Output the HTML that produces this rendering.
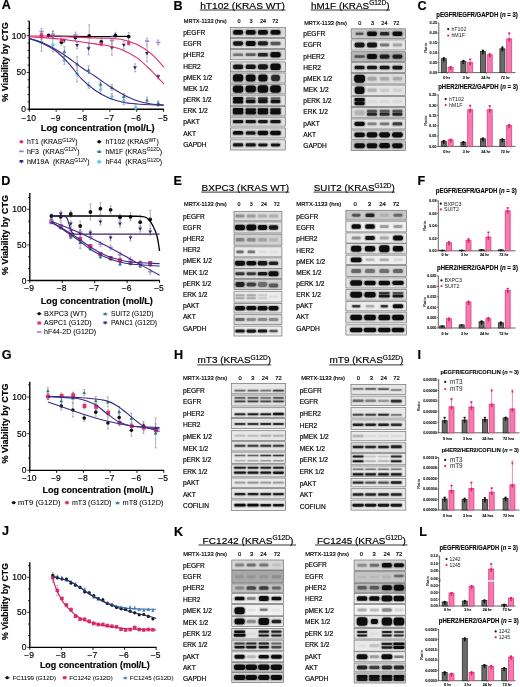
<!DOCTYPE html>
<html><head><meta charset="utf-8"><style>
html,body{margin:0;padding:0;background:#fff;overflow:hidden}
svg{display:block}
text{font-family:"Liberation Sans",Arial,sans-serif;stroke:#000;stroke-width:0.17px}
.ns text{stroke:none}
</style></head><body>
<svg width="520" height="687" viewBox="0 0 520 687">
<defs><filter id="bl" x="-5%" y="-5%" width="110%" height="110%"><feGaussianBlur stdDeviation="0.45"/></filter>
<filter id="bb" x="-20%" y="-50%" width="140%" height="200%"><feGaussianBlur stdDeviation="0.55"/></filter></defs>
<rect width="520" height="687" fill="#fff"/>
<text x="1.7" y="9.4" font-size="12.6" font-weight="bold">A</text>
<line x1="29.30" y1="21.00" x2="29.30" y2="109.80" stroke="#000" stroke-width="1.35"/>
<line x1="26.70" y1="109.20" x2="29.30" y2="109.20" stroke="#000" stroke-width="0.8"/>
<line x1="27.50" y1="101.85" x2="29.30" y2="101.85" stroke="#000" stroke-width="0.8"/>
<line x1="27.50" y1="94.50" x2="29.30" y2="94.50" stroke="#000" stroke-width="0.8"/>
<line x1="27.50" y1="87.15" x2="29.30" y2="87.15" stroke="#000" stroke-width="0.8"/>
<line x1="27.50" y1="79.80" x2="29.30" y2="79.80" stroke="#000" stroke-width="0.8"/>
<line x1="26.70" y1="72.45" x2="29.30" y2="72.45" stroke="#000" stroke-width="0.8"/>
<line x1="27.50" y1="65.10" x2="29.30" y2="65.10" stroke="#000" stroke-width="0.8"/>
<line x1="27.50" y1="57.75" x2="29.30" y2="57.75" stroke="#000" stroke-width="0.8"/>
<line x1="27.50" y1="50.40" x2="29.30" y2="50.40" stroke="#000" stroke-width="0.8"/>
<line x1="27.50" y1="43.05" x2="29.30" y2="43.05" stroke="#000" stroke-width="0.8"/>
<line x1="26.70" y1="35.70" x2="29.30" y2="35.70" stroke="#000" stroke-width="0.8"/>
<line x1="27.50" y1="28.35" x2="29.30" y2="28.35" stroke="#000" stroke-width="0.8"/>
<line x1="27.50" y1="21.00" x2="29.30" y2="21.00" stroke="#000" stroke-width="0.8"/>
<text x="26.0" y="112.2" font-size="8.5" text-anchor="end">0</text>
<text x="26.0" y="75.45" font-size="8.5" text-anchor="end">50</text>
<text x="26.0" y="38.7" font-size="8.5" text-anchor="end">100</text>
<line x1="28.80" y1="109.20" x2="163.85" y2="109.20" stroke="#000" stroke-width="1.35"/>
<line x1="29.30" y1="109.20" x2="29.30" y2="111.80" stroke="#000" stroke-width="0.9"/>
<text x="28.7" y="120.6" font-size="8.5" text-anchor="middle">−10</text>
<line x1="56.15" y1="109.20" x2="56.15" y2="111.80" stroke="#000" stroke-width="0.9"/>
<text x="55.550000000000004" y="120.6" font-size="8.5" text-anchor="middle">−9</text>
<line x1="83.00" y1="109.20" x2="83.00" y2="111.80" stroke="#000" stroke-width="0.9"/>
<text x="82.4" y="120.6" font-size="8.5" text-anchor="middle">−8</text>
<line x1="109.85" y1="109.20" x2="109.85" y2="111.80" stroke="#000" stroke-width="0.9"/>
<text x="109.25000000000001" y="120.6" font-size="8.5" text-anchor="middle">−7</text>
<line x1="136.70" y1="109.20" x2="136.70" y2="111.80" stroke="#000" stroke-width="0.9"/>
<text x="136.10000000000002" y="120.6" font-size="8.5" text-anchor="middle">−6</text>
<line x1="163.55" y1="109.20" x2="163.55" y2="111.80" stroke="#000" stroke-width="0.9"/>
<text x="162.95000000000002" y="120.6" font-size="8.5" text-anchor="middle">−5</text>
<text x="0" y="0" font-size="9.4" font-weight="bold" text-anchor="middle" textLength="79.5" lengthAdjust="spacingAndGlyphs" transform="translate(7.7,62.0) rotate(-90)">% Viability by CTG</text>
<text x="40.8" y="130.6" font-size="9.3" font-weight="bold" textLength="113.8" lengthAdjust="spacingAndGlyphs">Log concentration (mol/L)</text>
<path d="M48.50,36.20 C55.42,36.27 76.63,36.57 90.00,36.60 C103.37,36.63 122.25,36.43 128.70,36.40" stroke="#000" stroke-width="1.3" fill="none"/>
<line x1="61.40" y1="39.20" x2="61.40" y2="45.20" stroke="#8a8a96" stroke-width="0.65"/>
<line x1="60.30" y1="39.20" x2="62.50" y2="39.20" stroke="#8a8a96" stroke-width="0.65"/>
<line x1="60.30" y1="45.20" x2="62.50" y2="45.20" stroke="#8a8a96" stroke-width="0.65"/>
<line x1="75.40" y1="34.50" x2="75.40" y2="40.50" stroke="#8a8a96" stroke-width="0.65"/>
<line x1="74.30" y1="34.50" x2="76.50" y2="34.50" stroke="#8a8a96" stroke-width="0.65"/>
<line x1="74.30" y1="40.50" x2="76.50" y2="40.50" stroke="#8a8a96" stroke-width="0.65"/>
<line x1="89.20" y1="24.90" x2="89.20" y2="46.90" stroke="#8a8a96" stroke-width="0.65"/>
<line x1="88.10" y1="24.90" x2="90.30" y2="24.90" stroke="#8a8a96" stroke-width="0.65"/>
<line x1="88.10" y1="46.90" x2="90.30" y2="46.90" stroke="#8a8a96" stroke-width="0.65"/>
<line x1="101.30" y1="38.80" x2="101.30" y2="44.80" stroke="#8a8a96" stroke-width="0.65"/>
<line x1="100.20" y1="38.80" x2="102.40" y2="38.80" stroke="#8a8a96" stroke-width="0.65"/>
<line x1="100.20" y1="44.80" x2="102.40" y2="44.80" stroke="#8a8a96" stroke-width="0.65"/>
<line x1="115.40" y1="32.40" x2="115.40" y2="38.40" stroke="#8a8a96" stroke-width="0.65"/>
<line x1="114.30" y1="32.40" x2="116.50" y2="32.40" stroke="#8a8a96" stroke-width="0.65"/>
<line x1="114.30" y1="38.40" x2="116.50" y2="38.40" stroke="#8a8a96" stroke-width="0.65"/>
<line x1="128.70" y1="32.60" x2="128.70" y2="40.60" stroke="#8a8a96" stroke-width="0.65"/>
<line x1="127.60" y1="32.60" x2="129.80" y2="32.60" stroke="#8a8a96" stroke-width="0.65"/>
<line x1="127.60" y1="40.60" x2="129.80" y2="40.60" stroke="#8a8a96" stroke-width="0.65"/>
<line x1="41.50" y1="33.20" x2="41.50" y2="51.20" stroke="#8a8a96" stroke-width="0.65"/>
<line x1="40.40" y1="33.20" x2="42.60" y2="33.20" stroke="#8a8a96" stroke-width="0.65"/>
<line x1="40.40" y1="51.20" x2="42.60" y2="51.20" stroke="#8a8a96" stroke-width="0.65"/>
<line x1="52.90" y1="37.90" x2="52.90" y2="51.90" stroke="#8a8a96" stroke-width="0.65"/>
<line x1="51.80" y1="37.90" x2="54.00" y2="37.90" stroke="#8a8a96" stroke-width="0.65"/>
<line x1="51.80" y1="51.90" x2="54.00" y2="51.90" stroke="#8a8a96" stroke-width="0.65"/>
<line x1="64.30" y1="56.40" x2="64.30" y2="64.40" stroke="#8a8a96" stroke-width="0.65"/>
<line x1="63.20" y1="56.40" x2="65.40" y2="56.40" stroke="#8a8a96" stroke-width="0.65"/>
<line x1="63.20" y1="64.40" x2="65.40" y2="64.40" stroke="#8a8a96" stroke-width="0.65"/>
<line x1="77.10" y1="65.80" x2="77.10" y2="81.80" stroke="#8a8a96" stroke-width="0.65"/>
<line x1="76.00" y1="65.80" x2="78.20" y2="65.80" stroke="#8a8a96" stroke-width="0.65"/>
<line x1="76.00" y1="81.80" x2="78.20" y2="81.80" stroke="#8a8a96" stroke-width="0.65"/>
<line x1="88.60" y1="82.30" x2="88.60" y2="88.30" stroke="#8a8a96" stroke-width="0.65"/>
<line x1="87.50" y1="82.30" x2="89.70" y2="82.30" stroke="#8a8a96" stroke-width="0.65"/>
<line x1="87.50" y1="88.30" x2="89.70" y2="88.30" stroke="#8a8a96" stroke-width="0.65"/>
<line x1="100.60" y1="85.50" x2="100.60" y2="93.50" stroke="#8a8a96" stroke-width="0.65"/>
<line x1="99.50" y1="85.50" x2="101.70" y2="85.50" stroke="#8a8a96" stroke-width="0.65"/>
<line x1="99.50" y1="93.50" x2="101.70" y2="93.50" stroke="#8a8a96" stroke-width="0.65"/>
<line x1="111.90" y1="93.50" x2="111.90" y2="99.50" stroke="#8a8a96" stroke-width="0.65"/>
<line x1="110.80" y1="93.50" x2="113.00" y2="93.50" stroke="#8a8a96" stroke-width="0.65"/>
<line x1="110.80" y1="99.50" x2="113.00" y2="99.50" stroke="#8a8a96" stroke-width="0.65"/>
<line x1="123.80" y1="96.80" x2="123.80" y2="104.80" stroke="#8a8a96" stroke-width="0.65"/>
<line x1="122.70" y1="96.80" x2="124.90" y2="96.80" stroke="#8a8a96" stroke-width="0.65"/>
<line x1="122.70" y1="104.80" x2="124.90" y2="104.80" stroke="#8a8a96" stroke-width="0.65"/>
<line x1="135.70" y1="105.80" x2="135.70" y2="109.80" stroke="#8a8a96" stroke-width="0.65"/>
<line x1="134.60" y1="105.80" x2="136.80" y2="105.80" stroke="#8a8a96" stroke-width="0.65"/>
<line x1="134.60" y1="109.80" x2="136.80" y2="109.80" stroke="#8a8a96" stroke-width="0.65"/>
<line x1="158.20" y1="102.30" x2="158.20" y2="106.30" stroke="#8a8a96" stroke-width="0.65"/>
<line x1="157.10" y1="102.30" x2="159.30" y2="102.30" stroke="#8a8a96" stroke-width="0.65"/>
<line x1="157.10" y1="106.30" x2="159.30" y2="106.30" stroke="#8a8a96" stroke-width="0.65"/>
<line x1="41.50" y1="31.50" x2="41.50" y2="39.50" stroke="#8a8a96" stroke-width="0.65"/>
<line x1="40.40" y1="31.50" x2="42.60" y2="31.50" stroke="#8a8a96" stroke-width="0.65"/>
<line x1="40.40" y1="39.50" x2="42.60" y2="39.50" stroke="#8a8a96" stroke-width="0.65"/>
<line x1="52.90" y1="30.80" x2="52.90" y2="38.80" stroke="#8a8a96" stroke-width="0.65"/>
<line x1="51.80" y1="30.80" x2="54.00" y2="30.80" stroke="#8a8a96" stroke-width="0.65"/>
<line x1="51.80" y1="38.80" x2="54.00" y2="38.80" stroke="#8a8a96" stroke-width="0.65"/>
<line x1="64.30" y1="46.60" x2="64.30" y2="56.60" stroke="#8a8a96" stroke-width="0.65"/>
<line x1="63.20" y1="46.60" x2="65.40" y2="46.60" stroke="#8a8a96" stroke-width="0.65"/>
<line x1="63.20" y1="56.60" x2="65.40" y2="56.60" stroke="#8a8a96" stroke-width="0.65"/>
<line x1="77.10" y1="56.70" x2="77.10" y2="70.70" stroke="#8a8a96" stroke-width="0.65"/>
<line x1="76.00" y1="56.70" x2="78.20" y2="56.70" stroke="#8a8a96" stroke-width="0.65"/>
<line x1="76.00" y1="70.70" x2="78.20" y2="70.70" stroke="#8a8a96" stroke-width="0.65"/>
<line x1="88.60" y1="65.80" x2="88.60" y2="73.80" stroke="#8a8a96" stroke-width="0.65"/>
<line x1="87.50" y1="65.80" x2="89.70" y2="65.80" stroke="#8a8a96" stroke-width="0.65"/>
<line x1="87.50" y1="73.80" x2="89.70" y2="73.80" stroke="#8a8a96" stroke-width="0.65"/>
<line x1="100.60" y1="80.90" x2="100.60" y2="86.90" stroke="#8a8a96" stroke-width="0.65"/>
<line x1="99.50" y1="80.90" x2="101.70" y2="80.90" stroke="#8a8a96" stroke-width="0.65"/>
<line x1="99.50" y1="86.90" x2="101.70" y2="86.90" stroke="#8a8a96" stroke-width="0.65"/>
<line x1="111.90" y1="84.40" x2="111.90" y2="90.40" stroke="#8a8a96" stroke-width="0.65"/>
<line x1="110.80" y1="84.40" x2="113.00" y2="84.40" stroke="#8a8a96" stroke-width="0.65"/>
<line x1="110.80" y1="90.40" x2="113.00" y2="90.40" stroke="#8a8a96" stroke-width="0.65"/>
<line x1="123.80" y1="93.50" x2="123.80" y2="99.50" stroke="#8a8a96" stroke-width="0.65"/>
<line x1="122.70" y1="93.50" x2="124.90" y2="93.50" stroke="#8a8a96" stroke-width="0.65"/>
<line x1="122.70" y1="99.50" x2="124.90" y2="99.50" stroke="#8a8a96" stroke-width="0.65"/>
<line x1="147.00" y1="97.00" x2="147.00" y2="103.00" stroke="#8a8a96" stroke-width="0.65"/>
<line x1="145.90" y1="97.00" x2="148.10" y2="97.00" stroke="#8a8a96" stroke-width="0.65"/>
<line x1="145.90" y1="103.00" x2="148.10" y2="103.00" stroke="#8a8a96" stroke-width="0.65"/>
<line x1="158.20" y1="100.90" x2="158.20" y2="104.90" stroke="#8a8a96" stroke-width="0.65"/>
<line x1="157.10" y1="100.90" x2="159.30" y2="100.90" stroke="#8a8a96" stroke-width="0.65"/>
<line x1="157.10" y1="104.90" x2="159.30" y2="104.90" stroke="#8a8a96" stroke-width="0.65"/>
<line x1="41.50" y1="34.50" x2="41.50" y2="38.50" stroke="#8a8a96" stroke-width="0.65"/>
<line x1="40.40" y1="34.50" x2="42.60" y2="34.50" stroke="#8a8a96" stroke-width="0.65"/>
<line x1="40.40" y1="38.50" x2="42.60" y2="38.50" stroke="#8a8a96" stroke-width="0.65"/>
<line x1="64.30" y1="38.50" x2="64.30" y2="42.50" stroke="#8a8a96" stroke-width="0.65"/>
<line x1="63.20" y1="38.50" x2="65.40" y2="38.50" stroke="#8a8a96" stroke-width="0.65"/>
<line x1="63.20" y1="42.50" x2="65.40" y2="42.50" stroke="#8a8a96" stroke-width="0.65"/>
<line x1="77.10" y1="42.60" x2="77.10" y2="48.60" stroke="#8a8a96" stroke-width="0.65"/>
<line x1="76.00" y1="42.60" x2="78.20" y2="42.60" stroke="#8a8a96" stroke-width="0.65"/>
<line x1="76.00" y1="48.60" x2="78.20" y2="48.60" stroke="#8a8a96" stroke-width="0.65"/>
<line x1="88.60" y1="42.90" x2="88.60" y2="54.90" stroke="#8a8a96" stroke-width="0.65"/>
<line x1="87.50" y1="42.90" x2="89.70" y2="42.90" stroke="#8a8a96" stroke-width="0.65"/>
<line x1="87.50" y1="54.90" x2="89.70" y2="54.90" stroke="#8a8a96" stroke-width="0.65"/>
<line x1="111.90" y1="41.10" x2="111.90" y2="55.10" stroke="#8a8a96" stroke-width="0.65"/>
<line x1="110.80" y1="41.10" x2="113.00" y2="41.10" stroke="#8a8a96" stroke-width="0.65"/>
<line x1="110.80" y1="55.10" x2="113.00" y2="55.10" stroke="#8a8a96" stroke-width="0.65"/>
<line x1="123.80" y1="41.30" x2="123.80" y2="49.30" stroke="#8a8a96" stroke-width="0.65"/>
<line x1="122.70" y1="41.30" x2="124.90" y2="41.30" stroke="#8a8a96" stroke-width="0.65"/>
<line x1="122.70" y1="49.30" x2="124.90" y2="49.30" stroke="#8a8a96" stroke-width="0.65"/>
<line x1="135.00" y1="63.80" x2="135.00" y2="71.80" stroke="#8a8a96" stroke-width="0.65"/>
<line x1="133.90" y1="63.80" x2="136.10" y2="63.80" stroke="#8a8a96" stroke-width="0.65"/>
<line x1="133.90" y1="71.80" x2="136.10" y2="71.80" stroke="#8a8a96" stroke-width="0.65"/>
<line x1="147.00" y1="45.70" x2="147.00" y2="61.70" stroke="#8a8a96" stroke-width="0.65"/>
<line x1="145.90" y1="45.70" x2="148.10" y2="45.70" stroke="#8a8a96" stroke-width="0.65"/>
<line x1="145.90" y1="61.70" x2="148.10" y2="61.70" stroke="#8a8a96" stroke-width="0.65"/>
<line x1="158.20" y1="74.90" x2="158.20" y2="78.90" stroke="#8a8a96" stroke-width="0.65"/>
<line x1="157.10" y1="74.90" x2="159.30" y2="74.90" stroke="#8a8a96" stroke-width="0.65"/>
<line x1="157.10" y1="78.90" x2="159.30" y2="78.90" stroke="#8a8a96" stroke-width="0.65"/>
<line x1="41.50" y1="28.50" x2="41.50" y2="34.50" stroke="#8a8a96" stroke-width="0.65"/>
<line x1="40.40" y1="28.50" x2="42.60" y2="28.50" stroke="#8a8a96" stroke-width="0.65"/>
<line x1="40.40" y1="34.50" x2="42.60" y2="34.50" stroke="#8a8a96" stroke-width="0.65"/>
<line x1="52.90" y1="31.50" x2="52.90" y2="37.50" stroke="#8a8a96" stroke-width="0.65"/>
<line x1="51.80" y1="31.50" x2="54.00" y2="31.50" stroke="#8a8a96" stroke-width="0.65"/>
<line x1="51.80" y1="37.50" x2="54.00" y2="37.50" stroke="#8a8a96" stroke-width="0.65"/>
<line x1="75.50" y1="32.00" x2="75.50" y2="38.00" stroke="#8a8a96" stroke-width="0.65"/>
<line x1="74.40" y1="32.00" x2="76.60" y2="32.00" stroke="#8a8a96" stroke-width="0.65"/>
<line x1="74.40" y1="38.00" x2="76.60" y2="38.00" stroke="#8a8a96" stroke-width="0.65"/>
<line x1="111.90" y1="36.40" x2="111.90" y2="44.40" stroke="#8a8a96" stroke-width="0.65"/>
<line x1="110.80" y1="36.40" x2="113.00" y2="36.40" stroke="#8a8a96" stroke-width="0.65"/>
<line x1="110.80" y1="44.40" x2="113.00" y2="44.40" stroke="#8a8a96" stroke-width="0.65"/>
<line x1="147.00" y1="38.10" x2="147.00" y2="44.10" stroke="#8a8a96" stroke-width="0.65"/>
<line x1="145.90" y1="38.10" x2="148.10" y2="38.10" stroke="#8a8a96" stroke-width="0.65"/>
<line x1="145.90" y1="44.10" x2="148.10" y2="44.10" stroke="#8a8a96" stroke-width="0.65"/>
<line x1="158.20" y1="40.00" x2="158.20" y2="45.00" stroke="#8a8a96" stroke-width="0.65"/>
<line x1="157.10" y1="40.00" x2="159.30" y2="40.00" stroke="#8a8a96" stroke-width="0.65"/>
<line x1="157.10" y1="45.00" x2="159.30" y2="45.00" stroke="#8a8a96" stroke-width="0.65"/>
<line x1="41.50" y1="33.00" x2="41.50" y2="37.00" stroke="#8a8a96" stroke-width="0.65"/>
<line x1="40.40" y1="33.00" x2="42.60" y2="33.00" stroke="#8a8a96" stroke-width="0.65"/>
<line x1="40.40" y1="37.00" x2="42.60" y2="37.00" stroke="#8a8a96" stroke-width="0.65"/>
<line x1="61.60" y1="38.20" x2="61.60" y2="42.20" stroke="#8a8a96" stroke-width="0.65"/>
<line x1="60.50" y1="38.20" x2="62.70" y2="38.20" stroke="#8a8a96" stroke-width="0.65"/>
<line x1="60.50" y1="42.20" x2="62.70" y2="42.20" stroke="#8a8a96" stroke-width="0.65"/>
<line x1="101.30" y1="41.90" x2="101.30" y2="45.90" stroke="#8a8a96" stroke-width="0.65"/>
<line x1="100.20" y1="41.90" x2="102.40" y2="41.90" stroke="#8a8a96" stroke-width="0.65"/>
<line x1="100.20" y1="45.90" x2="102.40" y2="45.90" stroke="#8a8a96" stroke-width="0.65"/>
<line x1="128.70" y1="41.20" x2="128.70" y2="45.20" stroke="#8a8a96" stroke-width="0.65"/>
<line x1="127.60" y1="41.20" x2="129.80" y2="41.20" stroke="#8a8a96" stroke-width="0.65"/>
<line x1="127.60" y1="45.20" x2="129.80" y2="45.20" stroke="#8a8a96" stroke-width="0.65"/>
<circle cx="48.50" cy="35.50" r="1.9" fill="#111"/>
<circle cx="61.40" cy="42.20" r="1.9" fill="#111"/>
<circle cx="75.40" cy="37.50" r="1.9" fill="#111"/>
<circle cx="89.20" cy="35.90" r="1.9" fill="#111"/>
<circle cx="101.30" cy="41.80" r="1.9" fill="#111"/>
<circle cx="115.40" cy="35.40" r="1.9" fill="#111"/>
<circle cx="128.70" cy="36.60" r="1.9" fill="#111"/>
<path d="M39.42,42.20 L41.50,40.12 L43.58,42.20 L41.50,44.28Z" fill="#5cc8ea"/>
<path d="M50.82,44.90 L52.90,42.82 L54.98,44.90 L52.90,46.98Z" fill="#5cc8ea"/>
<path d="M62.22,60.40 L64.30,58.32 L66.38,60.40 L64.30,62.48Z" fill="#5cc8ea"/>
<path d="M75.02,73.80 L77.10,71.72 L79.18,73.80 L77.10,75.88Z" fill="#5cc8ea"/>
<path d="M86.52,85.30 L88.60,83.22 L90.68,85.30 L88.60,87.38Z" fill="#5cc8ea"/>
<path d="M98.52,89.50 L100.60,87.42 L102.68,89.50 L100.60,91.58Z" fill="#5cc8ea"/>
<path d="M109.82,96.50 L111.90,94.42 L113.98,96.50 L111.90,98.58Z" fill="#5cc8ea"/>
<path d="M121.72,100.80 L123.80,98.72 L125.88,100.80 L123.80,102.88Z" fill="#5cc8ea"/>
<path d="M133.62,107.80 L135.70,105.72 L137.78,107.80 L135.70,109.88Z" fill="#5cc8ea"/>
<path d="M156.12,104.30 L158.20,102.22 L160.28,104.30 L158.20,106.38Z" fill="#5cc8ea"/>
<path d="M39.58,37.10 L43.42,37.10 L41.50,33.74Z" fill="#2f7f8f"/>
<path d="M50.98,36.40 L54.82,36.40 L52.90,33.04Z" fill="#2f7f8f"/>
<path d="M62.38,53.20 L66.22,53.20 L64.30,49.84Z" fill="#2f7f8f"/>
<path d="M75.18,65.30 L79.02,65.30 L77.10,61.94Z" fill="#2f7f8f"/>
<path d="M86.68,71.40 L90.52,71.40 L88.60,68.04Z" fill="#2f7f8f"/>
<path d="M98.68,85.50 L102.52,85.50 L100.60,82.14Z" fill="#2f7f8f"/>
<path d="M109.98,89.00 L113.82,89.00 L111.90,85.64Z" fill="#2f7f8f"/>
<path d="M121.88,98.10 L125.72,98.10 L123.80,94.74Z" fill="#2f7f8f"/>
<path d="M145.08,101.60 L148.92,101.60 L147.00,98.24Z" fill="#2f7f8f"/>
<path d="M156.28,104.50 L160.12,104.50 L158.20,101.14Z" fill="#2f7f8f"/>
<path d="M39.58,34.90 L43.42,34.90 L41.50,38.26Z" fill="#3b1d6e"/>
<path d="M62.38,38.90 L66.22,38.90 L64.30,42.26Z" fill="#3b1d6e"/>
<path d="M75.18,44.00 L79.02,44.00 L77.10,47.36Z" fill="#3b1d6e"/>
<path d="M86.68,47.30 L90.52,47.30 L88.60,50.66Z" fill="#3b1d6e"/>
<path d="M109.98,46.50 L113.82,46.50 L111.90,49.86Z" fill="#3b1d6e"/>
<path d="M121.88,43.70 L125.72,43.70 L123.80,47.06Z" fill="#3b1d6e"/>
<path d="M133.08,66.20 L136.92,66.20 L135.00,69.56Z" fill="#3b1d6e"/>
<path d="M145.08,52.10 L148.92,52.10 L147.00,55.46Z" fill="#3b1d6e"/>
<path d="M156.28,75.30 L160.12,75.30 L158.20,78.66Z" fill="#3b1d6e"/>
<rect x="39.42" y="30.70" width="4.16" height="1.60" fill="#a27be8"/>
<rect x="50.82" y="33.70" width="4.16" height="1.60" fill="#a27be8"/>
<rect x="73.42" y="34.20" width="4.16" height="1.60" fill="#a27be8"/>
<rect x="109.82" y="39.60" width="4.16" height="1.60" fill="#a27be8"/>
<rect x="144.92" y="40.30" width="4.16" height="1.60" fill="#a27be8"/>
<rect x="156.12" y="41.70" width="4.16" height="1.60" fill="#a27be8"/>
<circle cx="41.50" cy="35.00" r="1.9" fill="#e4306f"/>
<rect x="60.00" y="38.60" width="3.20" height="3.20" fill="#e4306f"/>
<rect x="99.70" y="42.30" width="3.20" height="3.20" fill="#e4306f"/>
<rect x="127.10" y="41.60" width="3.20" height="3.20" fill="#e4306f"/>
<path d="M29.50,36.00 C34.58,36.03 49.08,35.87 60.00,36.20 C70.92,36.53 86.83,37.65 95.00,38.00 C103.17,38.35 104.33,38.02 109.00,38.30 C113.67,38.58 118.32,38.65 123.00,39.70 C127.68,40.75 132.40,42.27 137.10,44.60 C141.80,46.93 146.75,49.97 151.20,53.70 C155.65,57.43 161.70,64.78 163.80,67.00" stroke="#dc2a6c" stroke-width="1.1" fill="none"/>
<path d="M29.50,36.80 C34.58,37.17 49.08,37.82 60.00,39.00 C70.92,40.18 86.83,42.73 95.00,43.90 C103.17,45.07 104.33,44.95 109.00,46.00 C113.67,47.05 118.32,48.22 123.00,50.20 C127.68,52.18 132.40,54.50 137.10,57.90 C141.80,61.30 146.75,66.27 151.20,70.60 C155.65,74.93 161.70,81.68 163.80,83.90" stroke="#dc2a6c" stroke-width="1.1" fill="none"/>
<path d="M29.50,38.60 C31.50,39.20 37.27,40.48 41.50,42.20 C45.73,43.92 50.42,46.32 54.90,48.90 C59.38,51.48 63.92,54.55 68.40,57.70 C72.88,60.85 77.37,64.72 81.80,67.80 C86.23,70.88 90.47,73.17 95.00,76.20 C99.53,79.23 104.33,82.97 109.00,86.00 C113.67,89.03 118.32,91.93 123.00,94.40 C127.68,96.87 132.40,99.20 137.10,100.80 C141.80,102.40 146.75,103.30 151.20,104.00 C155.65,104.70 161.70,104.83 163.80,105.00" stroke="#3a2a86" stroke-width="1.1" fill="none"/>
<path d="M29.50,38.60 C31.50,39.32 37.27,40.95 41.50,42.90 C45.73,44.85 50.42,46.93 54.90,50.30 C59.38,53.67 63.92,58.28 68.40,63.10 C72.88,67.92 77.37,74.68 81.80,79.20 C86.23,83.72 90.47,87.07 95.00,90.20 C99.53,93.33 104.33,96.00 109.00,98.00 C113.67,100.00 118.32,101.20 123.00,102.20 C127.68,103.20 132.40,103.57 137.10,104.00 C141.80,104.43 146.75,104.60 151.20,104.80 C155.65,105.00 161.70,105.13 163.80,105.20" stroke="#3a2a86" stroke-width="1.1" fill="none"/>
<circle cx="21.40" cy="141.80" r="1.7" fill="#e4306f"/>
<line x1="19.00" y1="141.80" x2="23.80" y2="141.80" stroke="#e4306f" stroke-width="0.7"/>
<text x="26.9" y="144.30" font-size="7" style="stroke-width:0.05px">hT1 (KRAS<tspan dy="-2.6" font-size="5.04">G12V</tspan><tspan dy="2.6">)</tspan></text>
<rect x="19.19" y="150.55" width="4.42" height="1.70" fill="#a27be8"/>
<line x1="19.00" y1="151.40" x2="23.80" y2="151.40" stroke="#a27be8" stroke-width="0.7"/>
<text x="26.9" y="153.90" font-size="7" style="stroke-width:0.05px">hF3&#160; (KRAS<tspan dy="-2.6" font-size="5.04">G12V</tspan><tspan dy="2.6">)</tspan></text>
<path d="M19.36,160.10 L23.44,160.10 L21.40,163.67Z" fill="#3b1d6e"/>
<line x1="19.00" y1="161.80" x2="23.80" y2="161.80" stroke="#3b1d6e" stroke-width="0.7"/>
<text x="26.9" y="164.30" font-size="7" style="stroke-width:0.05px">hM19A&#160; (KRAS<tspan dy="-2.6" font-size="5.04">G12V</tspan><tspan dy="2.6">)</tspan></text>
<circle cx="99.20" cy="141.80" r="1.7" fill="#111"/>
<line x1="96.80" y1="141.80" x2="101.60" y2="141.80" stroke="#111" stroke-width="0.7"/>
<text x="105.4" y="144.30" font-size="7" style="stroke-width:0.05px">hT102 (KRAS<tspan dy="-2.6" font-size="5.04">WT</tspan><tspan dy="2.6">)</tspan></text>
<path d="M97.16,153.10 L101.24,153.10 L99.20,149.53Z" fill="#2f7f8f"/>
<line x1="96.80" y1="151.40" x2="101.60" y2="151.40" stroke="#2f7f8f" stroke-width="0.7"/>
<text x="105.4" y="153.90" font-size="7" style="stroke-width:0.05px">hM1F (KRAS<tspan dy="-2.6" font-size="5.04">G12D</tspan><tspan dy="2.6">)</tspan></text>
<path d="M96.99,161.80 L99.20,159.59 L101.41,161.80 L99.20,164.01Z" fill="#5cc8ea"/>
<line x1="96.80" y1="161.80" x2="101.60" y2="161.80" stroke="#5cc8ea" stroke-width="0.7"/>
<text x="105.4" y="164.30" font-size="7" style="stroke-width:0.05px">hF44&#160; (KRAS<tspan dy="-2.6" font-size="5.04">G12D</tspan><tspan dy="2.6">)</tspan></text>
<text x="1.3" y="185.4" font-size="12.6" font-weight="bold">D</text>
<line x1="29.80" y1="193.00" x2="29.80" y2="281.10" stroke="#000" stroke-width="1.35"/>
<line x1="27.20" y1="280.50" x2="29.80" y2="280.50" stroke="#000" stroke-width="0.8"/>
<line x1="28.00" y1="268.63" x2="29.80" y2="268.63" stroke="#000" stroke-width="0.8"/>
<line x1="28.00" y1="256.77" x2="29.80" y2="256.77" stroke="#000" stroke-width="0.8"/>
<line x1="27.20" y1="244.90" x2="29.80" y2="244.90" stroke="#000" stroke-width="0.8"/>
<line x1="28.00" y1="233.03" x2="29.80" y2="233.03" stroke="#000" stroke-width="0.8"/>
<line x1="28.00" y1="221.17" x2="29.80" y2="221.17" stroke="#000" stroke-width="0.8"/>
<line x1="27.20" y1="209.30" x2="29.80" y2="209.30" stroke="#000" stroke-width="0.8"/>
<line x1="28.00" y1="197.43" x2="29.80" y2="197.43" stroke="#000" stroke-width="0.8"/>
<text x="26.5" y="283.5" font-size="8.5" text-anchor="end">0</text>
<text x="26.5" y="247.9" font-size="8.5" text-anchor="end">50</text>
<text x="26.5" y="212.3" font-size="8.5" text-anchor="end">100</text>
<line x1="29.30" y1="280.50" x2="159.90" y2="280.50" stroke="#000" stroke-width="1.35"/>
<line x1="29.80" y1="280.50" x2="29.80" y2="283.10" stroke="#000" stroke-width="0.9"/>
<text x="29.2" y="291.3" font-size="8.5" text-anchor="middle">−9</text>
<line x1="62.25" y1="280.50" x2="62.25" y2="283.10" stroke="#000" stroke-width="0.9"/>
<text x="61.65" y="291.3" font-size="8.5" text-anchor="middle">−8</text>
<line x1="94.70" y1="280.50" x2="94.70" y2="283.10" stroke="#000" stroke-width="0.9"/>
<text x="94.10000000000001" y="291.3" font-size="8.5" text-anchor="middle">−7</text>
<line x1="127.15" y1="280.50" x2="127.15" y2="283.10" stroke="#000" stroke-width="0.9"/>
<text x="126.55000000000001" y="291.3" font-size="8.5" text-anchor="middle">−6</text>
<line x1="159.60" y1="280.50" x2="159.60" y2="283.10" stroke="#000" stroke-width="0.9"/>
<text x="159.00000000000003" y="291.3" font-size="8.5" text-anchor="middle">−5</text>
<text x="0" y="0" font-size="9.4" font-weight="bold" text-anchor="middle" textLength="80" lengthAdjust="spacingAndGlyphs" transform="translate(7.7,235.0) rotate(-90)">% Viability by CTG</text>
<text x="40.8" y="303.6" font-size="9.3" font-weight="bold" textLength="112.1" lengthAdjust="spacingAndGlyphs">Log concentration (mol/L)</text>
<line x1="51.40" y1="214.00" x2="51.40" y2="218.00" stroke="#8a8a96" stroke-width="0.65"/>
<line x1="50.30" y1="214.00" x2="52.50" y2="214.00" stroke="#8a8a96" stroke-width="0.65"/>
<line x1="50.30" y1="218.00" x2="52.50" y2="218.00" stroke="#8a8a96" stroke-width="0.65"/>
<line x1="60.80" y1="212.80" x2="60.80" y2="220.80" stroke="#8a8a96" stroke-width="0.65"/>
<line x1="59.70" y1="212.80" x2="61.90" y2="212.80" stroke="#8a8a96" stroke-width="0.65"/>
<line x1="59.70" y1="220.80" x2="61.90" y2="220.80" stroke="#8a8a96" stroke-width="0.65"/>
<line x1="70.80" y1="211.00" x2="70.80" y2="217.00" stroke="#8a8a96" stroke-width="0.65"/>
<line x1="69.70" y1="211.00" x2="71.90" y2="211.00" stroke="#8a8a96" stroke-width="0.65"/>
<line x1="69.70" y1="217.00" x2="71.90" y2="217.00" stroke="#8a8a96" stroke-width="0.65"/>
<line x1="80.20" y1="221.00" x2="80.20" y2="231.00" stroke="#8a8a96" stroke-width="0.65"/>
<line x1="79.10" y1="221.00" x2="81.30" y2="221.00" stroke="#8a8a96" stroke-width="0.65"/>
<line x1="79.10" y1="231.00" x2="81.30" y2="231.00" stroke="#8a8a96" stroke-width="0.65"/>
<line x1="90.40" y1="204.00" x2="90.40" y2="220.00" stroke="#8a8a96" stroke-width="0.65"/>
<line x1="89.30" y1="204.00" x2="91.50" y2="204.00" stroke="#8a8a96" stroke-width="0.65"/>
<line x1="89.30" y1="220.00" x2="91.50" y2="220.00" stroke="#8a8a96" stroke-width="0.65"/>
<line x1="100.40" y1="202.70" x2="100.40" y2="214.70" stroke="#8a8a96" stroke-width="0.65"/>
<line x1="99.30" y1="202.70" x2="101.50" y2="202.70" stroke="#8a8a96" stroke-width="0.65"/>
<line x1="99.30" y1="214.70" x2="101.50" y2="214.70" stroke="#8a8a96" stroke-width="0.65"/>
<line x1="110.60" y1="205.80" x2="110.60" y2="213.80" stroke="#8a8a96" stroke-width="0.65"/>
<line x1="109.50" y1="205.80" x2="111.70" y2="205.80" stroke="#8a8a96" stroke-width="0.65"/>
<line x1="109.50" y1="213.80" x2="111.70" y2="213.80" stroke="#8a8a96" stroke-width="0.65"/>
<line x1="120.00" y1="214.30" x2="120.00" y2="220.30" stroke="#8a8a96" stroke-width="0.65"/>
<line x1="118.90" y1="214.30" x2="121.10" y2="214.30" stroke="#8a8a96" stroke-width="0.65"/>
<line x1="118.90" y1="220.30" x2="121.10" y2="220.30" stroke="#8a8a96" stroke-width="0.65"/>
<line x1="130.50" y1="212.80" x2="130.50" y2="220.80" stroke="#8a8a96" stroke-width="0.65"/>
<line x1="129.40" y1="212.80" x2="131.60" y2="212.80" stroke="#8a8a96" stroke-width="0.65"/>
<line x1="129.40" y1="220.80" x2="131.60" y2="220.80" stroke="#8a8a96" stroke-width="0.65"/>
<line x1="140.20" y1="215.20" x2="140.20" y2="229.20" stroke="#8a8a96" stroke-width="0.65"/>
<line x1="139.10" y1="215.20" x2="141.30" y2="215.20" stroke="#8a8a96" stroke-width="0.65"/>
<line x1="139.10" y1="229.20" x2="141.30" y2="229.20" stroke="#8a8a96" stroke-width="0.65"/>
<line x1="150.20" y1="210.50" x2="150.20" y2="228.50" stroke="#8a8a96" stroke-width="0.65"/>
<line x1="149.10" y1="210.50" x2="151.30" y2="210.50" stroke="#8a8a96" stroke-width="0.65"/>
<line x1="149.10" y1="228.50" x2="151.30" y2="228.50" stroke="#8a8a96" stroke-width="0.65"/>
<line x1="51.40" y1="218.00" x2="51.40" y2="224.00" stroke="#8a8a96" stroke-width="0.65"/>
<line x1="50.30" y1="218.00" x2="52.50" y2="218.00" stroke="#8a8a96" stroke-width="0.65"/>
<line x1="50.30" y1="224.00" x2="52.50" y2="224.00" stroke="#8a8a96" stroke-width="0.65"/>
<line x1="60.80" y1="211.00" x2="60.80" y2="217.00" stroke="#8a8a96" stroke-width="0.65"/>
<line x1="59.70" y1="211.00" x2="61.90" y2="211.00" stroke="#8a8a96" stroke-width="0.65"/>
<line x1="59.70" y1="217.00" x2="61.90" y2="217.00" stroke="#8a8a96" stroke-width="0.65"/>
<line x1="70.80" y1="221.00" x2="70.80" y2="227.00" stroke="#8a8a96" stroke-width="0.65"/>
<line x1="69.70" y1="221.00" x2="71.90" y2="221.00" stroke="#8a8a96" stroke-width="0.65"/>
<line x1="69.70" y1="227.00" x2="71.90" y2="227.00" stroke="#8a8a96" stroke-width="0.65"/>
<line x1="80.20" y1="231.00" x2="80.20" y2="237.00" stroke="#8a8a96" stroke-width="0.65"/>
<line x1="79.10" y1="231.00" x2="81.30" y2="231.00" stroke="#8a8a96" stroke-width="0.65"/>
<line x1="79.10" y1="237.00" x2="81.30" y2="237.00" stroke="#8a8a96" stroke-width="0.65"/>
<line x1="90.40" y1="230.00" x2="90.40" y2="236.00" stroke="#8a8a96" stroke-width="0.65"/>
<line x1="89.30" y1="230.00" x2="91.50" y2="230.00" stroke="#8a8a96" stroke-width="0.65"/>
<line x1="89.30" y1="236.00" x2="91.50" y2="236.00" stroke="#8a8a96" stroke-width="0.65"/>
<line x1="100.40" y1="219.00" x2="100.40" y2="225.00" stroke="#8a8a96" stroke-width="0.65"/>
<line x1="99.30" y1="219.00" x2="101.50" y2="219.00" stroke="#8a8a96" stroke-width="0.65"/>
<line x1="99.30" y1="225.00" x2="101.50" y2="225.00" stroke="#8a8a96" stroke-width="0.65"/>
<line x1="110.60" y1="235.00" x2="110.60" y2="241.00" stroke="#8a8a96" stroke-width="0.65"/>
<line x1="109.50" y1="235.00" x2="111.70" y2="235.00" stroke="#8a8a96" stroke-width="0.65"/>
<line x1="109.50" y1="241.00" x2="111.70" y2="241.00" stroke="#8a8a96" stroke-width="0.65"/>
<line x1="120.00" y1="221.00" x2="120.00" y2="227.00" stroke="#8a8a96" stroke-width="0.65"/>
<line x1="118.90" y1="221.00" x2="121.10" y2="221.00" stroke="#8a8a96" stroke-width="0.65"/>
<line x1="118.90" y1="227.00" x2="121.10" y2="227.00" stroke="#8a8a96" stroke-width="0.65"/>
<line x1="130.50" y1="235.00" x2="130.50" y2="241.00" stroke="#8a8a96" stroke-width="0.65"/>
<line x1="129.40" y1="235.00" x2="131.60" y2="235.00" stroke="#8a8a96" stroke-width="0.65"/>
<line x1="129.40" y1="241.00" x2="131.60" y2="241.00" stroke="#8a8a96" stroke-width="0.65"/>
<line x1="140.20" y1="226.00" x2="140.20" y2="232.00" stroke="#8a8a96" stroke-width="0.65"/>
<line x1="139.10" y1="226.00" x2="141.30" y2="226.00" stroke="#8a8a96" stroke-width="0.65"/>
<line x1="139.10" y1="232.00" x2="141.30" y2="232.00" stroke="#8a8a96" stroke-width="0.65"/>
<line x1="150.20" y1="229.00" x2="150.20" y2="235.00" stroke="#8a8a96" stroke-width="0.65"/>
<line x1="149.10" y1="229.00" x2="151.30" y2="229.00" stroke="#8a8a96" stroke-width="0.65"/>
<line x1="149.10" y1="235.00" x2="151.30" y2="235.00" stroke="#8a8a96" stroke-width="0.65"/>
<line x1="51.40" y1="220.41" x2="51.40" y2="223.41" stroke="#8a8a96" stroke-width="0.65"/>
<line x1="50.30" y1="220.41" x2="52.50" y2="220.41" stroke="#8a8a96" stroke-width="0.65"/>
<line x1="50.30" y1="223.41" x2="52.50" y2="223.41" stroke="#8a8a96" stroke-width="0.65"/>
<line x1="51.40" y1="219.36" x2="51.40" y2="223.36" stroke="#8a8a96" stroke-width="0.65"/>
<line x1="50.30" y1="219.36" x2="52.50" y2="219.36" stroke="#8a8a96" stroke-width="0.65"/>
<line x1="50.30" y1="223.36" x2="52.50" y2="223.36" stroke="#8a8a96" stroke-width="0.65"/>
<line x1="51.40" y1="218.38" x2="51.40" y2="223.38" stroke="#8a8a96" stroke-width="0.65"/>
<line x1="50.30" y1="218.38" x2="52.50" y2="218.38" stroke="#8a8a96" stroke-width="0.65"/>
<line x1="50.30" y1="223.38" x2="52.50" y2="223.38" stroke="#8a8a96" stroke-width="0.65"/>
<line x1="60.80" y1="225.21" x2="60.80" y2="228.21" stroke="#8a8a96" stroke-width="0.65"/>
<line x1="59.70" y1="225.21" x2="61.90" y2="225.21" stroke="#8a8a96" stroke-width="0.65"/>
<line x1="59.70" y1="228.21" x2="61.90" y2="228.21" stroke="#8a8a96" stroke-width="0.65"/>
<line x1="60.80" y1="225.45" x2="60.80" y2="229.45" stroke="#8a8a96" stroke-width="0.65"/>
<line x1="59.70" y1="225.45" x2="61.90" y2="225.45" stroke="#8a8a96" stroke-width="0.65"/>
<line x1="59.70" y1="229.45" x2="61.90" y2="229.45" stroke="#8a8a96" stroke-width="0.65"/>
<line x1="60.80" y1="222.25" x2="60.80" y2="227.25" stroke="#8a8a96" stroke-width="0.65"/>
<line x1="59.70" y1="222.25" x2="61.90" y2="222.25" stroke="#8a8a96" stroke-width="0.65"/>
<line x1="59.70" y1="227.25" x2="61.90" y2="227.25" stroke="#8a8a96" stroke-width="0.65"/>
<line x1="70.80" y1="233.45" x2="70.80" y2="236.45" stroke="#8a8a96" stroke-width="0.65"/>
<line x1="69.70" y1="233.45" x2="71.90" y2="233.45" stroke="#8a8a96" stroke-width="0.65"/>
<line x1="69.70" y1="236.45" x2="71.90" y2="236.45" stroke="#8a8a96" stroke-width="0.65"/>
<line x1="70.80" y1="234.79" x2="70.80" y2="238.79" stroke="#8a8a96" stroke-width="0.65"/>
<line x1="69.70" y1="234.79" x2="71.90" y2="234.79" stroke="#8a8a96" stroke-width="0.65"/>
<line x1="69.70" y1="238.79" x2="71.90" y2="238.79" stroke="#8a8a96" stroke-width="0.65"/>
<line x1="70.80" y1="227.80" x2="70.80" y2="232.80" stroke="#8a8a96" stroke-width="0.65"/>
<line x1="69.70" y1="227.80" x2="71.90" y2="227.80" stroke="#8a8a96" stroke-width="0.65"/>
<line x1="69.70" y1="232.80" x2="71.90" y2="232.80" stroke="#8a8a96" stroke-width="0.65"/>
<line x1="80.20" y1="237.45" x2="80.20" y2="240.45" stroke="#8a8a96" stroke-width="0.65"/>
<line x1="79.10" y1="237.45" x2="81.30" y2="237.45" stroke="#8a8a96" stroke-width="0.65"/>
<line x1="79.10" y1="240.45" x2="81.30" y2="240.45" stroke="#8a8a96" stroke-width="0.65"/>
<line x1="80.20" y1="236.42" x2="80.20" y2="248.42" stroke="#8a8a96" stroke-width="0.65"/>
<line x1="79.10" y1="236.42" x2="81.30" y2="236.42" stroke="#8a8a96" stroke-width="0.65"/>
<line x1="79.10" y1="248.42" x2="81.30" y2="248.42" stroke="#8a8a96" stroke-width="0.65"/>
<line x1="80.20" y1="229.70" x2="80.20" y2="234.70" stroke="#8a8a96" stroke-width="0.65"/>
<line x1="79.10" y1="229.70" x2="81.30" y2="229.70" stroke="#8a8a96" stroke-width="0.65"/>
<line x1="79.10" y1="234.70" x2="81.30" y2="234.70" stroke="#8a8a96" stroke-width="0.65"/>
<line x1="90.40" y1="244.48" x2="90.40" y2="247.48" stroke="#8a8a96" stroke-width="0.65"/>
<line x1="89.30" y1="244.48" x2="91.50" y2="244.48" stroke="#8a8a96" stroke-width="0.65"/>
<line x1="89.30" y1="247.48" x2="91.50" y2="247.48" stroke="#8a8a96" stroke-width="0.65"/>
<line x1="90.40" y1="246.46" x2="90.40" y2="250.46" stroke="#8a8a96" stroke-width="0.65"/>
<line x1="89.30" y1="246.46" x2="91.50" y2="246.46" stroke="#8a8a96" stroke-width="0.65"/>
<line x1="89.30" y1="250.46" x2="91.50" y2="250.46" stroke="#8a8a96" stroke-width="0.65"/>
<line x1="90.40" y1="234.44" x2="90.40" y2="239.44" stroke="#8a8a96" stroke-width="0.65"/>
<line x1="89.30" y1="234.44" x2="91.50" y2="234.44" stroke="#8a8a96" stroke-width="0.65"/>
<line x1="89.30" y1="239.44" x2="91.50" y2="239.44" stroke="#8a8a96" stroke-width="0.65"/>
<line x1="100.40" y1="252.40" x2="100.40" y2="255.40" stroke="#8a8a96" stroke-width="0.65"/>
<line x1="99.30" y1="252.40" x2="101.50" y2="252.40" stroke="#8a8a96" stroke-width="0.65"/>
<line x1="99.30" y1="255.40" x2="101.50" y2="255.40" stroke="#8a8a96" stroke-width="0.65"/>
<line x1="100.40" y1="254.48" x2="100.40" y2="258.48" stroke="#8a8a96" stroke-width="0.65"/>
<line x1="99.30" y1="254.48" x2="101.50" y2="254.48" stroke="#8a8a96" stroke-width="0.65"/>
<line x1="99.30" y1="258.48" x2="101.50" y2="258.48" stroke="#8a8a96" stroke-width="0.65"/>
<line x1="100.40" y1="241.69" x2="100.40" y2="246.69" stroke="#8a8a96" stroke-width="0.65"/>
<line x1="99.30" y1="241.69" x2="101.50" y2="241.69" stroke="#8a8a96" stroke-width="0.65"/>
<line x1="99.30" y1="246.69" x2="101.50" y2="246.69" stroke="#8a8a96" stroke-width="0.65"/>
<line x1="110.60" y1="256.44" x2="110.60" y2="259.44" stroke="#8a8a96" stroke-width="0.65"/>
<line x1="109.50" y1="256.44" x2="111.70" y2="256.44" stroke="#8a8a96" stroke-width="0.65"/>
<line x1="109.50" y1="259.44" x2="111.70" y2="259.44" stroke="#8a8a96" stroke-width="0.65"/>
<line x1="110.60" y1="256.66" x2="110.60" y2="260.66" stroke="#8a8a96" stroke-width="0.65"/>
<line x1="109.50" y1="256.66" x2="111.70" y2="256.66" stroke="#8a8a96" stroke-width="0.65"/>
<line x1="109.50" y1="260.66" x2="111.70" y2="260.66" stroke="#8a8a96" stroke-width="0.65"/>
<line x1="110.60" y1="244.98" x2="110.60" y2="249.98" stroke="#8a8a96" stroke-width="0.65"/>
<line x1="109.50" y1="244.98" x2="111.70" y2="244.98" stroke="#8a8a96" stroke-width="0.65"/>
<line x1="109.50" y1="249.98" x2="111.70" y2="249.98" stroke="#8a8a96" stroke-width="0.65"/>
<line x1="120.00" y1="258.83" x2="120.00" y2="261.83" stroke="#8a8a96" stroke-width="0.65"/>
<line x1="118.90" y1="258.83" x2="121.10" y2="258.83" stroke="#8a8a96" stroke-width="0.65"/>
<line x1="118.90" y1="261.83" x2="121.10" y2="261.83" stroke="#8a8a96" stroke-width="0.65"/>
<line x1="120.00" y1="261.70" x2="120.00" y2="265.70" stroke="#8a8a96" stroke-width="0.65"/>
<line x1="118.90" y1="261.70" x2="121.10" y2="261.70" stroke="#8a8a96" stroke-width="0.65"/>
<line x1="118.90" y1="265.70" x2="121.10" y2="265.70" stroke="#8a8a96" stroke-width="0.65"/>
<line x1="120.00" y1="252.33" x2="120.00" y2="257.33" stroke="#8a8a96" stroke-width="0.65"/>
<line x1="118.90" y1="252.33" x2="121.10" y2="252.33" stroke="#8a8a96" stroke-width="0.65"/>
<line x1="118.90" y1="257.33" x2="121.10" y2="257.33" stroke="#8a8a96" stroke-width="0.65"/>
<line x1="130.50" y1="261.53" x2="130.50" y2="264.53" stroke="#8a8a96" stroke-width="0.65"/>
<line x1="129.40" y1="261.53" x2="131.60" y2="261.53" stroke="#8a8a96" stroke-width="0.65"/>
<line x1="129.40" y1="264.53" x2="131.60" y2="264.53" stroke="#8a8a96" stroke-width="0.65"/>
<line x1="130.50" y1="261.23" x2="130.50" y2="265.23" stroke="#8a8a96" stroke-width="0.65"/>
<line x1="129.40" y1="261.23" x2="131.60" y2="261.23" stroke="#8a8a96" stroke-width="0.65"/>
<line x1="129.40" y1="265.23" x2="131.60" y2="265.23" stroke="#8a8a96" stroke-width="0.65"/>
<line x1="130.50" y1="257.11" x2="130.50" y2="262.11" stroke="#8a8a96" stroke-width="0.65"/>
<line x1="129.40" y1="257.11" x2="131.60" y2="257.11" stroke="#8a8a96" stroke-width="0.65"/>
<line x1="129.40" y1="262.11" x2="131.60" y2="262.11" stroke="#8a8a96" stroke-width="0.65"/>
<line x1="140.20" y1="261.68" x2="140.20" y2="264.68" stroke="#8a8a96" stroke-width="0.65"/>
<line x1="139.10" y1="261.68" x2="141.30" y2="261.68" stroke="#8a8a96" stroke-width="0.65"/>
<line x1="139.10" y1="264.68" x2="141.30" y2="264.68" stroke="#8a8a96" stroke-width="0.65"/>
<line x1="140.20" y1="263.54" x2="140.20" y2="267.54" stroke="#8a8a96" stroke-width="0.65"/>
<line x1="139.10" y1="263.54" x2="141.30" y2="263.54" stroke="#8a8a96" stroke-width="0.65"/>
<line x1="139.10" y1="267.54" x2="141.30" y2="267.54" stroke="#8a8a96" stroke-width="0.65"/>
<line x1="140.20" y1="260.74" x2="140.20" y2="265.74" stroke="#8a8a96" stroke-width="0.65"/>
<line x1="139.10" y1="260.74" x2="141.30" y2="260.74" stroke="#8a8a96" stroke-width="0.65"/>
<line x1="139.10" y1="265.74" x2="141.30" y2="265.74" stroke="#8a8a96" stroke-width="0.65"/>
<line x1="150.20" y1="261.57" x2="150.20" y2="264.57" stroke="#8a8a96" stroke-width="0.65"/>
<line x1="149.10" y1="261.57" x2="151.30" y2="261.57" stroke="#8a8a96" stroke-width="0.65"/>
<line x1="149.10" y1="264.57" x2="151.30" y2="264.57" stroke="#8a8a96" stroke-width="0.65"/>
<line x1="150.20" y1="262.72" x2="150.20" y2="266.72" stroke="#8a8a96" stroke-width="0.65"/>
<line x1="149.10" y1="262.72" x2="151.30" y2="262.72" stroke="#8a8a96" stroke-width="0.65"/>
<line x1="149.10" y1="266.72" x2="151.30" y2="266.72" stroke="#8a8a96" stroke-width="0.65"/>
<line x1="150.20" y1="269.27" x2="150.20" y2="274.27" stroke="#8a8a96" stroke-width="0.65"/>
<line x1="149.10" y1="269.27" x2="151.30" y2="269.27" stroke="#8a8a96" stroke-width="0.65"/>
<line x1="149.10" y1="274.27" x2="151.30" y2="274.27" stroke="#8a8a96" stroke-width="0.65"/>
<circle cx="51.40" cy="216.00" r="1.9" fill="#111"/>
<circle cx="60.80" cy="216.80" r="1.9" fill="#111"/>
<circle cx="70.80" cy="214.00" r="1.9" fill="#111"/>
<circle cx="80.20" cy="226.00" r="1.9" fill="#111"/>
<circle cx="90.40" cy="212.00" r="1.9" fill="#111"/>
<circle cx="100.40" cy="208.70" r="1.9" fill="#111"/>
<circle cx="110.60" cy="209.80" r="1.9" fill="#111"/>
<circle cx="120.00" cy="217.30" r="1.9" fill="#111"/>
<circle cx="130.50" cy="216.80" r="1.9" fill="#111"/>
<circle cx="140.20" cy="222.20" r="1.9" fill="#111"/>
<circle cx="150.20" cy="219.50" r="1.9" fill="#111"/>
<path d="M49.48,219.40 L53.32,219.40 L51.40,222.76Z" fill="#3b1d6e"/>
<path d="M58.88,212.40 L62.72,212.40 L60.80,215.76Z" fill="#3b1d6e"/>
<path d="M68.88,222.40 L72.72,222.40 L70.80,225.76Z" fill="#3b1d6e"/>
<path d="M78.28,232.40 L82.12,232.40 L80.20,235.76Z" fill="#3b1d6e"/>
<path d="M88.48,231.40 L92.32,231.40 L90.40,234.76Z" fill="#3b1d6e"/>
<path d="M98.48,220.40 L102.32,220.40 L100.40,223.76Z" fill="#3b1d6e"/>
<path d="M108.68,236.40 L112.52,236.40 L110.60,239.76Z" fill="#3b1d6e"/>
<path d="M118.08,222.40 L121.92,222.40 L120.00,225.76Z" fill="#3b1d6e"/>
<path d="M128.58,236.40 L132.42,236.40 L130.50,239.76Z" fill="#3b1d6e"/>
<path d="M138.28,227.40 L142.12,227.40 L140.20,230.76Z" fill="#3b1d6e"/>
<path d="M148.28,230.40 L152.12,230.40 L150.20,233.76Z" fill="#3b1d6e"/>
<rect x="49.40" y="219.91" width="4.00" height="4.00" rx="0.5" fill="#e4306f"/>
<path d="M49.48,222.96 L53.32,222.96 L51.40,219.60Z" fill="#2f7f8f"/>
<rect x="49.32" y="220.08" width="4.16" height="1.60" fill="#b17de8"/>
<rect x="58.80" y="224.71" width="4.00" height="4.00" rx="0.5" fill="#e4306f"/>
<path d="M58.88,229.05 L62.72,229.05 L60.80,225.69Z" fill="#2f7f8f"/>
<rect x="58.72" y="223.95" width="4.16" height="1.60" fill="#b17de8"/>
<rect x="68.80" y="232.95" width="4.00" height="4.00" rx="0.5" fill="#e4306f"/>
<path d="M68.88,238.39 L72.72,238.39 L70.80,235.03Z" fill="#2f7f8f"/>
<rect x="68.72" y="229.50" width="4.16" height="1.60" fill="#b17de8"/>
<rect x="78.20" y="236.95" width="4.00" height="4.00" rx="0.5" fill="#e4306f"/>
<path d="M78.28,244.02 L82.12,244.02 L80.20,240.66Z" fill="#2f7f8f"/>
<rect x="78.12" y="231.40" width="4.16" height="1.60" fill="#b17de8"/>
<rect x="88.40" y="243.98" width="4.00" height="4.00" rx="0.5" fill="#e4306f"/>
<path d="M88.48,250.06 L92.32,250.06 L90.40,246.70Z" fill="#2f7f8f"/>
<rect x="88.32" y="236.14" width="4.16" height="1.60" fill="#b17de8"/>
<rect x="98.40" y="251.90" width="4.00" height="4.00" rx="0.5" fill="#e4306f"/>
<path d="M98.48,258.08 L102.32,258.08 L100.40,254.72Z" fill="#2f7f8f"/>
<rect x="98.32" y="243.39" width="4.16" height="1.60" fill="#b17de8"/>
<rect x="108.60" y="255.94" width="4.00" height="4.00" rx="0.5" fill="#e4306f"/>
<path d="M108.68,260.26 L112.52,260.26 L110.60,256.90Z" fill="#2f7f8f"/>
<rect x="108.52" y="246.68" width="4.16" height="1.60" fill="#b17de8"/>
<rect x="118.00" y="258.33" width="4.00" height="4.00" rx="0.5" fill="#e4306f"/>
<path d="M118.08,265.30 L121.92,265.30 L120.00,261.94Z" fill="#2f7f8f"/>
<rect x="117.92" y="254.03" width="4.16" height="1.60" fill="#b17de8"/>
<rect x="128.50" y="261.03" width="4.00" height="4.00" rx="0.5" fill="#e4306f"/>
<path d="M128.58,264.83 L132.42,264.83 L130.50,261.47Z" fill="#2f7f8f"/>
<rect x="128.42" y="258.81" width="4.16" height="1.60" fill="#b17de8"/>
<rect x="138.20" y="261.18" width="4.00" height="4.00" rx="0.5" fill="#e4306f"/>
<path d="M138.28,267.14 L142.12,267.14 L140.20,263.78Z" fill="#2f7f8f"/>
<rect x="138.12" y="262.44" width="4.16" height="1.60" fill="#b17de8"/>
<rect x="148.20" y="261.07" width="4.00" height="4.00" rx="0.5" fill="#e4306f"/>
<path d="M148.28,266.32 L152.12,266.32 L150.20,262.96Z" fill="#2f7f8f"/>
<rect x="148.12" y="270.97" width="4.16" height="1.60" fill="#b17de8"/>
<path d="M51.40,216.00 C59.50,216.00 85.23,215.95 100.00,216.00 C114.77,216.05 132.00,215.80 140.00,216.30 C148.00,216.80 145.83,217.38 148.00,219.00 C150.17,220.62 151.50,223.17 153.00,226.00 C154.50,228.83 155.90,231.83 157.00,236.00 C158.10,240.17 159.17,248.50 159.60,251.00" stroke="#000" stroke-width="1.3" fill="none"/>
<path d="M51.40,216.20 C53.50,216.23 61.40,216.07 64.00,216.40 C66.60,216.73 66.17,216.93 67.00,218.20 C67.83,219.47 68.33,221.95 69.00,224.00 C69.67,226.05 70.25,228.90 71.00,230.50 C71.75,232.10 72.00,233.00 73.50,233.60 C75.00,234.20 65.65,234.00 80.00,234.10 C94.35,234.20 146.33,234.18 159.60,234.20" stroke="#3c2275" stroke-width="1.2" fill="none"/>
<path d="M51.40,221.30 C56.17,223.25 70.93,228.95 80.00,233.00 C89.07,237.05 97.02,241.03 105.80,245.60 C114.58,250.17 123.73,255.47 132.70,260.40 C141.67,265.33 155.12,272.73 159.60,275.20" stroke="#3d2a84" stroke-width="1.1" fill="none"/>
<path d="M51.40,222.70 C53.67,223.92 60.43,227.32 65.00,230.00 C69.57,232.68 74.25,235.75 78.80,238.80 C83.35,241.85 87.80,245.52 92.30,248.30 C96.80,251.08 101.32,253.58 105.80,255.50 C110.28,257.42 114.72,258.67 119.20,259.80 C123.68,260.93 125.97,261.67 132.70,262.30 C139.43,262.93 155.12,263.38 159.60,263.60" stroke="#3d2a84" stroke-width="1.1" fill="none"/>
<path d="M51.40,222.00 C53.67,223.50 60.43,227.92 65.00,231.00 C69.57,234.08 74.25,237.25 78.80,240.50 C83.35,243.75 87.80,247.70 92.30,250.50 C96.80,253.30 101.32,255.38 105.80,257.30 C110.28,259.22 114.72,260.83 119.20,262.00 C123.68,263.17 125.97,263.63 132.70,264.30 C139.43,264.97 155.12,265.72 159.60,266.00" stroke="#3d2a84" stroke-width="1.1" fill="none"/>
<circle cx="39.20" cy="313.70" r="1.6" fill="#111"/>
<line x1="36.90" y1="313.70" x2="41.50" y2="313.70" stroke="#111" stroke-width="0.8"/>
<text x="44.1" y="316.0" font-size="6.6" textLength="42.5" lengthAdjust="spacingAndGlyphs" style="stroke-width:0.05px">BXPC3 (WT)</text>
<rect x="37.60" y="321.40" width="3.20" height="3.20" fill="#e4306f"/>
<line x1="36.90" y1="323.00" x2="41.50" y2="323.00" stroke="#e4306f" stroke-width="0.8"/>
<text x="44.1" y="325.3" font-size="6.6" textLength="47.5" lengthAdjust="spacingAndGlyphs" style="stroke-width:0.05px">ASPC1 (G12D)</text>
<rect x="37.12" y="331.20" width="4.16" height="1.60" fill="#b17de8"/>
<line x1="36.90" y1="332.00" x2="41.50" y2="332.00" stroke="#b17de8" stroke-width="0.8"/>
<text x="44.1" y="334.3" font-size="6.6" textLength="52" lengthAdjust="spacingAndGlyphs" style="stroke-width:0.05px">hF44-2D (G12D)</text>
<path d="M103.28,315.30 L107.12,315.30 L105.20,311.94Z" fill="#2f7f8f"/>
<line x1="102.90" y1="313.70" x2="107.50" y2="313.70" stroke="#2f7f8f" stroke-width="0.8"/>
<text x="111.1" y="316.0" font-size="6.6" textLength="42.5" lengthAdjust="spacingAndGlyphs" style="stroke-width:0.05px">SUIT2 (G12D)</text>
<path d="M103.28,321.40 L107.12,321.40 L105.20,324.76Z" fill="#3b1d6e"/>
<line x1="102.90" y1="323.00" x2="107.50" y2="323.00" stroke="#3b1d6e" stroke-width="0.8"/>
<text x="111.1" y="325.3" font-size="6.6" textLength="46" lengthAdjust="spacingAndGlyphs" style="stroke-width:0.05px">PANC1 (G12D)</text>
<text x="1.7" y="359.3" font-size="12.6" font-weight="bold">G</text>
<line x1="29.80" y1="381.80" x2="29.80" y2="470.90" stroke="#000" stroke-width="1.35"/>
<line x1="27.20" y1="470.30" x2="29.80" y2="470.30" stroke="#000" stroke-width="0.8"/>
<line x1="28.00" y1="458.10" x2="29.80" y2="458.10" stroke="#000" stroke-width="0.8"/>
<line x1="28.00" y1="445.90" x2="29.80" y2="445.90" stroke="#000" stroke-width="0.8"/>
<line x1="27.20" y1="433.70" x2="29.80" y2="433.70" stroke="#000" stroke-width="0.8"/>
<line x1="28.00" y1="421.50" x2="29.80" y2="421.50" stroke="#000" stroke-width="0.8"/>
<line x1="28.00" y1="409.30" x2="29.80" y2="409.30" stroke="#000" stroke-width="0.8"/>
<line x1="27.20" y1="397.10" x2="29.80" y2="397.10" stroke="#000" stroke-width="0.8"/>
<line x1="28.00" y1="384.90" x2="29.80" y2="384.90" stroke="#000" stroke-width="0.8"/>
<text x="26.5" y="473.3" font-size="8.5" text-anchor="end">0</text>
<text x="26.5" y="436.7" font-size="8.5" text-anchor="end">50</text>
<text x="26.5" y="400.1" font-size="8.5" text-anchor="end">100</text>
<line x1="29.30" y1="470.30" x2="164.10" y2="470.30" stroke="#000" stroke-width="1.35"/>
<line x1="29.80" y1="470.30" x2="29.80" y2="472.90" stroke="#000" stroke-width="0.9"/>
<text x="29.2" y="481.2" font-size="8.5" text-anchor="middle">−10</text>
<line x1="56.60" y1="470.30" x2="56.60" y2="472.90" stroke="#000" stroke-width="0.9"/>
<text x="56.0" y="481.2" font-size="8.5" text-anchor="middle">−9</text>
<line x1="83.40" y1="470.30" x2="83.40" y2="472.90" stroke="#000" stroke-width="0.9"/>
<text x="82.80000000000001" y="481.2" font-size="8.5" text-anchor="middle">−8</text>
<line x1="110.20" y1="470.30" x2="110.20" y2="472.90" stroke="#000" stroke-width="0.9"/>
<text x="109.60000000000001" y="481.2" font-size="8.5" text-anchor="middle">−7</text>
<line x1="137.00" y1="470.30" x2="137.00" y2="472.90" stroke="#000" stroke-width="0.9"/>
<text x="136.4" y="481.2" font-size="8.5" text-anchor="middle">−6</text>
<line x1="163.80" y1="470.30" x2="163.80" y2="472.90" stroke="#000" stroke-width="0.9"/>
<text x="163.20000000000002" y="481.2" font-size="8.5" text-anchor="middle">−5</text>
<text x="0" y="0" font-size="9.4" font-weight="bold" text-anchor="middle" textLength="80" lengthAdjust="spacingAndGlyphs" transform="translate(7.7,423.5) rotate(-90)">% Viability by CTG</text>
<text x="42.5" y="493.0" font-size="9.3" font-weight="bold" textLength="111.1" lengthAdjust="spacingAndGlyphs">Log concentration (mol/L)</text>
<line x1="47.90" y1="387.62" x2="47.90" y2="393.62" stroke="#8a8a96" stroke-width="0.65"/>
<line x1="46.80" y1="387.62" x2="49.00" y2="387.62" stroke="#8a8a96" stroke-width="0.65"/>
<line x1="46.80" y1="393.62" x2="49.00" y2="393.62" stroke="#8a8a96" stroke-width="0.65"/>
<line x1="47.90" y1="393.54" x2="47.90" y2="399.54" stroke="#8a8a96" stroke-width="0.65"/>
<line x1="46.80" y1="393.54" x2="49.00" y2="393.54" stroke="#8a8a96" stroke-width="0.65"/>
<line x1="46.80" y1="399.54" x2="49.00" y2="399.54" stroke="#8a8a96" stroke-width="0.65"/>
<line x1="48.20" y1="393.54" x2="48.20" y2="399.54" stroke="#8a8a96" stroke-width="0.65"/>
<line x1="47.10" y1="393.54" x2="49.30" y2="393.54" stroke="#8a8a96" stroke-width="0.65"/>
<line x1="47.10" y1="399.54" x2="49.30" y2="399.54" stroke="#8a8a96" stroke-width="0.65"/>
<line x1="61.30" y1="396.58" x2="61.30" y2="404.58" stroke="#8a8a96" stroke-width="0.65"/>
<line x1="60.20" y1="396.58" x2="62.40" y2="396.58" stroke="#8a8a96" stroke-width="0.65"/>
<line x1="60.20" y1="404.58" x2="62.40" y2="404.58" stroke="#8a8a96" stroke-width="0.65"/>
<line x1="61.30" y1="401.96" x2="61.30" y2="409.96" stroke="#8a8a96" stroke-width="0.65"/>
<line x1="60.20" y1="401.96" x2="62.40" y2="401.96" stroke="#8a8a96" stroke-width="0.65"/>
<line x1="60.20" y1="409.96" x2="62.40" y2="409.96" stroke="#8a8a96" stroke-width="0.65"/>
<line x1="61.60" y1="393.00" x2="61.60" y2="399.00" stroke="#8a8a96" stroke-width="0.65"/>
<line x1="60.50" y1="393.00" x2="62.70" y2="393.00" stroke="#8a8a96" stroke-width="0.65"/>
<line x1="60.50" y1="399.00" x2="62.70" y2="399.00" stroke="#8a8a96" stroke-width="0.65"/>
<line x1="72.90" y1="392.89" x2="72.90" y2="402.89" stroke="#8a8a96" stroke-width="0.65"/>
<line x1="71.80" y1="392.89" x2="74.00" y2="392.89" stroke="#8a8a96" stroke-width="0.65"/>
<line x1="71.80" y1="402.89" x2="74.00" y2="402.89" stroke="#8a8a96" stroke-width="0.65"/>
<line x1="72.90" y1="403.00" x2="72.90" y2="417.00" stroke="#8a8a96" stroke-width="0.65"/>
<line x1="71.80" y1="403.00" x2="74.00" y2="403.00" stroke="#8a8a96" stroke-width="0.65"/>
<line x1="71.80" y1="417.00" x2="74.00" y2="417.00" stroke="#8a8a96" stroke-width="0.65"/>
<line x1="73.20" y1="392.19" x2="73.20" y2="398.19" stroke="#8a8a96" stroke-width="0.65"/>
<line x1="72.10" y1="392.19" x2="74.30" y2="392.19" stroke="#8a8a96" stroke-width="0.65"/>
<line x1="72.10" y1="398.19" x2="74.30" y2="398.19" stroke="#8a8a96" stroke-width="0.65"/>
<line x1="84.20" y1="389.50" x2="84.20" y2="395.50" stroke="#8a8a96" stroke-width="0.65"/>
<line x1="83.10" y1="389.50" x2="85.30" y2="389.50" stroke="#8a8a96" stroke-width="0.65"/>
<line x1="83.10" y1="395.50" x2="85.30" y2="395.50" stroke="#8a8a96" stroke-width="0.65"/>
<line x1="84.20" y1="415.08" x2="84.20" y2="421.08" stroke="#8a8a96" stroke-width="0.65"/>
<line x1="83.10" y1="415.08" x2="85.30" y2="415.08" stroke="#8a8a96" stroke-width="0.65"/>
<line x1="83.10" y1="421.08" x2="85.30" y2="421.08" stroke="#8a8a96" stroke-width="0.65"/>
<line x1="84.50" y1="402.96" x2="84.50" y2="408.96" stroke="#8a8a96" stroke-width="0.65"/>
<line x1="83.40" y1="402.96" x2="85.60" y2="402.96" stroke="#8a8a96" stroke-width="0.65"/>
<line x1="83.40" y1="408.96" x2="85.60" y2="408.96" stroke="#8a8a96" stroke-width="0.65"/>
<line x1="95.80" y1="396.58" x2="95.80" y2="404.58" stroke="#8a8a96" stroke-width="0.65"/>
<line x1="94.70" y1="396.58" x2="96.90" y2="396.58" stroke="#8a8a96" stroke-width="0.65"/>
<line x1="94.70" y1="404.58" x2="96.90" y2="404.58" stroke="#8a8a96" stroke-width="0.65"/>
<line x1="95.80" y1="408.16" x2="95.80" y2="416.16" stroke="#8a8a96" stroke-width="0.65"/>
<line x1="94.70" y1="408.16" x2="96.90" y2="408.16" stroke="#8a8a96" stroke-width="0.65"/>
<line x1="94.70" y1="416.16" x2="96.90" y2="416.16" stroke="#8a8a96" stroke-width="0.65"/>
<line x1="96.10" y1="403.77" x2="96.10" y2="409.77" stroke="#8a8a96" stroke-width="0.65"/>
<line x1="95.00" y1="403.77" x2="97.20" y2="403.77" stroke="#8a8a96" stroke-width="0.65"/>
<line x1="95.00" y1="409.77" x2="97.20" y2="409.77" stroke="#8a8a96" stroke-width="0.65"/>
<line x1="107.90" y1="396.93" x2="107.90" y2="406.93" stroke="#8a8a96" stroke-width="0.65"/>
<line x1="106.80" y1="396.93" x2="109.00" y2="396.93" stroke="#8a8a96" stroke-width="0.65"/>
<line x1="106.80" y1="406.93" x2="109.00" y2="406.93" stroke="#8a8a96" stroke-width="0.65"/>
<line x1="107.90" y1="416.93" x2="107.90" y2="428.93" stroke="#8a8a96" stroke-width="0.65"/>
<line x1="106.80" y1="416.93" x2="109.00" y2="416.93" stroke="#8a8a96" stroke-width="0.65"/>
<line x1="106.80" y1="428.93" x2="109.00" y2="428.93" stroke="#8a8a96" stroke-width="0.65"/>
<line x1="108.20" y1="409.70" x2="108.20" y2="415.70" stroke="#8a8a96" stroke-width="0.65"/>
<line x1="107.10" y1="409.70" x2="109.30" y2="409.70" stroke="#8a8a96" stroke-width="0.65"/>
<line x1="107.10" y1="415.70" x2="109.30" y2="415.70" stroke="#8a8a96" stroke-width="0.65"/>
<line x1="119.20" y1="406.35" x2="119.20" y2="416.35" stroke="#8a8a96" stroke-width="0.65"/>
<line x1="118.10" y1="406.35" x2="120.30" y2="406.35" stroke="#8a8a96" stroke-width="0.65"/>
<line x1="118.10" y1="416.35" x2="120.30" y2="416.35" stroke="#8a8a96" stroke-width="0.65"/>
<line x1="119.20" y1="413.54" x2="119.20" y2="421.54" stroke="#8a8a96" stroke-width="0.65"/>
<line x1="118.10" y1="413.54" x2="120.30" y2="413.54" stroke="#8a8a96" stroke-width="0.65"/>
<line x1="118.10" y1="421.54" x2="120.30" y2="421.54" stroke="#8a8a96" stroke-width="0.65"/>
<line x1="119.50" y1="419.93" x2="119.50" y2="425.93" stroke="#8a8a96" stroke-width="0.65"/>
<line x1="118.40" y1="419.93" x2="120.60" y2="419.93" stroke="#8a8a96" stroke-width="0.65"/>
<line x1="118.40" y1="425.93" x2="120.60" y2="425.93" stroke="#8a8a96" stroke-width="0.65"/>
<line x1="131.40" y1="413.08" x2="131.40" y2="423.08" stroke="#8a8a96" stroke-width="0.65"/>
<line x1="130.30" y1="413.08" x2="132.50" y2="413.08" stroke="#8a8a96" stroke-width="0.65"/>
<line x1="130.30" y1="423.08" x2="132.50" y2="423.08" stroke="#8a8a96" stroke-width="0.65"/>
<line x1="131.40" y1="424.20" x2="131.40" y2="436.20" stroke="#8a8a96" stroke-width="0.65"/>
<line x1="130.30" y1="424.20" x2="132.50" y2="424.20" stroke="#8a8a96" stroke-width="0.65"/>
<line x1="130.30" y1="436.20" x2="132.50" y2="436.20" stroke="#8a8a96" stroke-width="0.65"/>
<line x1="131.70" y1="423.16" x2="131.70" y2="429.16" stroke="#8a8a96" stroke-width="0.65"/>
<line x1="130.60" y1="423.16" x2="132.80" y2="423.16" stroke="#8a8a96" stroke-width="0.65"/>
<line x1="130.60" y1="429.16" x2="132.80" y2="429.16" stroke="#8a8a96" stroke-width="0.65"/>
<line x1="143.50" y1="421.50" x2="143.50" y2="433.50" stroke="#8a8a96" stroke-width="0.65"/>
<line x1="142.40" y1="421.50" x2="144.60" y2="421.50" stroke="#8a8a96" stroke-width="0.65"/>
<line x1="142.40" y1="433.50" x2="144.60" y2="433.50" stroke="#8a8a96" stroke-width="0.65"/>
<line x1="143.50" y1="423.16" x2="143.50" y2="429.16" stroke="#8a8a96" stroke-width="0.65"/>
<line x1="142.40" y1="423.16" x2="144.60" y2="423.16" stroke="#8a8a96" stroke-width="0.65"/>
<line x1="142.40" y1="429.16" x2="144.60" y2="429.16" stroke="#8a8a96" stroke-width="0.65"/>
<line x1="143.80" y1="424.50" x2="143.80" y2="430.50" stroke="#8a8a96" stroke-width="0.65"/>
<line x1="142.70" y1="424.50" x2="144.90" y2="424.50" stroke="#8a8a96" stroke-width="0.65"/>
<line x1="142.70" y1="430.50" x2="144.90" y2="430.50" stroke="#8a8a96" stroke-width="0.65"/>
<line x1="155.60" y1="417.89" x2="155.60" y2="447.89" stroke="#8a8a96" stroke-width="0.65"/>
<line x1="154.50" y1="417.89" x2="156.70" y2="417.89" stroke="#8a8a96" stroke-width="0.65"/>
<line x1="154.50" y1="447.89" x2="156.70" y2="447.89" stroke="#8a8a96" stroke-width="0.65"/>
<line x1="155.60" y1="423.85" x2="155.60" y2="433.85" stroke="#8a8a96" stroke-width="0.65"/>
<line x1="154.50" y1="423.85" x2="156.70" y2="423.85" stroke="#8a8a96" stroke-width="0.65"/>
<line x1="154.50" y1="433.85" x2="156.70" y2="433.85" stroke="#8a8a96" stroke-width="0.65"/>
<line x1="155.90" y1="427.20" x2="155.90" y2="433.20" stroke="#8a8a96" stroke-width="0.65"/>
<line x1="154.80" y1="427.20" x2="157.00" y2="427.20" stroke="#8a8a96" stroke-width="0.65"/>
<line x1="154.80" y1="433.20" x2="157.00" y2="433.20" stroke="#8a8a96" stroke-width="0.65"/>
<path d="M46.04,392.17 L49.76,392.17 L47.90,388.91Z" fill="#2f7f8f"/>
<circle cx="47.90" cy="396.54" r="1.8" fill="#111"/>
<rect x="46.26" y="394.60" width="3.88" height="3.88" rx="0.5" fill="#e4306f"/>
<path d="M59.44,402.13 L63.16,402.13 L61.30,398.87Z" fill="#2f7f8f"/>
<circle cx="61.30" cy="405.96" r="1.8" fill="#111"/>
<rect x="59.66" y="394.06" width="3.88" height="3.88" rx="0.5" fill="#e4306f"/>
<path d="M71.04,399.44 L74.76,399.44 L72.90,396.18Z" fill="#2f7f8f"/>
<circle cx="72.90" cy="410.00" r="1.8" fill="#111"/>
<rect x="71.26" y="393.26" width="3.88" height="3.88" rx="0.5" fill="#e4306f"/>
<path d="M82.34,394.05 L86.06,394.05 L84.20,390.80Z" fill="#2f7f8f"/>
<circle cx="84.20" cy="418.08" r="1.8" fill="#111"/>
<rect x="82.56" y="404.03" width="3.88" height="3.88" rx="0.5" fill="#e4306f"/>
<path d="M93.94,402.13 L97.66,402.13 L95.80,398.87Z" fill="#2f7f8f"/>
<circle cx="95.80" cy="412.16" r="1.8" fill="#111"/>
<rect x="94.16" y="404.83" width="3.88" height="3.88" rx="0.5" fill="#e4306f"/>
<path d="M106.04,403.48 L109.76,403.48 L107.90,400.22Z" fill="#2f7f8f"/>
<circle cx="107.90" cy="422.93" r="1.8" fill="#111"/>
<rect x="106.26" y="410.76" width="3.88" height="3.88" rx="0.5" fill="#e4306f"/>
<path d="M117.34,412.90 L121.06,412.90 L119.20,409.64Z" fill="#2f7f8f"/>
<circle cx="119.20" cy="417.54" r="1.8" fill="#111"/>
<rect x="117.56" y="420.99" width="3.88" height="3.88" rx="0.5" fill="#e4306f"/>
<path d="M129.54,419.63 L133.26,419.63 L131.40,416.38Z" fill="#2f7f8f"/>
<circle cx="131.40" cy="430.20" r="1.8" fill="#111"/>
<rect x="129.76" y="424.22" width="3.88" height="3.88" rx="0.5" fill="#e4306f"/>
<path d="M141.64,429.05 L145.36,429.05 L143.50,425.80Z" fill="#2f7f8f"/>
<circle cx="143.50" cy="426.16" r="1.8" fill="#111"/>
<rect x="141.86" y="425.57" width="3.88" height="3.88" rx="0.5" fill="#e4306f"/>
<path d="M153.74,434.44 L157.46,434.44 L155.60,431.18Z" fill="#2f7f8f"/>
<circle cx="155.60" cy="428.85" r="1.8" fill="#111"/>
<rect x="153.96" y="428.26" width="3.88" height="3.88" rx="0.5" fill="#e4306f"/>
<path d="M47.90,396.50 C53.05,396.67 69.15,396.82 78.80,397.50 C88.45,398.18 99.07,398.97 105.80,400.60 C112.53,402.23 114.72,404.38 119.20,407.30 C123.68,410.22 128.65,414.95 132.70,418.10 C136.75,421.25 139.02,423.97 143.50,426.20 C147.98,428.43 156.92,430.62 159.60,431.50" stroke="#3d2a84" stroke-width="1.1" fill="none"/>
<path d="M47.90,396.50 C53.05,396.87 70.95,397.35 78.80,398.70 C86.65,400.05 90.50,402.27 95.00,404.60 C99.50,406.93 101.77,409.78 105.80,412.70 C109.83,415.62 114.72,419.85 119.20,422.10 C123.68,424.35 125.97,425.30 132.70,426.20 C139.43,427.10 155.12,427.28 159.60,427.50" stroke="#3d2a84" stroke-width="1.1" fill="none"/>
<path d="M47.90,401.90 C53.05,403.70 69.15,409.55 78.80,412.70 C88.45,415.85 96.82,418.55 105.80,420.80 C114.78,423.05 123.73,424.85 132.70,426.20 C141.67,427.55 155.12,428.45 159.60,428.90" stroke="#3d2a84" stroke-width="1.1" fill="none"/>
<circle cx="13.70" cy="502.70" r="1.6" fill="#111"/>
<line x1="11.40" y1="502.70" x2="16.00" y2="502.70" stroke="#111" stroke-width="0.8"/>
<text x="18.0" y="505.0" font-size="6.6" textLength="42.5" lengthAdjust="spacingAndGlyphs" style="stroke-width:0.05px">mT9 (G12D)</text>
<rect x="65.40" y="501.10" width="3.20" height="3.20" fill="#e4306f"/>
<line x1="64.70" y1="502.70" x2="69.30" y2="502.70" stroke="#e4306f" stroke-width="0.8"/>
<text x="71.9" y="505.0" font-size="6.6" textLength="39.5" lengthAdjust="spacingAndGlyphs" style="stroke-width:0.05px">mT3 (G12D)</text>
<path d="M115.68,504.30 L119.52,504.30 L117.60,500.94Z" fill="#2f7f8f"/>
<line x1="115.30" y1="502.70" x2="119.90" y2="502.70" stroke="#2f7f8f" stroke-width="0.8"/>
<text x="122.5" y="505.0" font-size="6.6" textLength="41" lengthAdjust="spacingAndGlyphs" style="stroke-width:0.05px">mT8 (G12D)</text>
<text x="2.0" y="535.3" font-size="12.6" font-weight="bold">J</text>
<line x1="29.80" y1="562.30" x2="29.80" y2="647.90" stroke="#000" stroke-width="1.35"/>
<line x1="27.20" y1="647.30" x2="29.80" y2="647.30" stroke="#000" stroke-width="0.8"/>
<line x1="28.00" y1="635.63" x2="29.80" y2="635.63" stroke="#000" stroke-width="0.8"/>
<line x1="28.00" y1="623.97" x2="29.80" y2="623.97" stroke="#000" stroke-width="0.8"/>
<line x1="27.20" y1="612.30" x2="29.80" y2="612.30" stroke="#000" stroke-width="0.8"/>
<line x1="28.00" y1="600.63" x2="29.80" y2="600.63" stroke="#000" stroke-width="0.8"/>
<line x1="28.00" y1="588.97" x2="29.80" y2="588.97" stroke="#000" stroke-width="0.8"/>
<line x1="27.20" y1="577.30" x2="29.80" y2="577.30" stroke="#000" stroke-width="0.8"/>
<line x1="28.00" y1="565.63" x2="29.80" y2="565.63" stroke="#000" stroke-width="0.8"/>
<text x="26.5" y="650.3" font-size="8.5" text-anchor="end">0</text>
<text x="26.5" y="615.3" font-size="8.5" text-anchor="end">50</text>
<text x="26.5" y="580.3" font-size="8.5" text-anchor="end">100</text>
<line x1="29.30" y1="647.30" x2="156.50" y2="647.30" stroke="#000" stroke-width="1.35"/>
<line x1="29.80" y1="647.30" x2="29.80" y2="649.90" stroke="#000" stroke-width="0.9"/>
<text x="29.2" y="657.6" font-size="8.5" text-anchor="middle">−9</text>
<line x1="61.40" y1="647.30" x2="61.40" y2="649.90" stroke="#000" stroke-width="0.9"/>
<text x="60.800000000000004" y="657.6" font-size="8.5" text-anchor="middle">−8</text>
<line x1="93.00" y1="647.30" x2="93.00" y2="649.90" stroke="#000" stroke-width="0.9"/>
<text x="92.4" y="657.6" font-size="8.5" text-anchor="middle">−7</text>
<line x1="124.60" y1="647.30" x2="124.60" y2="649.90" stroke="#000" stroke-width="0.9"/>
<text x="124.00000000000001" y="657.6" font-size="8.5" text-anchor="middle">−6</text>
<line x1="156.20" y1="647.30" x2="156.20" y2="649.90" stroke="#000" stroke-width="0.9"/>
<text x="155.60000000000002" y="657.6" font-size="8.5" text-anchor="middle">−5</text>
<text x="0" y="0" font-size="9.4" font-weight="bold" text-anchor="middle" textLength="77" lengthAdjust="spacingAndGlyphs" transform="translate(8.1,601.5) rotate(-90)">% Viability by CTG</text>
<text x="39.9" y="668.0" font-size="9.3" font-weight="bold" textLength="109.8" lengthAdjust="spacingAndGlyphs">Log concentration (mol/L)</text>
<line x1="52.80" y1="574.67" x2="52.80" y2="577.07" stroke="#8a8a96" stroke-width="0.55"/>
<line x1="51.90" y1="574.67" x2="53.70" y2="574.67" stroke="#8a8a96" stroke-width="0.55"/>
<line x1="51.90" y1="577.07" x2="53.70" y2="577.07" stroke="#8a8a96" stroke-width="0.55"/>
<line x1="52.80" y1="574.15" x2="52.80" y2="576.55" stroke="#8a8a96" stroke-width="0.55"/>
<line x1="51.90" y1="574.15" x2="53.70" y2="574.15" stroke="#8a8a96" stroke-width="0.55"/>
<line x1="51.90" y1="576.55" x2="53.70" y2="576.55" stroke="#8a8a96" stroke-width="0.55"/>
<line x1="52.80" y1="572.55" x2="52.80" y2="582.55" stroke="#8a8a96" stroke-width="0.55"/>
<line x1="51.90" y1="572.55" x2="53.70" y2="572.55" stroke="#8a8a96" stroke-width="0.55"/>
<line x1="51.90" y1="582.55" x2="53.70" y2="582.55" stroke="#8a8a96" stroke-width="0.55"/>
<line x1="57.35" y1="575.21" x2="57.35" y2="577.61" stroke="#8a8a96" stroke-width="0.55"/>
<line x1="56.45" y1="575.21" x2="58.25" y2="575.21" stroke="#8a8a96" stroke-width="0.55"/>
<line x1="56.45" y1="577.61" x2="58.25" y2="577.61" stroke="#8a8a96" stroke-width="0.55"/>
<line x1="57.35" y1="576.60" x2="57.35" y2="579.00" stroke="#8a8a96" stroke-width="0.55"/>
<line x1="56.45" y1="576.60" x2="58.25" y2="576.60" stroke="#8a8a96" stroke-width="0.55"/>
<line x1="56.45" y1="579.00" x2="58.25" y2="579.00" stroke="#8a8a96" stroke-width="0.55"/>
<line x1="57.35" y1="585.51" x2="57.35" y2="595.51" stroke="#8a8a96" stroke-width="0.55"/>
<line x1="56.45" y1="585.51" x2="58.25" y2="585.51" stroke="#8a8a96" stroke-width="0.55"/>
<line x1="56.45" y1="595.51" x2="58.25" y2="595.51" stroke="#8a8a96" stroke-width="0.55"/>
<line x1="61.90" y1="576.46" x2="61.90" y2="578.86" stroke="#8a8a96" stroke-width="0.55"/>
<line x1="61.00" y1="576.46" x2="62.80" y2="576.46" stroke="#8a8a96" stroke-width="0.55"/>
<line x1="61.00" y1="578.86" x2="62.80" y2="578.86" stroke="#8a8a96" stroke-width="0.55"/>
<line x1="61.90" y1="577.81" x2="61.90" y2="580.21" stroke="#8a8a96" stroke-width="0.55"/>
<line x1="61.00" y1="577.81" x2="62.80" y2="577.81" stroke="#8a8a96" stroke-width="0.55"/>
<line x1="61.00" y1="580.21" x2="62.80" y2="580.21" stroke="#8a8a96" stroke-width="0.55"/>
<line x1="61.90" y1="596.96" x2="61.90" y2="599.96" stroke="#8a8a96" stroke-width="0.55"/>
<line x1="61.00" y1="596.96" x2="62.80" y2="596.96" stroke="#8a8a96" stroke-width="0.55"/>
<line x1="61.00" y1="599.96" x2="62.80" y2="599.96" stroke="#8a8a96" stroke-width="0.55"/>
<line x1="66.45" y1="578.90" x2="66.45" y2="581.30" stroke="#8a8a96" stroke-width="0.55"/>
<line x1="65.55" y1="578.90" x2="67.35" y2="578.90" stroke="#8a8a96" stroke-width="0.55"/>
<line x1="65.55" y1="581.30" x2="67.35" y2="581.30" stroke="#8a8a96" stroke-width="0.55"/>
<line x1="66.45" y1="577.80" x2="66.45" y2="580.20" stroke="#8a8a96" stroke-width="0.55"/>
<line x1="65.55" y1="577.80" x2="67.35" y2="577.80" stroke="#8a8a96" stroke-width="0.55"/>
<line x1="65.55" y1="580.20" x2="67.35" y2="580.20" stroke="#8a8a96" stroke-width="0.55"/>
<line x1="66.45" y1="603.52" x2="66.45" y2="606.52" stroke="#8a8a96" stroke-width="0.55"/>
<line x1="65.55" y1="603.52" x2="67.35" y2="603.52" stroke="#8a8a96" stroke-width="0.55"/>
<line x1="65.55" y1="606.52" x2="67.35" y2="606.52" stroke="#8a8a96" stroke-width="0.55"/>
<line x1="71.00" y1="580.60" x2="71.00" y2="583.00" stroke="#8a8a96" stroke-width="0.55"/>
<line x1="70.10" y1="580.60" x2="71.90" y2="580.60" stroke="#8a8a96" stroke-width="0.55"/>
<line x1="70.10" y1="583.00" x2="71.90" y2="583.00" stroke="#8a8a96" stroke-width="0.55"/>
<line x1="71.00" y1="581.85" x2="71.00" y2="584.25" stroke="#8a8a96" stroke-width="0.55"/>
<line x1="70.10" y1="581.85" x2="71.90" y2="581.85" stroke="#8a8a96" stroke-width="0.55"/>
<line x1="70.10" y1="584.25" x2="71.90" y2="584.25" stroke="#8a8a96" stroke-width="0.55"/>
<line x1="71.00" y1="608.17" x2="71.00" y2="611.17" stroke="#8a8a96" stroke-width="0.55"/>
<line x1="70.10" y1="608.17" x2="71.90" y2="608.17" stroke="#8a8a96" stroke-width="0.55"/>
<line x1="70.10" y1="611.17" x2="71.90" y2="611.17" stroke="#8a8a96" stroke-width="0.55"/>
<line x1="75.55" y1="582.70" x2="75.55" y2="585.10" stroke="#8a8a96" stroke-width="0.55"/>
<line x1="74.65" y1="582.70" x2="76.45" y2="582.70" stroke="#8a8a96" stroke-width="0.55"/>
<line x1="74.65" y1="585.10" x2="76.45" y2="585.10" stroke="#8a8a96" stroke-width="0.55"/>
<line x1="75.55" y1="584.07" x2="75.55" y2="586.47" stroke="#8a8a96" stroke-width="0.55"/>
<line x1="74.65" y1="584.07" x2="76.45" y2="584.07" stroke="#8a8a96" stroke-width="0.55"/>
<line x1="74.65" y1="586.47" x2="76.45" y2="586.47" stroke="#8a8a96" stroke-width="0.55"/>
<line x1="75.55" y1="614.68" x2="75.55" y2="617.68" stroke="#8a8a96" stroke-width="0.55"/>
<line x1="74.65" y1="614.68" x2="76.45" y2="614.68" stroke="#8a8a96" stroke-width="0.55"/>
<line x1="74.65" y1="617.68" x2="76.45" y2="617.68" stroke="#8a8a96" stroke-width="0.55"/>
<line x1="80.10" y1="586.45" x2="80.10" y2="588.85" stroke="#8a8a96" stroke-width="0.55"/>
<line x1="79.20" y1="586.45" x2="81.00" y2="586.45" stroke="#8a8a96" stroke-width="0.55"/>
<line x1="79.20" y1="588.85" x2="81.00" y2="588.85" stroke="#8a8a96" stroke-width="0.55"/>
<line x1="80.10" y1="586.20" x2="80.10" y2="588.60" stroke="#8a8a96" stroke-width="0.55"/>
<line x1="79.20" y1="586.20" x2="81.00" y2="586.20" stroke="#8a8a96" stroke-width="0.55"/>
<line x1="79.20" y1="588.60" x2="81.00" y2="588.60" stroke="#8a8a96" stroke-width="0.55"/>
<line x1="80.10" y1="617.75" x2="80.10" y2="620.75" stroke="#8a8a96" stroke-width="0.55"/>
<line x1="79.20" y1="617.75" x2="81.00" y2="617.75" stroke="#8a8a96" stroke-width="0.55"/>
<line x1="79.20" y1="620.75" x2="81.00" y2="620.75" stroke="#8a8a96" stroke-width="0.55"/>
<line x1="84.65" y1="587.90" x2="84.65" y2="590.30" stroke="#8a8a96" stroke-width="0.55"/>
<line x1="83.75" y1="587.90" x2="85.55" y2="587.90" stroke="#8a8a96" stroke-width="0.55"/>
<line x1="83.75" y1="590.30" x2="85.55" y2="590.30" stroke="#8a8a96" stroke-width="0.55"/>
<line x1="84.65" y1="590.67" x2="84.65" y2="593.07" stroke="#8a8a96" stroke-width="0.55"/>
<line x1="83.75" y1="590.67" x2="85.55" y2="590.67" stroke="#8a8a96" stroke-width="0.55"/>
<line x1="83.75" y1="593.07" x2="85.55" y2="593.07" stroke="#8a8a96" stroke-width="0.55"/>
<line x1="84.65" y1="617.91" x2="84.65" y2="620.91" stroke="#8a8a96" stroke-width="0.55"/>
<line x1="83.75" y1="617.91" x2="85.55" y2="617.91" stroke="#8a8a96" stroke-width="0.55"/>
<line x1="83.75" y1="620.91" x2="85.55" y2="620.91" stroke="#8a8a96" stroke-width="0.55"/>
<line x1="89.20" y1="591.25" x2="89.20" y2="593.65" stroke="#8a8a96" stroke-width="0.55"/>
<line x1="88.30" y1="591.25" x2="90.10" y2="591.25" stroke="#8a8a96" stroke-width="0.55"/>
<line x1="88.30" y1="593.65" x2="90.10" y2="593.65" stroke="#8a8a96" stroke-width="0.55"/>
<line x1="89.20" y1="591.56" x2="89.20" y2="593.96" stroke="#8a8a96" stroke-width="0.55"/>
<line x1="88.30" y1="591.56" x2="90.10" y2="591.56" stroke="#8a8a96" stroke-width="0.55"/>
<line x1="88.30" y1="593.96" x2="90.10" y2="593.96" stroke="#8a8a96" stroke-width="0.55"/>
<line x1="89.20" y1="619.87" x2="89.20" y2="622.87" stroke="#8a8a96" stroke-width="0.55"/>
<line x1="88.30" y1="619.87" x2="90.10" y2="619.87" stroke="#8a8a96" stroke-width="0.55"/>
<line x1="88.30" y1="622.87" x2="90.10" y2="622.87" stroke="#8a8a96" stroke-width="0.55"/>
<line x1="93.75" y1="595.94" x2="93.75" y2="598.34" stroke="#8a8a96" stroke-width="0.55"/>
<line x1="92.85" y1="595.94" x2="94.65" y2="595.94" stroke="#8a8a96" stroke-width="0.55"/>
<line x1="92.85" y1="598.34" x2="94.65" y2="598.34" stroke="#8a8a96" stroke-width="0.55"/>
<line x1="93.75" y1="594.44" x2="93.75" y2="596.84" stroke="#8a8a96" stroke-width="0.55"/>
<line x1="92.85" y1="594.44" x2="94.65" y2="594.44" stroke="#8a8a96" stroke-width="0.55"/>
<line x1="92.85" y1="596.84" x2="94.65" y2="596.84" stroke="#8a8a96" stroke-width="0.55"/>
<line x1="93.75" y1="621.93" x2="93.75" y2="624.93" stroke="#8a8a96" stroke-width="0.55"/>
<line x1="92.85" y1="621.93" x2="94.65" y2="621.93" stroke="#8a8a96" stroke-width="0.55"/>
<line x1="92.85" y1="624.93" x2="94.65" y2="624.93" stroke="#8a8a96" stroke-width="0.55"/>
<line x1="98.30" y1="597.81" x2="98.30" y2="600.21" stroke="#8a8a96" stroke-width="0.55"/>
<line x1="97.40" y1="597.81" x2="99.20" y2="597.81" stroke="#8a8a96" stroke-width="0.55"/>
<line x1="97.40" y1="600.21" x2="99.20" y2="600.21" stroke="#8a8a96" stroke-width="0.55"/>
<line x1="98.30" y1="597.41" x2="98.30" y2="599.81" stroke="#8a8a96" stroke-width="0.55"/>
<line x1="97.40" y1="597.41" x2="99.20" y2="597.41" stroke="#8a8a96" stroke-width="0.55"/>
<line x1="97.40" y1="599.81" x2="99.20" y2="599.81" stroke="#8a8a96" stroke-width="0.55"/>
<line x1="98.30" y1="622.97" x2="98.30" y2="625.97" stroke="#8a8a96" stroke-width="0.55"/>
<line x1="97.40" y1="622.97" x2="99.20" y2="622.97" stroke="#8a8a96" stroke-width="0.55"/>
<line x1="97.40" y1="625.97" x2="99.20" y2="625.97" stroke="#8a8a96" stroke-width="0.55"/>
<line x1="102.85" y1="598.31" x2="102.85" y2="600.71" stroke="#8a8a96" stroke-width="0.55"/>
<line x1="101.95" y1="598.31" x2="103.75" y2="598.31" stroke="#8a8a96" stroke-width="0.55"/>
<line x1="101.95" y1="600.71" x2="103.75" y2="600.71" stroke="#8a8a96" stroke-width="0.55"/>
<line x1="102.85" y1="598.76" x2="102.85" y2="601.16" stroke="#8a8a96" stroke-width="0.55"/>
<line x1="101.95" y1="598.76" x2="103.75" y2="598.76" stroke="#8a8a96" stroke-width="0.55"/>
<line x1="101.95" y1="601.16" x2="103.75" y2="601.16" stroke="#8a8a96" stroke-width="0.55"/>
<line x1="102.85" y1="622.95" x2="102.85" y2="625.95" stroke="#8a8a96" stroke-width="0.55"/>
<line x1="101.95" y1="622.95" x2="103.75" y2="622.95" stroke="#8a8a96" stroke-width="0.55"/>
<line x1="101.95" y1="625.95" x2="103.75" y2="625.95" stroke="#8a8a96" stroke-width="0.55"/>
<line x1="107.40" y1="602.24" x2="107.40" y2="604.64" stroke="#8a8a96" stroke-width="0.55"/>
<line x1="106.50" y1="602.24" x2="108.30" y2="602.24" stroke="#8a8a96" stroke-width="0.55"/>
<line x1="106.50" y1="604.64" x2="108.30" y2="604.64" stroke="#8a8a96" stroke-width="0.55"/>
<line x1="107.40" y1="602.05" x2="107.40" y2="604.45" stroke="#8a8a96" stroke-width="0.55"/>
<line x1="106.50" y1="602.05" x2="108.30" y2="602.05" stroke="#8a8a96" stroke-width="0.55"/>
<line x1="106.50" y1="604.45" x2="108.30" y2="604.45" stroke="#8a8a96" stroke-width="0.55"/>
<line x1="107.40" y1="624.13" x2="107.40" y2="627.13" stroke="#8a8a96" stroke-width="0.55"/>
<line x1="106.50" y1="624.13" x2="108.30" y2="624.13" stroke="#8a8a96" stroke-width="0.55"/>
<line x1="106.50" y1="627.13" x2="108.30" y2="627.13" stroke="#8a8a96" stroke-width="0.55"/>
<line x1="111.95" y1="603.49" x2="111.95" y2="605.89" stroke="#8a8a96" stroke-width="0.55"/>
<line x1="111.05" y1="603.49" x2="112.85" y2="603.49" stroke="#8a8a96" stroke-width="0.55"/>
<line x1="111.05" y1="605.89" x2="112.85" y2="605.89" stroke="#8a8a96" stroke-width="0.55"/>
<line x1="111.95" y1="603.92" x2="111.95" y2="606.32" stroke="#8a8a96" stroke-width="0.55"/>
<line x1="111.05" y1="603.92" x2="112.85" y2="603.92" stroke="#8a8a96" stroke-width="0.55"/>
<line x1="111.05" y1="606.32" x2="112.85" y2="606.32" stroke="#8a8a96" stroke-width="0.55"/>
<line x1="111.95" y1="624.76" x2="111.95" y2="627.76" stroke="#8a8a96" stroke-width="0.55"/>
<line x1="111.05" y1="624.76" x2="112.85" y2="624.76" stroke="#8a8a96" stroke-width="0.55"/>
<line x1="111.05" y1="627.76" x2="112.85" y2="627.76" stroke="#8a8a96" stroke-width="0.55"/>
<line x1="116.50" y1="605.47" x2="116.50" y2="607.87" stroke="#8a8a96" stroke-width="0.55"/>
<line x1="115.60" y1="605.47" x2="117.40" y2="605.47" stroke="#8a8a96" stroke-width="0.55"/>
<line x1="115.60" y1="607.87" x2="117.40" y2="607.87" stroke="#8a8a96" stroke-width="0.55"/>
<line x1="116.50" y1="606.32" x2="116.50" y2="608.72" stroke="#8a8a96" stroke-width="0.55"/>
<line x1="115.60" y1="606.32" x2="117.40" y2="606.32" stroke="#8a8a96" stroke-width="0.55"/>
<line x1="115.60" y1="608.72" x2="117.40" y2="608.72" stroke="#8a8a96" stroke-width="0.55"/>
<line x1="116.50" y1="625.21" x2="116.50" y2="628.21" stroke="#8a8a96" stroke-width="0.55"/>
<line x1="115.60" y1="625.21" x2="117.40" y2="625.21" stroke="#8a8a96" stroke-width="0.55"/>
<line x1="115.60" y1="628.21" x2="117.40" y2="628.21" stroke="#8a8a96" stroke-width="0.55"/>
<line x1="121.05" y1="606.17" x2="121.05" y2="608.57" stroke="#8a8a96" stroke-width="0.55"/>
<line x1="120.15" y1="606.17" x2="121.95" y2="606.17" stroke="#8a8a96" stroke-width="0.55"/>
<line x1="120.15" y1="608.57" x2="121.95" y2="608.57" stroke="#8a8a96" stroke-width="0.55"/>
<line x1="121.05" y1="607.46" x2="121.05" y2="609.86" stroke="#8a8a96" stroke-width="0.55"/>
<line x1="120.15" y1="607.46" x2="121.95" y2="607.46" stroke="#8a8a96" stroke-width="0.55"/>
<line x1="120.15" y1="609.86" x2="121.95" y2="609.86" stroke="#8a8a96" stroke-width="0.55"/>
<line x1="121.05" y1="627.71" x2="121.05" y2="630.71" stroke="#8a8a96" stroke-width="0.55"/>
<line x1="120.15" y1="627.71" x2="121.95" y2="627.71" stroke="#8a8a96" stroke-width="0.55"/>
<line x1="120.15" y1="630.71" x2="121.95" y2="630.71" stroke="#8a8a96" stroke-width="0.55"/>
<line x1="125.60" y1="607.30" x2="125.60" y2="609.70" stroke="#8a8a96" stroke-width="0.55"/>
<line x1="124.70" y1="607.30" x2="126.50" y2="607.30" stroke="#8a8a96" stroke-width="0.55"/>
<line x1="124.70" y1="609.70" x2="126.50" y2="609.70" stroke="#8a8a96" stroke-width="0.55"/>
<line x1="125.60" y1="608.19" x2="125.60" y2="610.59" stroke="#8a8a96" stroke-width="0.55"/>
<line x1="124.70" y1="608.19" x2="126.50" y2="608.19" stroke="#8a8a96" stroke-width="0.55"/>
<line x1="124.70" y1="610.59" x2="126.50" y2="610.59" stroke="#8a8a96" stroke-width="0.55"/>
<line x1="125.60" y1="628.39" x2="125.60" y2="631.39" stroke="#8a8a96" stroke-width="0.55"/>
<line x1="124.70" y1="628.39" x2="126.50" y2="628.39" stroke="#8a8a96" stroke-width="0.55"/>
<line x1="124.70" y1="631.39" x2="126.50" y2="631.39" stroke="#8a8a96" stroke-width="0.55"/>
<line x1="130.15" y1="605.97" x2="130.15" y2="608.37" stroke="#8a8a96" stroke-width="0.55"/>
<line x1="129.25" y1="605.97" x2="131.05" y2="605.97" stroke="#8a8a96" stroke-width="0.55"/>
<line x1="129.25" y1="608.37" x2="131.05" y2="608.37" stroke="#8a8a96" stroke-width="0.55"/>
<line x1="130.15" y1="609.96" x2="130.15" y2="612.36" stroke="#8a8a96" stroke-width="0.55"/>
<line x1="129.25" y1="609.96" x2="131.05" y2="609.96" stroke="#8a8a96" stroke-width="0.55"/>
<line x1="129.25" y1="612.36" x2="131.05" y2="612.36" stroke="#8a8a96" stroke-width="0.55"/>
<line x1="130.15" y1="628.02" x2="130.15" y2="631.02" stroke="#8a8a96" stroke-width="0.55"/>
<line x1="129.25" y1="628.02" x2="131.05" y2="628.02" stroke="#8a8a96" stroke-width="0.55"/>
<line x1="129.25" y1="631.02" x2="131.05" y2="631.02" stroke="#8a8a96" stroke-width="0.55"/>
<line x1="134.70" y1="606.58" x2="134.70" y2="608.98" stroke="#8a8a96" stroke-width="0.55"/>
<line x1="133.80" y1="606.58" x2="135.60" y2="606.58" stroke="#8a8a96" stroke-width="0.55"/>
<line x1="133.80" y1="608.98" x2="135.60" y2="608.98" stroke="#8a8a96" stroke-width="0.55"/>
<line x1="134.70" y1="611.55" x2="134.70" y2="613.95" stroke="#8a8a96" stroke-width="0.55"/>
<line x1="133.80" y1="611.55" x2="135.60" y2="611.55" stroke="#8a8a96" stroke-width="0.55"/>
<line x1="133.80" y1="613.95" x2="135.60" y2="613.95" stroke="#8a8a96" stroke-width="0.55"/>
<line x1="134.70" y1="626.17" x2="134.70" y2="629.17" stroke="#8a8a96" stroke-width="0.55"/>
<line x1="133.80" y1="626.17" x2="135.60" y2="626.17" stroke="#8a8a96" stroke-width="0.55"/>
<line x1="133.80" y1="629.17" x2="135.60" y2="629.17" stroke="#8a8a96" stroke-width="0.55"/>
<line x1="139.25" y1="608.28" x2="139.25" y2="610.68" stroke="#8a8a96" stroke-width="0.55"/>
<line x1="138.35" y1="608.28" x2="140.15" y2="608.28" stroke="#8a8a96" stroke-width="0.55"/>
<line x1="138.35" y1="610.68" x2="140.15" y2="610.68" stroke="#8a8a96" stroke-width="0.55"/>
<line x1="139.25" y1="613.54" x2="139.25" y2="615.94" stroke="#8a8a96" stroke-width="0.55"/>
<line x1="138.35" y1="613.54" x2="140.15" y2="613.54" stroke="#8a8a96" stroke-width="0.55"/>
<line x1="138.35" y1="615.94" x2="140.15" y2="615.94" stroke="#8a8a96" stroke-width="0.55"/>
<line x1="139.25" y1="627.99" x2="139.25" y2="630.99" stroke="#8a8a96" stroke-width="0.55"/>
<line x1="138.35" y1="627.99" x2="140.15" y2="627.99" stroke="#8a8a96" stroke-width="0.55"/>
<line x1="138.35" y1="630.99" x2="140.15" y2="630.99" stroke="#8a8a96" stroke-width="0.55"/>
<line x1="143.80" y1="608.99" x2="143.80" y2="611.39" stroke="#8a8a96" stroke-width="0.55"/>
<line x1="142.90" y1="608.99" x2="144.70" y2="608.99" stroke="#8a8a96" stroke-width="0.55"/>
<line x1="142.90" y1="611.39" x2="144.70" y2="611.39" stroke="#8a8a96" stroke-width="0.55"/>
<line x1="143.80" y1="613.31" x2="143.80" y2="615.71" stroke="#8a8a96" stroke-width="0.55"/>
<line x1="142.90" y1="613.31" x2="144.70" y2="613.31" stroke="#8a8a96" stroke-width="0.55"/>
<line x1="142.90" y1="615.71" x2="144.70" y2="615.71" stroke="#8a8a96" stroke-width="0.55"/>
<line x1="143.80" y1="628.55" x2="143.80" y2="631.55" stroke="#8a8a96" stroke-width="0.55"/>
<line x1="142.90" y1="628.55" x2="144.70" y2="628.55" stroke="#8a8a96" stroke-width="0.55"/>
<line x1="142.90" y1="631.55" x2="144.70" y2="631.55" stroke="#8a8a96" stroke-width="0.55"/>
<line x1="148.35" y1="608.23" x2="148.35" y2="610.63" stroke="#8a8a96" stroke-width="0.55"/>
<line x1="147.45" y1="608.23" x2="149.25" y2="608.23" stroke="#8a8a96" stroke-width="0.55"/>
<line x1="147.45" y1="610.63" x2="149.25" y2="610.63" stroke="#8a8a96" stroke-width="0.55"/>
<line x1="148.35" y1="615.23" x2="148.35" y2="617.63" stroke="#8a8a96" stroke-width="0.55"/>
<line x1="147.45" y1="615.23" x2="149.25" y2="615.23" stroke="#8a8a96" stroke-width="0.55"/>
<line x1="147.45" y1="617.63" x2="149.25" y2="617.63" stroke="#8a8a96" stroke-width="0.55"/>
<line x1="148.35" y1="628.03" x2="148.35" y2="631.03" stroke="#8a8a96" stroke-width="0.55"/>
<line x1="147.45" y1="628.03" x2="149.25" y2="628.03" stroke="#8a8a96" stroke-width="0.55"/>
<line x1="147.45" y1="631.03" x2="149.25" y2="631.03" stroke="#8a8a96" stroke-width="0.55"/>
<line x1="152.90" y1="609.06" x2="152.90" y2="611.46" stroke="#8a8a96" stroke-width="0.55"/>
<line x1="152.00" y1="609.06" x2="153.80" y2="609.06" stroke="#8a8a96" stroke-width="0.55"/>
<line x1="152.00" y1="611.46" x2="153.80" y2="611.46" stroke="#8a8a96" stroke-width="0.55"/>
<line x1="152.90" y1="617.60" x2="152.90" y2="620.00" stroke="#8a8a96" stroke-width="0.55"/>
<line x1="152.00" y1="617.60" x2="153.80" y2="617.60" stroke="#8a8a96" stroke-width="0.55"/>
<line x1="152.00" y1="620.00" x2="153.80" y2="620.00" stroke="#8a8a96" stroke-width="0.55"/>
<line x1="152.90" y1="628.28" x2="152.90" y2="631.28" stroke="#8a8a96" stroke-width="0.55"/>
<line x1="152.00" y1="628.28" x2="153.80" y2="628.28" stroke="#8a8a96" stroke-width="0.55"/>
<line x1="152.00" y1="631.28" x2="153.80" y2="631.28" stroke="#8a8a96" stroke-width="0.55"/>
<path d="M51.06,577.32 L54.54,577.32 L52.80,574.28Z" fill="#4a8ac4"/>
<circle cx="52.80" cy="575.35" r="1.6" fill="#111"/>
<rect x="50.99" y="575.74" width="3.62" height="3.62" rx="0.5" fill="#e4306f"/>
<path d="M55.61,577.86 L59.09,577.86 L57.35,574.81Z" fill="#4a8ac4"/>
<circle cx="57.35" cy="577.80" r="1.6" fill="#111"/>
<rect x="55.54" y="588.70" width="3.62" height="3.62" rx="0.5" fill="#e4306f"/>
<path d="M60.16,579.11 L63.64,579.11 L61.90,576.07Z" fill="#4a8ac4"/>
<circle cx="61.90" cy="579.01" r="1.6" fill="#111"/>
<rect x="60.09" y="596.65" width="3.62" height="3.62" rx="0.5" fill="#e4306f"/>
<path d="M64.71,581.55 L68.19,581.55 L66.45,578.50Z" fill="#4a8ac4"/>
<circle cx="66.45" cy="579.00" r="1.6" fill="#111"/>
<rect x="64.64" y="603.21" width="3.62" height="3.62" rx="0.5" fill="#e4306f"/>
<path d="M69.26,583.25 L72.74,583.25 L71.00,580.21Z" fill="#4a8ac4"/>
<circle cx="71.00" cy="583.05" r="1.6" fill="#111"/>
<rect x="69.19" y="607.86" width="3.62" height="3.62" rx="0.5" fill="#e4306f"/>
<path d="M73.81,585.35 L77.29,585.35 L75.55,582.30Z" fill="#4a8ac4"/>
<circle cx="75.55" cy="585.27" r="1.6" fill="#111"/>
<rect x="73.74" y="614.37" width="3.62" height="3.62" rx="0.5" fill="#e4306f"/>
<path d="M78.36,589.10 L81.84,589.10 L80.10,586.06Z" fill="#4a8ac4"/>
<circle cx="80.10" cy="587.40" r="1.6" fill="#111"/>
<rect x="78.29" y="617.44" width="3.62" height="3.62" rx="0.5" fill="#e4306f"/>
<path d="M82.91,590.55 L86.39,590.55 L84.65,587.50Z" fill="#4a8ac4"/>
<circle cx="84.65" cy="591.87" r="1.6" fill="#111"/>
<rect x="82.84" y="617.59" width="3.62" height="3.62" rx="0.5" fill="#e4306f"/>
<path d="M87.46,593.90 L90.94,593.90 L89.20,590.86Z" fill="#4a8ac4"/>
<circle cx="89.20" cy="592.76" r="1.6" fill="#111"/>
<rect x="87.39" y="619.56" width="3.62" height="3.62" rx="0.5" fill="#e4306f"/>
<path d="M92.01,598.59 L95.49,598.59 L93.75,595.55Z" fill="#4a8ac4"/>
<circle cx="93.75" cy="595.64" r="1.6" fill="#111"/>
<rect x="91.94" y="621.62" width="3.62" height="3.62" rx="0.5" fill="#e4306f"/>
<path d="M96.56,600.46 L100.04,600.46 L98.30,597.41Z" fill="#4a8ac4"/>
<circle cx="98.30" cy="598.61" r="1.6" fill="#111"/>
<rect x="96.49" y="622.66" width="3.62" height="3.62" rx="0.5" fill="#e4306f"/>
<path d="M101.11,600.96 L104.59,600.96 L102.85,597.92Z" fill="#4a8ac4"/>
<circle cx="102.85" cy="599.96" r="1.6" fill="#111"/>
<rect x="101.04" y="622.63" width="3.62" height="3.62" rx="0.5" fill="#e4306f"/>
<path d="M105.66,604.89 L109.14,604.89 L107.40,601.84Z" fill="#4a8ac4"/>
<circle cx="107.40" cy="603.25" r="1.6" fill="#111"/>
<rect x="105.59" y="623.82" width="3.62" height="3.62" rx="0.5" fill="#e4306f"/>
<path d="M110.21,606.14 L113.69,606.14 L111.95,603.09Z" fill="#4a8ac4"/>
<circle cx="111.95" cy="605.12" r="1.6" fill="#111"/>
<rect x="110.14" y="624.45" width="3.62" height="3.62" rx="0.5" fill="#e4306f"/>
<path d="M114.76,608.12 L118.24,608.12 L116.50,605.08Z" fill="#4a8ac4"/>
<circle cx="116.50" cy="607.52" r="1.6" fill="#111"/>
<rect x="114.69" y="624.89" width="3.62" height="3.62" rx="0.5" fill="#e4306f"/>
<path d="M119.31,608.82 L122.79,608.82 L121.05,605.77Z" fill="#4a8ac4"/>
<circle cx="121.05" cy="608.66" r="1.6" fill="#111"/>
<rect x="119.24" y="627.40" width="3.62" height="3.62" rx="0.5" fill="#e4306f"/>
<path d="M123.86,609.95 L127.34,609.95 L125.60,606.90Z" fill="#4a8ac4"/>
<circle cx="125.60" cy="609.39" r="1.6" fill="#111"/>
<rect x="123.79" y="628.07" width="3.62" height="3.62" rx="0.5" fill="#e4306f"/>
<path d="M128.41,608.62 L131.89,608.62 L130.15,605.58Z" fill="#4a8ac4"/>
<circle cx="130.15" cy="611.16" r="1.6" fill="#111"/>
<rect x="128.34" y="627.71" width="3.62" height="3.62" rx="0.5" fill="#e4306f"/>
<path d="M132.96,609.23 L136.44,609.23 L134.70,606.18Z" fill="#4a8ac4"/>
<circle cx="134.70" cy="612.75" r="1.6" fill="#111"/>
<rect x="132.89" y="625.86" width="3.62" height="3.62" rx="0.5" fill="#e4306f"/>
<path d="M137.51,610.93 L140.99,610.93 L139.25,607.88Z" fill="#4a8ac4"/>
<circle cx="139.25" cy="614.74" r="1.6" fill="#111"/>
<rect x="137.44" y="627.67" width="3.62" height="3.62" rx="0.5" fill="#e4306f"/>
<path d="M142.06,611.64 L145.54,611.64 L143.80,608.59Z" fill="#4a8ac4"/>
<circle cx="143.80" cy="614.51" r="1.6" fill="#111"/>
<rect x="141.99" y="628.24" width="3.62" height="3.62" rx="0.5" fill="#e4306f"/>
<path d="M146.61,610.88 L150.09,610.88 L148.35,607.84Z" fill="#4a8ac4"/>
<circle cx="148.35" cy="616.43" r="1.6" fill="#111"/>
<rect x="146.54" y="627.72" width="3.62" height="3.62" rx="0.5" fill="#e4306f"/>
<path d="M151.16,611.71 L154.64,611.71 L152.90,608.66Z" fill="#4a8ac4"/>
<circle cx="152.90" cy="618.80" r="1.6" fill="#111"/>
<rect x="151.09" y="627.97" width="3.62" height="3.62" rx="0.5" fill="#e4306f"/>
<path d="M52.80,576.40 C54.03,576.75 57.40,577.70 60.20,578.50 C63.00,579.30 66.23,579.68 69.60,581.20 C72.97,582.72 76.82,585.33 80.40,587.60 C83.98,589.87 87.73,592.77 91.10,594.80 C94.47,596.83 97.70,598.37 100.60,599.80 C103.50,601.23 104.95,602.13 108.50,603.40 C112.05,604.67 117.42,606.48 121.90,607.40 C126.38,608.32 129.68,608.58 135.40,608.90 C141.12,609.22 152.73,609.23 156.20,609.30" stroke="#3d6fb0" stroke-width="1.1" fill="none"/>
<path d="M52.80,576.40 C54.03,576.75 57.40,577.70 60.20,578.50 C63.00,579.30 66.23,579.63 69.60,581.20 C72.97,582.77 76.82,585.57 80.40,587.90 C83.98,590.23 87.73,593.15 91.10,595.20 C94.47,597.25 97.70,598.73 100.60,600.20 C103.50,601.67 104.95,602.55 108.50,604.00 C112.05,605.45 117.42,607.40 121.90,608.90 C126.38,610.40 130.92,611.77 135.40,613.00 C139.88,614.23 145.33,615.40 148.80,616.30 C152.27,617.20 154.97,618.05 156.20,618.40" stroke="#2a2a5a" stroke-width="1.1" fill="none"/>
<path d="M52.80,577.10 C53.13,578.45 53.57,581.83 54.80,585.20 C56.03,588.57 58.40,593.93 60.20,597.30 C62.00,600.67 63.80,603.15 65.60,605.40 C67.40,607.65 69.22,609.12 71.00,610.80 C72.78,612.48 74.52,614.17 76.30,615.50 C78.08,616.83 79.45,617.68 81.70,618.80 C83.95,619.92 86.65,621.18 89.80,622.20 C92.95,623.22 97.48,624.20 100.60,624.90 C103.72,625.60 104.95,625.85 108.50,626.40 C112.05,626.95 117.42,627.75 121.90,628.20 C126.38,628.65 129.68,628.80 135.40,629.10 C141.12,629.40 152.73,629.85 156.20,630.00" stroke="#cc1f63" stroke-width="1.1" fill="none"/>
<circle cx="7.20" cy="677.70" r="1.6" fill="#111"/>
<line x1="4.90" y1="677.70" x2="9.50" y2="677.70" stroke="#111" stroke-width="0.8"/>
<text x="12.4" y="680.0" font-size="6.0" textLength="43.8" lengthAdjust="spacingAndGlyphs" style="stroke-width:0.05px">FC1199 (G12D)</text>
<rect x="63.10" y="676.10" width="3.20" height="3.20" fill="#e4306f"/>
<line x1="62.40" y1="677.70" x2="67.00" y2="677.70" stroke="#e4306f" stroke-width="0.8"/>
<text x="69.3" y="680.0" font-size="6.0" textLength="43.4" lengthAdjust="spacingAndGlyphs" style="stroke-width:0.05px">FC1242 (G12D)</text>
<path d="M123.28,679.30 L127.12,679.30 L125.20,675.94Z" fill="#4a8ac4"/>
<line x1="122.90" y1="677.70" x2="127.50" y2="677.70" stroke="#4a8ac4" stroke-width="0.8"/>
<text x="129.7" y="680.0" font-size="6.0" textLength="43.9" lengthAdjust="spacingAndGlyphs" style="stroke-width:0.05px">FC1245 (G12D)</text>
<text x="173.6" y="9.5" font-size="12.6" font-weight="bold">B</text>
<text x="200.2" y="8.8" font-size="9.8" textLength="84.8" lengthAdjust="spacingAndGlyphs">hT102 (KRAS WT)</text>
<line x1="199.80" y1="10.00" x2="285.50" y2="10.00" stroke="#000" stroke-width="0.8"/>
<text x="183.8" y="23.4" font-size="5.9" textLength="42.8" lengthAdjust="spacingAndGlyphs">MRTX-1133 (hrs)</text>
<text x="239.0" y="23.4" font-size="5.5" text-anchor="middle">0</text>
<text x="251.0" y="23.4" font-size="5.5" text-anchor="middle">3</text>
<text x="263.0" y="23.4" font-size="5.5" text-anchor="middle">24</text>
<text x="275.3" y="23.4" font-size="5.5" text-anchor="middle">72</text>
<text x="183.2" y="35.15" font-size="6.6">pEGFR</text>
<text x="183.2" y="46.31" font-size="6.6">EGFR</text>
<text x="183.2" y="57.47" font-size="6.6">pHER2</text>
<text x="183.2" y="68.63" font-size="6.6">HER2</text>
<text x="183.2" y="79.79" font-size="6.6">pMEK 1/2</text>
<text x="183.2" y="90.95" font-size="6.6">MEK 1/2</text>
<text x="183.2" y="102.11" font-size="6.6">pERK 1/2</text>
<text x="183.2" y="113.27" font-size="6.6">ERK 1/2</text>
<text x="183.2" y="124.43" font-size="6.6">pAKT</text>
<text x="183.2" y="135.59" font-size="6.6">AKT</text>
<text x="183.2" y="146.75" font-size="6.6">GAPDH</text>
<g filter="url(#bl)">
<rect x="230.50" y="27.30" width="54.80" height="10.10" fill="#dcdcdc" stroke="#707070" stroke-width="0.7"/>
<rect x="231.90" y="28.85" width="12.40" height="7.00" rx="3.08" fill="#080808" fill-opacity="0.19"/>
<rect x="233.10" y="29.95" width="10.00" height="4.80" rx="1.98" fill="#080808" fill-opacity="0.95"/>
<rect x="244.50" y="28.85" width="12.40" height="7.00" rx="3.08" fill="#080808" fill-opacity="0.19"/>
<rect x="245.70" y="29.95" width="10.00" height="4.80" rx="1.98" fill="#080808" fill-opacity="0.95"/>
<rect x="256.70" y="28.85" width="12.40" height="7.00" rx="3.08" fill="#080808" fill-opacity="0.19"/>
<rect x="257.90" y="29.95" width="10.00" height="4.80" rx="1.98" fill="#080808" fill-opacity="0.95"/>
<rect x="269.30" y="28.85" width="12.40" height="7.00" rx="3.08" fill="#080808" fill-opacity="0.19"/>
<rect x="270.50" y="29.95" width="10.00" height="4.80" rx="1.98" fill="#080808" fill-opacity="0.95"/>
<rect x="230.50" y="38.50" width="54.80" height="9.90" fill="#e2e2e2" stroke="#707070" stroke-width="0.7"/>
<rect x="231.90" y="40.15" width="12.40" height="6.60" rx="2.93" fill="#080808" fill-opacity="0.18"/>
<rect x="233.10" y="41.25" width="10.00" height="4.40" rx="1.83" fill="#080808" fill-opacity="0.92"/>
<rect x="244.50" y="39.85" width="12.40" height="7.20" rx="3.15" fill="#080808" fill-opacity="0.19"/>
<rect x="245.70" y="40.95" width="10.00" height="5.00" rx="2.05" fill="#080808" fill-opacity="0.97"/>
<rect x="256.70" y="40.25" width="12.40" height="6.40" rx="2.86" fill="#080808" fill-opacity="0.18"/>
<rect x="257.90" y="41.35" width="10.00" height="4.20" rx="1.76" fill="#080808" fill-opacity="0.88"/>
<rect x="269.30" y="40.65" width="12.40" height="5.60" rx="2.57" fill="#080808" fill-opacity="0.12"/>
<rect x="270.50" y="41.75" width="10.00" height="3.40" rx="1.47" fill="#080808" fill-opacity="0.60"/>
<rect x="230.50" y="49.60" width="54.80" height="10.20" fill="#dadada" stroke="#707070" stroke-width="0.7"/>
<rect x="231.90" y="52.30" width="12.40" height="4.80" rx="2.29" fill="#080808" fill-opacity="0.09"/>
<rect x="233.10" y="53.40" width="10.00" height="2.60" rx="1.19" fill="#080808" fill-opacity="0.45"/>
<rect x="244.50" y="52.20" width="12.40" height="5.00" rx="2.36" fill="#080808" fill-opacity="0.11"/>
<rect x="245.70" y="53.30" width="10.00" height="2.80" rx="1.26" fill="#080808" fill-opacity="0.55"/>
<rect x="256.70" y="51.80" width="12.40" height="5.80" rx="2.65" fill="#080808" fill-opacity="0.17"/>
<rect x="257.90" y="52.90" width="10.00" height="3.60" rx="1.55" fill="#080808" fill-opacity="0.85"/>
<rect x="269.15" y="50.85" width="12.70" height="7.70" rx="3.33" fill="#080808" fill-opacity="0.19"/>
<rect x="270.35" y="51.95" width="10.30" height="5.50" rx="2.23" fill="#080808" fill-opacity="0.95"/>
<rect x="230.50" y="61.90" width="54.80" height="9.80" fill="#e0e0e0" stroke="#707070" stroke-width="0.7"/>
<rect x="231.90" y="63.30" width="12.40" height="7.00" rx="3.08" fill="#080808" fill-opacity="0.19"/>
<rect x="233.10" y="64.40" width="10.00" height="4.80" rx="1.98" fill="#080808" fill-opacity="0.95"/>
<rect x="244.50" y="63.40" width="12.40" height="6.80" rx="3.01" fill="#080808" fill-opacity="0.19"/>
<rect x="245.70" y="64.50" width="10.00" height="4.60" rx="1.91" fill="#080808" fill-opacity="0.93"/>
<rect x="256.70" y="63.10" width="12.40" height="7.40" rx="3.22" fill="#080808" fill-opacity="0.19"/>
<rect x="257.90" y="64.20" width="10.00" height="5.20" rx="2.12" fill="#080808" fill-opacity="0.95"/>
<rect x="269.15" y="62.45" width="12.70" height="8.70" rx="3.69" fill="#080808" fill-opacity="0.20"/>
<rect x="270.35" y="63.55" width="10.30" height="6.50" rx="2.59" fill="#080808" fill-opacity="1.00"/>
<rect x="230.50" y="72.90" width="54.80" height="10.10" fill="#dcdcdc" stroke="#707070" stroke-width="0.7"/>
<rect x="231.75" y="73.25" width="12.70" height="9.40" rx="3.94" fill="#080808" fill-opacity="0.20"/>
<rect x="232.95" y="74.35" width="10.30" height="7.20" rx="2.84" fill="#080808" fill-opacity="1.00"/>
<rect x="244.60" y="73.35" width="12.20" height="9.20" rx="3.87" fill="#080808" fill-opacity="0.20"/>
<rect x="245.80" y="74.45" width="9.80" height="7.00" rx="2.77" fill="#080808" fill-opacity="1.00"/>
<rect x="257.05" y="73.35" width="11.70" height="9.20" rx="3.87" fill="#080808" fill-opacity="0.19"/>
<rect x="258.25" y="74.45" width="9.30" height="7.00" rx="2.77" fill="#080808" fill-opacity="0.97"/>
<rect x="269.90" y="73.60" width="11.20" height="8.70" rx="3.69" fill="#080808" fill-opacity="0.16"/>
<rect x="271.10" y="74.70" width="8.80" height="6.50" rx="2.59" fill="#080808" fill-opacity="0.80"/>
<rect x="230.50" y="84.20" width="54.80" height="9.70" fill="#e0e0e0" stroke="#707070" stroke-width="0.7"/>
<rect x="231.70" y="84.35" width="12.80" height="9.40" rx="3.94" fill="#080808" fill-opacity="0.20"/>
<rect x="232.90" y="85.45" width="10.40" height="7.20" rx="2.84" fill="#080808" fill-opacity="1.00"/>
<rect x="244.30" y="84.45" width="12.80" height="9.20" rx="3.87" fill="#080808" fill-opacity="0.20"/>
<rect x="245.50" y="85.55" width="10.40" height="7.00" rx="2.77" fill="#080808" fill-opacity="1.00"/>
<rect x="256.40" y="84.25" width="13.00" height="9.60" rx="4.01" fill="#080808" fill-opacity="0.20"/>
<rect x="257.60" y="85.35" width="10.60" height="7.40" rx="2.91" fill="#080808" fill-opacity="1.00"/>
<rect x="269.00" y="84.20" width="13.00" height="9.70" rx="4.05" fill="#080808" fill-opacity="0.20"/>
<rect x="270.20" y="85.30" width="10.60" height="7.50" rx="2.95" fill="#080808" fill-opacity="1.00"/>
<rect x="230.50" y="95.10" width="54.80" height="10.20" fill="#e4e4e4" stroke="#707070" stroke-width="0.7"/>
<rect x="231.75" y="95.90" width="12.70" height="5.40" rx="2.50" fill="#080808" fill-opacity="0.20"/>
<rect x="232.95" y="97.00" width="10.30" height="3.20" rx="1.40" fill="#080808" fill-opacity="1.00"/>
<rect x="231.75" y="98.90" width="12.70" height="5.80" rx="2.65" fill="#080808" fill-opacity="0.20"/>
<rect x="232.95" y="100.00" width="10.30" height="3.60" rx="1.55" fill="#080808" fill-opacity="1.00"/>
<rect x="244.60" y="96.25" width="12.20" height="4.70" rx="2.25" fill="#080808" fill-opacity="0.11"/>
<rect x="245.80" y="97.35" width="9.80" height="2.50" rx="1.15" fill="#080808" fill-opacity="0.55"/>
<rect x="244.60" y="98.90" width="12.20" height="5.40" rx="2.50" fill="#080808" fill-opacity="0.19"/>
<rect x="245.80" y="100.00" width="9.80" height="3.20" rx="1.40" fill="#080808" fill-opacity="0.95"/>
<rect x="256.80" y="96.20" width="12.20" height="4.80" rx="2.29" fill="#080808" fill-opacity="0.16"/>
<rect x="258.00" y="97.30" width="9.80" height="2.60" rx="1.19" fill="#080808" fill-opacity="0.80"/>
<rect x="256.80" y="98.90" width="12.20" height="5.40" rx="2.50" fill="#080808" fill-opacity="0.19"/>
<rect x="258.00" y="100.00" width="9.80" height="3.20" rx="1.40" fill="#080808" fill-opacity="0.95"/>
<rect x="269.40" y="96.25" width="12.20" height="4.70" rx="2.25" fill="#080808" fill-opacity="0.11"/>
<rect x="270.60" y="97.35" width="9.80" height="2.50" rx="1.15" fill="#080808" fill-opacity="0.55"/>
<rect x="269.40" y="98.90" width="12.20" height="5.40" rx="2.50" fill="#080808" fill-opacity="0.19"/>
<rect x="270.60" y="100.00" width="9.80" height="3.20" rx="1.40" fill="#080808" fill-opacity="0.95"/>
<rect x="230.50" y="106.40" width="54.80" height="9.60" fill="#e0e0e0" stroke="#707070" stroke-width="0.7"/>
<rect x="231.60" y="107.00" width="13.00" height="5.40" rx="2.50" fill="#080808" fill-opacity="0.20"/>
<rect x="232.80" y="108.10" width="10.60" height="3.20" rx="1.40" fill="#080808" fill-opacity="1.00"/>
<rect x="231.60" y="110.00" width="13.00" height="5.60" rx="2.57" fill="#080808" fill-opacity="0.20"/>
<rect x="232.80" y="111.10" width="10.60" height="3.40" rx="1.47" fill="#080808" fill-opacity="1.00"/>
<rect x="244.20" y="107.10" width="13.00" height="5.20" rx="2.43" fill="#080808" fill-opacity="0.19"/>
<rect x="245.40" y="108.20" width="10.60" height="3.00" rx="1.33" fill="#080808" fill-opacity="0.95"/>
<rect x="244.20" y="110.00" width="13.00" height="5.60" rx="2.57" fill="#080808" fill-opacity="0.20"/>
<rect x="245.40" y="111.10" width="10.60" height="3.40" rx="1.47" fill="#080808" fill-opacity="1.00"/>
<rect x="256.40" y="107.10" width="13.00" height="5.20" rx="2.43" fill="#080808" fill-opacity="0.20"/>
<rect x="257.60" y="108.20" width="10.60" height="3.00" rx="1.33" fill="#080808" fill-opacity="1.00"/>
<rect x="256.40" y="110.00" width="13.00" height="5.60" rx="2.57" fill="#080808" fill-opacity="0.20"/>
<rect x="257.60" y="111.10" width="10.60" height="3.40" rx="1.47" fill="#080808" fill-opacity="1.00"/>
<rect x="269.00" y="107.10" width="13.00" height="5.20" rx="2.43" fill="#080808" fill-opacity="0.19"/>
<rect x="270.20" y="108.20" width="10.60" height="3.00" rx="1.33" fill="#080808" fill-opacity="0.95"/>
<rect x="269.00" y="110.00" width="13.00" height="5.60" rx="2.57" fill="#080808" fill-opacity="0.20"/>
<rect x="270.20" y="111.10" width="10.60" height="3.40" rx="1.47" fill="#080808" fill-opacity="1.00"/>
<rect x="230.50" y="117.20" width="54.80" height="8.90" fill="#e2e2e2" stroke="#707070" stroke-width="0.7"/>
<rect x="231.75" y="118.85" width="12.70" height="5.60" rx="2.57" fill="#080808" fill-opacity="0.19"/>
<rect x="232.95" y="119.95" width="10.30" height="3.40" rx="1.47" fill="#080808" fill-opacity="0.95"/>
<rect x="244.35" y="118.85" width="12.70" height="5.60" rx="2.57" fill="#080808" fill-opacity="0.19"/>
<rect x="245.55" y="119.95" width="10.30" height="3.40" rx="1.47" fill="#080808" fill-opacity="0.95"/>
<rect x="256.80" y="118.95" width="12.20" height="5.40" rx="2.50" fill="#080808" fill-opacity="0.18"/>
<rect x="258.00" y="120.05" width="9.80" height="3.20" rx="1.40" fill="#080808" fill-opacity="0.90"/>
<rect x="269.15" y="118.85" width="12.70" height="5.60" rx="2.57" fill="#080808" fill-opacity="0.19"/>
<rect x="270.35" y="119.95" width="10.30" height="3.40" rx="1.47" fill="#080808" fill-opacity="0.95"/>
<rect x="230.50" y="127.90" width="54.80" height="10.10" fill="#dedede" stroke="#707070" stroke-width="0.7"/>
<rect x="231.75" y="129.95" width="12.70" height="6.00" rx="2.72" fill="#080808" fill-opacity="0.19"/>
<rect x="232.95" y="131.05" width="10.30" height="3.80" rx="1.62" fill="#080808" fill-opacity="0.95"/>
<rect x="244.60" y="130.05" width="12.20" height="5.80" rx="2.65" fill="#080808" fill-opacity="0.18"/>
<rect x="245.80" y="131.15" width="9.80" height="3.60" rx="1.55" fill="#080808" fill-opacity="0.90"/>
<rect x="256.40" y="129.65" width="13.00" height="6.60" rx="2.93" fill="#080808" fill-opacity="0.19"/>
<rect x="257.60" y="130.75" width="10.60" height="4.40" rx="1.83" fill="#080808" fill-opacity="0.95"/>
<rect x="269.00" y="129.55" width="13.00" height="6.80" rx="3.01" fill="#080808" fill-opacity="0.19"/>
<rect x="270.20" y="130.65" width="10.60" height="4.60" rx="1.91" fill="#080808" fill-opacity="0.97"/>
<rect x="230.50" y="139.80" width="54.80" height="10.20" fill="#e2e2e2" stroke="#707070" stroke-width="0.7"/>
<rect x="231.90" y="142.10" width="12.40" height="5.60" rx="2.57" fill="#080808" fill-opacity="0.19"/>
<rect x="233.10" y="143.20" width="10.00" height="3.40" rx="1.47" fill="#080808" fill-opacity="0.95"/>
<rect x="244.50" y="142.10" width="12.40" height="5.60" rx="2.57" fill="#080808" fill-opacity="0.19"/>
<rect x="245.70" y="143.20" width="10.00" height="3.40" rx="1.47" fill="#080808" fill-opacity="0.95"/>
<rect x="257.05" y="142.30" width="11.70" height="5.20" rx="2.43" fill="#080808" fill-opacity="0.18"/>
<rect x="258.25" y="143.40" width="9.30" height="3.00" rx="1.33" fill="#080808" fill-opacity="0.90"/>
<rect x="269.65" y="142.30" width="11.70" height="5.20" rx="2.43" fill="#080808" fill-opacity="0.18"/>
<rect x="270.85" y="143.40" width="9.30" height="3.00" rx="1.33" fill="#080808" fill-opacity="0.90"/>
</g>
<text x="310.9" y="8.8" font-size="9.8" textLength="78.6" lengthAdjust="spacingAndGlyphs">hM1F (KRAS<tspan dy="-3.53" font-size="6.47">G12D</tspan><tspan dy="3.53">)</tspan></text>
<line x1="310.60" y1="10.00" x2="390.00" y2="10.00" stroke="#000" stroke-width="0.8"/>
<text x="304.2" y="24.9" font-size="5.9" textLength="42.8" lengthAdjust="spacingAndGlyphs">MRTX-1133 (hrs)</text>
<text x="359.9" y="24.9" font-size="5.5" text-anchor="middle">0</text>
<text x="372.6" y="24.9" font-size="5.5" text-anchor="middle">3</text>
<text x="384.4" y="24.9" font-size="5.5" text-anchor="middle">24</text>
<text x="396.3" y="24.9" font-size="5.5" text-anchor="middle">72</text>
<text x="303.3" y="36.15" font-size="6.6">pEGFR</text>
<text x="303.3" y="47.34" font-size="6.6">EGFR</text>
<text x="303.3" y="58.53" font-size="6.6">pHER2</text>
<text x="303.3" y="69.72" font-size="6.6">HER2</text>
<text x="303.3" y="80.91" font-size="6.6">pMEK 1/2</text>
<text x="303.3" y="92.1" font-size="6.6">MEK 1/2</text>
<text x="303.3" y="103.29" font-size="6.6">pERK 1/2</text>
<text x="303.3" y="114.48" font-size="6.6">ERK 1/2</text>
<text x="303.3" y="125.67" font-size="6.6">pAKT</text>
<text x="303.3" y="136.86" font-size="6.6">AKT</text>
<text x="303.3" y="148.05" font-size="6.6">GAPDH</text>
<g filter="url(#bl)">
<rect x="351.20" y="28.80" width="54.40" height="9.80" fill="#c8c8c8" stroke="#707070" stroke-width="0.7"/>
<rect x="354.50" y="31.30" width="10.20" height="4.80" rx="2.29" fill="#080808" fill-opacity="0.11"/>
<rect x="355.70" y="32.40" width="7.80" height="2.60" rx="1.19" fill="#080808" fill-opacity="0.55"/>
<rect x="365.90" y="30.30" width="12.20" height="6.80" rx="3.01" fill="#080808" fill-opacity="0.20"/>
<rect x="367.10" y="31.40" width="9.80" height="4.60" rx="1.91" fill="#080808" fill-opacity="1.00"/>
<rect x="378.75" y="30.80" width="11.70" height="5.80" rx="2.65" fill="#080808" fill-opacity="0.16"/>
<rect x="379.95" y="31.90" width="9.30" height="3.60" rx="1.55" fill="#080808" fill-opacity="0.80"/>
<rect x="391.30" y="30.30" width="12.20" height="6.80" rx="3.01" fill="#080808" fill-opacity="0.19"/>
<rect x="392.50" y="31.40" width="9.80" height="4.60" rx="1.91" fill="#080808" fill-opacity="0.95"/>
<rect x="351.20" y="39.90" width="54.40" height="10.10" fill="#e6e6e6" stroke="#707070" stroke-width="0.7"/>
<rect x="353.40" y="41.35" width="12.40" height="7.20" rx="3.15" fill="#080808" fill-opacity="0.19"/>
<rect x="354.60" y="42.45" width="10.00" height="5.00" rx="2.05" fill="#080808" fill-opacity="0.95"/>
<rect x="365.80" y="41.35" width="12.40" height="7.20" rx="3.15" fill="#080808" fill-opacity="0.19"/>
<rect x="367.00" y="42.45" width="10.00" height="5.00" rx="2.05" fill="#080808" fill-opacity="0.95"/>
<rect x="378.75" y="42.35" width="11.70" height="5.20" rx="2.43" fill="#080808" fill-opacity="0.09"/>
<rect x="379.95" y="43.45" width="9.30" height="3.00" rx="1.33" fill="#080808" fill-opacity="0.45"/>
<rect x="391.55" y="42.35" width="11.70" height="5.20" rx="2.43" fill="#080808" fill-opacity="0.05"/>
<rect x="392.75" y="43.45" width="9.30" height="3.00" rx="1.33" fill="#080808" fill-opacity="0.25"/>
<rect x="351.20" y="51.70" width="54.40" height="9.70" fill="#b9b9b9" stroke="#707070" stroke-width="0.7"/>
<rect x="353.40" y="54.15" width="12.40" height="4.80" rx="2.29" fill="#080808" fill-opacity="0.11"/>
<rect x="354.60" y="55.25" width="10.00" height="2.60" rx="1.19" fill="#080808" fill-opacity="0.55"/>
<rect x="365.80" y="52.95" width="12.40" height="7.20" rx="3.15" fill="#080808" fill-opacity="0.20"/>
<rect x="367.00" y="54.05" width="10.00" height="5.00" rx="2.05" fill="#080808" fill-opacity="1.00"/>
<rect x="378.50" y="53.35" width="12.20" height="6.40" rx="2.86" fill="#080808" fill-opacity="0.17"/>
<rect x="379.70" y="54.45" width="9.80" height="4.20" rx="1.76" fill="#080808" fill-opacity="0.85"/>
<rect x="391.30" y="53.35" width="12.20" height="6.40" rx="2.86" fill="#080808" fill-opacity="0.17"/>
<rect x="392.50" y="54.45" width="9.80" height="4.20" rx="1.76" fill="#080808" fill-opacity="0.85"/>
<rect x="351.20" y="62.70" width="54.40" height="9.70" fill="#e0e0e0" stroke="#707070" stroke-width="0.7"/>
<rect x="353.40" y="64.65" width="12.40" height="5.80" rx="2.65" fill="#080808" fill-opacity="0.19"/>
<rect x="354.60" y="65.75" width="10.00" height="3.60" rx="1.55" fill="#080808" fill-opacity="0.95"/>
<rect x="365.80" y="64.65" width="12.40" height="5.80" rx="2.65" fill="#080808" fill-opacity="0.19"/>
<rect x="367.00" y="65.75" width="10.00" height="3.60" rx="1.55" fill="#080808" fill-opacity="0.95"/>
<rect x="378.40" y="64.65" width="12.40" height="5.80" rx="2.65" fill="#080808" fill-opacity="0.19"/>
<rect x="379.60" y="65.75" width="10.00" height="3.60" rx="1.55" fill="#080808" fill-opacity="0.95"/>
<rect x="391.20" y="64.55" width="12.40" height="6.00" rx="2.72" fill="#080808" fill-opacity="0.19"/>
<rect x="392.40" y="65.65" width="10.00" height="3.80" rx="1.62" fill="#080808" fill-opacity="0.95"/>
<rect x="351.20" y="73.50" width="54.40" height="10.50" fill="#dcdcdc" stroke="#707070" stroke-width="0.7"/>
<rect x="353.00" y="73.65" width="13.20" height="10.20" rx="4.23" fill="#080808" fill-opacity="0.20"/>
<rect x="354.20" y="74.75" width="10.80" height="8.00" rx="3.13" fill="#080808" fill-opacity="1.00"/>
<rect x="366.15" y="75.75" width="11.70" height="6.00" rx="2.72" fill="#080808" fill-opacity="0.04"/>
<rect x="367.35" y="76.85" width="9.30" height="3.80" rx="1.62" fill="#080808" fill-opacity="0.22"/>
<rect x="378.75" y="75.85" width="11.70" height="5.80" rx="2.65" fill="#080808" fill-opacity="0.04"/>
<rect x="379.95" y="76.95" width="9.30" height="3.60" rx="1.55" fill="#080808" fill-opacity="0.20"/>
<rect x="391.55" y="75.85" width="11.70" height="5.80" rx="2.65" fill="#080808" fill-opacity="0.04"/>
<rect x="392.75" y="76.95" width="9.30" height="3.60" rx="1.55" fill="#080808" fill-opacity="0.20"/>
<rect x="351.20" y="85.00" width="54.40" height="10.40" fill="#e4e4e4" stroke="#707070" stroke-width="0.7"/>
<rect x="353.50" y="85.35" width="12.20" height="9.70" rx="4.05" fill="#080808" fill-opacity="0.20"/>
<rect x="354.70" y="86.45" width="9.80" height="7.50" rx="2.95" fill="#080808" fill-opacity="1.00"/>
<rect x="366.15" y="87.50" width="11.70" height="5.40" rx="2.50" fill="#080808" fill-opacity="0.04"/>
<rect x="367.35" y="88.60" width="9.30" height="3.20" rx="1.40" fill="#080808" fill-opacity="0.20"/>
<rect x="378.75" y="87.60" width="11.70" height="5.20" rx="2.43" fill="#080808" fill-opacity="0.02"/>
<rect x="379.95" y="88.70" width="9.30" height="3.00" rx="1.33" fill="#080808" fill-opacity="0.10"/>
<rect x="391.55" y="87.60" width="11.70" height="5.20" rx="2.43" fill="#080808" fill-opacity="0.02"/>
<rect x="392.75" y="88.70" width="9.30" height="3.00" rx="1.33" fill="#080808" fill-opacity="0.08"/>
<rect x="351.20" y="96.40" width="54.40" height="10.20" fill="#e6e6e6" stroke="#707070" stroke-width="0.7"/>
<rect x="353.25" y="96.90" width="12.70" height="5.60" rx="2.57" fill="#080808" fill-opacity="0.20"/>
<rect x="354.45" y="98.00" width="10.30" height="3.40" rx="1.47" fill="#080808" fill-opacity="1.00"/>
<rect x="353.25" y="100.30" width="12.70" height="6.00" rx="2.72" fill="#080808" fill-opacity="0.20"/>
<rect x="354.45" y="101.40" width="10.30" height="3.80" rx="1.62" fill="#080808" fill-opacity="1.00"/>
<rect x="365.80" y="98.90" width="12.40" height="5.20" rx="2.43" fill="#080808" fill-opacity="0.01"/>
<rect x="367.00" y="100.00" width="10.00" height="3.00" rx="1.33" fill="#080808" fill-opacity="0.03"/>
<rect x="378.40" y="98.90" width="12.40" height="5.20" rx="2.43" fill="#080808" fill-opacity="0.01"/>
<rect x="379.60" y="100.00" width="10.00" height="3.00" rx="1.33" fill="#080808" fill-opacity="0.03"/>
<rect x="391.20" y="98.90" width="12.40" height="5.20" rx="2.43" fill="#080808" fill-opacity="0.01"/>
<rect x="392.40" y="100.00" width="10.00" height="3.00" rx="1.33" fill="#080808" fill-opacity="0.03"/>
<rect x="351.20" y="107.60" width="54.40" height="10.30" fill="#d8d8d8" stroke="#707070" stroke-width="0.7"/>
<rect x="353.50" y="109.15" width="12.20" height="7.20" rx="3.15" fill="#080808" fill-opacity="0.03"/>
<rect x="354.70" y="110.25" width="9.80" height="5.00" rx="2.05" fill="#080808" fill-opacity="0.15"/>
<rect x="365.80" y="108.75" width="12.40" height="4.80" rx="2.29" fill="#080808" fill-opacity="0.12"/>
<rect x="367.00" y="109.85" width="10.00" height="2.60" rx="1.19" fill="#080808" fill-opacity="0.60"/>
<rect x="365.80" y="111.75" width="12.40" height="5.20" rx="2.43" fill="#080808" fill-opacity="0.17"/>
<rect x="367.00" y="112.85" width="10.00" height="3.00" rx="1.33" fill="#080808" fill-opacity="0.85"/>
<rect x="378.40" y="108.75" width="12.40" height="4.80" rx="2.29" fill="#080808" fill-opacity="0.11"/>
<rect x="379.60" y="109.85" width="10.00" height="2.60" rx="1.19" fill="#080808" fill-opacity="0.55"/>
<rect x="378.40" y="111.75" width="12.40" height="5.20" rx="2.43" fill="#080808" fill-opacity="0.16"/>
<rect x="379.60" y="112.85" width="10.00" height="3.00" rx="1.33" fill="#080808" fill-opacity="0.80"/>
<rect x="391.20" y="108.75" width="12.40" height="4.80" rx="2.29" fill="#080808" fill-opacity="0.12"/>
<rect x="392.40" y="109.85" width="10.00" height="2.60" rx="1.19" fill="#080808" fill-opacity="0.60"/>
<rect x="391.20" y="111.75" width="12.40" height="5.20" rx="2.43" fill="#080808" fill-opacity="0.17"/>
<rect x="392.40" y="112.85" width="10.00" height="3.00" rx="1.33" fill="#080808" fill-opacity="0.85"/>
<rect x="351.20" y="118.90" width="54.40" height="10.10" fill="#e4e4e4" stroke="#707070" stroke-width="0.7"/>
<rect x="353.25" y="120.75" width="12.70" height="6.40" rx="2.86" fill="#080808" fill-opacity="0.19"/>
<rect x="354.45" y="121.85" width="10.30" height="4.20" rx="1.76" fill="#080808" fill-opacity="0.97"/>
<rect x="366.15" y="121.45" width="11.70" height="5.00" rx="2.36" fill="#080808" fill-opacity="0.08"/>
<rect x="367.35" y="122.55" width="9.30" height="2.80" rx="1.26" fill="#080808" fill-opacity="0.40"/>
<rect x="378.75" y="121.45" width="11.70" height="5.00" rx="2.36" fill="#080808" fill-opacity="0.09"/>
<rect x="379.95" y="122.55" width="9.30" height="2.80" rx="1.26" fill="#080808" fill-opacity="0.45"/>
<rect x="391.40" y="121.25" width="12.00" height="5.40" rx="2.50" fill="#080808" fill-opacity="0.14"/>
<rect x="392.60" y="122.35" width="9.60" height="3.20" rx="1.40" fill="#080808" fill-opacity="0.72"/>
<rect x="351.20" y="130.00" width="54.40" height="9.60" fill="#dedede" stroke="#707070" stroke-width="0.7"/>
<rect x="353.20" y="131.30" width="12.80" height="7.00" rx="3.08" fill="#080808" fill-opacity="0.19"/>
<rect x="354.40" y="132.40" width="10.40" height="4.80" rx="1.98" fill="#080808" fill-opacity="0.95"/>
<rect x="365.50" y="131.10" width="13.00" height="7.40" rx="3.22" fill="#080808" fill-opacity="0.20"/>
<rect x="366.70" y="132.20" width="10.60" height="5.20" rx="2.12" fill="#080808" fill-opacity="1.00"/>
<rect x="378.10" y="131.10" width="13.00" height="7.40" rx="3.22" fill="#080808" fill-opacity="0.20"/>
<rect x="379.30" y="132.20" width="10.60" height="5.20" rx="2.12" fill="#080808" fill-opacity="1.00"/>
<rect x="390.90" y="131.10" width="13.00" height="7.40" rx="3.22" fill="#080808" fill-opacity="0.20"/>
<rect x="392.10" y="132.20" width="10.60" height="5.20" rx="2.12" fill="#080808" fill-opacity="1.00"/>
<rect x="351.20" y="140.90" width="54.40" height="9.50" fill="#cfcfcf" stroke="#707070" stroke-width="0.7"/>
<rect x="353.10" y="142.05" width="13.00" height="7.20" rx="3.15" fill="#080808" fill-opacity="0.19"/>
<rect x="354.30" y="143.15" width="10.60" height="5.00" rx="2.05" fill="#080808" fill-opacity="0.97"/>
<rect x="365.50" y="142.05" width="13.00" height="7.20" rx="3.15" fill="#080808" fill-opacity="0.19"/>
<rect x="366.70" y="143.15" width="10.60" height="5.00" rx="2.05" fill="#080808" fill-opacity="0.97"/>
<rect x="378.10" y="141.95" width="13.00" height="7.40" rx="3.22" fill="#080808" fill-opacity="0.19"/>
<rect x="379.30" y="143.05" width="10.60" height="5.20" rx="2.12" fill="#080808" fill-opacity="0.97"/>
<rect x="390.90" y="142.05" width="13.00" height="7.20" rx="3.15" fill="#080808" fill-opacity="0.19"/>
<rect x="392.10" y="143.15" width="10.60" height="5.00" rx="2.05" fill="#080808" fill-opacity="0.95"/>
</g>
<text x="173.5" y="185.4" font-size="12.6" font-weight="bold">E</text>
<text x="201.6" y="191.1" font-size="9.9" textLength="87.6" lengthAdjust="spacingAndGlyphs">BXPC3 (KRAS WT)</text>
<line x1="201.20" y1="192.10" x2="289.40" y2="192.10" stroke="#000" stroke-width="0.8"/>
<text x="184.0" y="205.9" font-size="5.7" textLength="42.7" lengthAdjust="spacingAndGlyphs">MRTX-1133 (hrs)</text>
<text x="239.0" y="205.9" font-size="5.3" text-anchor="middle">0</text>
<text x="251.3" y="205.9" font-size="5.3" text-anchor="middle">3</text>
<text x="264.0" y="205.9" font-size="5.3" text-anchor="middle">24</text>
<text x="276.7" y="205.9" font-size="5.3" text-anchor="middle">72</text>
<text x="182.9" y="218.65" font-size="6.6">pEGFR</text>
<text x="182.9" y="229.85" font-size="6.6">EGFR</text>
<text x="182.9" y="241.05" font-size="6.6">pHER2</text>
<text x="182.9" y="252.25" font-size="6.6">HER2</text>
<text x="182.9" y="263.45" font-size="6.6">pMEK 1/2</text>
<text x="182.9" y="274.65" font-size="6.6">MEK 1/2</text>
<text x="182.9" y="285.85" font-size="6.6">pERK 1/2</text>
<text x="182.9" y="297.05" font-size="6.6">ERK 1/2</text>
<text x="182.9" y="308.25" font-size="6.6">pAKT</text>
<text x="182.9" y="319.45" font-size="6.6">AKT</text>
<text x="182.9" y="330.65" font-size="6.6">GAPDH</text>
<g filter="url(#bl)">
<rect x="234.00" y="211.30" width="47.90" height="9.60" fill="#dcdcdc" stroke="#707070" stroke-width="0.7"/>
<rect x="234.40" y="213.50" width="11.20" height="5.20" rx="2.43" fill="#080808" fill-opacity="0.06"/>
<rect x="235.60" y="214.60" width="8.80" height="3.00" rx="1.33" fill="#080808" fill-opacity="0.30"/>
<rect x="245.70" y="213.50" width="11.20" height="5.20" rx="2.43" fill="#080808" fill-opacity="0.05"/>
<rect x="246.90" y="214.60" width="8.80" height="3.00" rx="1.33" fill="#080808" fill-opacity="0.25"/>
<rect x="256.90" y="213.50" width="11.20" height="5.20" rx="2.43" fill="#080808" fill-opacity="0.04"/>
<rect x="258.10" y="214.60" width="8.80" height="3.00" rx="1.33" fill="#080808" fill-opacity="0.18"/>
<rect x="267.90" y="213.50" width="11.20" height="5.20" rx="2.43" fill="#080808" fill-opacity="0.04"/>
<rect x="269.10" y="214.60" width="8.80" height="3.00" rx="1.33" fill="#080808" fill-opacity="0.18"/>
<rect x="234.00" y="221.90" width="47.90" height="11.10" fill="#e4e4e4" stroke="#707070" stroke-width="0.7"/>
<rect x="233.80" y="223.60" width="12.40" height="7.70" rx="3.33" fill="#080808" fill-opacity="0.20"/>
<rect x="235.00" y="224.70" width="10.00" height="5.50" rx="2.23" fill="#080808" fill-opacity="1.00"/>
<rect x="245.10" y="223.35" width="12.40" height="8.20" rx="3.51" fill="#080808" fill-opacity="0.20"/>
<rect x="246.30" y="224.45" width="10.00" height="6.00" rx="2.41" fill="#080808" fill-opacity="1.00"/>
<rect x="256.65" y="223.85" width="11.70" height="7.20" rx="3.15" fill="#080808" fill-opacity="0.20"/>
<rect x="257.85" y="224.95" width="9.30" height="5.00" rx="2.05" fill="#080808" fill-opacity="1.00"/>
<rect x="267.65" y="224.10" width="11.70" height="6.70" rx="2.97" fill="#080808" fill-opacity="0.19"/>
<rect x="268.85" y="225.20" width="9.30" height="4.50" rx="1.87" fill="#080808" fill-opacity="0.95"/>
<rect x="234.00" y="234.10" width="47.90" height="11.10" fill="#d2d2d2" stroke="#707070" stroke-width="0.7"/>
<rect x="234.40" y="236.80" width="11.20" height="5.70" rx="2.61" fill="#080808" fill-opacity="0.07"/>
<rect x="235.60" y="237.90" width="8.80" height="3.50" rx="1.51" fill="#080808" fill-opacity="0.35"/>
<rect x="245.70" y="236.80" width="11.20" height="5.70" rx="2.61" fill="#080808" fill-opacity="0.06"/>
<rect x="246.90" y="237.90" width="8.80" height="3.50" rx="1.51" fill="#080808" fill-opacity="0.30"/>
<rect x="256.90" y="236.80" width="11.20" height="5.70" rx="2.61" fill="#080808" fill-opacity="0.04"/>
<rect x="258.10" y="237.90" width="8.80" height="3.50" rx="1.51" fill="#080808" fill-opacity="0.20"/>
<rect x="267.90" y="236.80" width="11.20" height="5.70" rx="2.61" fill="#080808" fill-opacity="0.02"/>
<rect x="269.10" y="237.90" width="8.80" height="3.50" rx="1.51" fill="#080808" fill-opacity="0.12"/>
<rect x="234.00" y="246.80" width="47.90" height="10.10" fill="#eaeaea" stroke="#707070" stroke-width="0.7"/>
<rect x="235.15" y="249.45" width="9.70" height="4.80" rx="2.29" fill="#080808" fill-opacity="0.10"/>
<rect x="236.35" y="250.55" width="7.30" height="2.60" rx="1.19" fill="#080808" fill-opacity="0.50"/>
<rect x="246.45" y="249.45" width="9.70" height="4.80" rx="2.29" fill="#080808" fill-opacity="0.09"/>
<rect x="247.65" y="250.55" width="7.30" height="2.60" rx="1.19" fill="#080808" fill-opacity="0.45"/>
<rect x="257.90" y="249.75" width="9.20" height="4.20" rx="2.07" fill="#080808" fill-opacity="0.01"/>
<rect x="259.10" y="250.85" width="6.80" height="2.00" rx="0.97" fill="#080808" fill-opacity="0.05"/>
<rect x="268.90" y="249.75" width="9.20" height="4.20" rx="2.07" fill="#080808" fill-opacity="0.01"/>
<rect x="270.10" y="250.85" width="6.80" height="2.00" rx="0.97" fill="#080808" fill-opacity="0.03"/>
<rect x="234.00" y="257.90" width="47.90" height="10.60" fill="#e2e2e2" stroke="#707070" stroke-width="0.7"/>
<rect x="233.80" y="259.60" width="12.40" height="7.20" rx="3.15" fill="#080808" fill-opacity="0.20"/>
<rect x="235.00" y="260.70" width="10.00" height="5.00" rx="2.05" fill="#080808" fill-opacity="1.00"/>
<rect x="245.20" y="259.80" width="12.20" height="6.80" rx="3.01" fill="#080808" fill-opacity="0.19"/>
<rect x="246.40" y="260.90" width="9.80" height="4.60" rx="1.91" fill="#080808" fill-opacity="0.97"/>
<rect x="256.50" y="259.85" width="12.00" height="6.70" rx="2.97" fill="#080808" fill-opacity="0.19"/>
<rect x="257.70" y="260.95" width="9.60" height="4.50" rx="1.87" fill="#080808" fill-opacity="0.95"/>
<rect x="267.65" y="260.30" width="11.70" height="5.80" rx="2.65" fill="#080808" fill-opacity="0.17"/>
<rect x="268.85" y="261.40" width="9.30" height="3.60" rx="1.55" fill="#080808" fill-opacity="0.85"/>
<rect x="234.00" y="268.80" width="47.90" height="9.80" fill="#dcdcdc" stroke="#707070" stroke-width="0.7"/>
<rect x="234.15" y="271.10" width="11.70" height="5.20" rx="2.43" fill="#080808" fill-opacity="0.15"/>
<rect x="235.35" y="272.20" width="9.30" height="3.00" rx="1.33" fill="#080808" fill-opacity="0.75"/>
<rect x="245.45" y="271.10" width="11.70" height="5.20" rx="2.43" fill="#080808" fill-opacity="0.15"/>
<rect x="246.65" y="272.20" width="9.30" height="3.00" rx="1.33" fill="#080808" fill-opacity="0.75"/>
<rect x="256.50" y="270.85" width="12.00" height="5.70" rx="2.61" fill="#080808" fill-opacity="0.18"/>
<rect x="257.70" y="271.95" width="9.60" height="3.50" rx="1.51" fill="#080808" fill-opacity="0.90"/>
<rect x="267.30" y="270.10" width="12.40" height="7.20" rx="3.15" fill="#080808" fill-opacity="0.20"/>
<rect x="268.50" y="271.20" width="10.00" height="5.00" rx="2.05" fill="#080808" fill-opacity="1.00"/>
<rect x="234.00" y="279.20" width="47.90" height="10.40" fill="#d0d0d0" stroke="#707070" stroke-width="0.7"/>
<rect x="234.15" y="280.80" width="11.70" height="7.20" rx="3.15" fill="#080808" fill-opacity="0.17"/>
<rect x="235.35" y="281.90" width="9.30" height="5.00" rx="2.05" fill="#080808" fill-opacity="0.85"/>
<rect x="245.45" y="281.30" width="11.70" height="6.20" rx="2.79" fill="#080808" fill-opacity="0.14"/>
<rect x="246.65" y="282.40" width="9.30" height="4.00" rx="1.69" fill="#080808" fill-opacity="0.70"/>
<rect x="256.65" y="280.80" width="11.70" height="7.20" rx="3.15" fill="#080808" fill-opacity="0.09"/>
<rect x="257.85" y="281.90" width="9.30" height="5.00" rx="2.05" fill="#080808" fill-opacity="0.45"/>
<rect x="267.65" y="282.30" width="11.70" height="6.20" rx="2.79" fill="#080808" fill-opacity="0.11"/>
<rect x="268.85" y="283.40" width="9.30" height="4.00" rx="1.69" fill="#080808" fill-opacity="0.55"/>
<rect x="234.00" y="291.20" width="47.90" height="10.90" fill="#ececec" stroke="#707070" stroke-width="0.7"/>
<rect x="234.15" y="293.05" width="11.70" height="4.20" rx="2.07" fill="#080808" fill-opacity="0.05"/>
<rect x="235.35" y="294.15" width="9.30" height="2.00" rx="0.97" fill="#080808" fill-opacity="0.25"/>
<rect x="234.15" y="296.05" width="11.70" height="4.20" rx="2.07" fill="#080808" fill-opacity="0.05"/>
<rect x="235.35" y="297.15" width="9.30" height="2.00" rx="0.97" fill="#080808" fill-opacity="0.25"/>
<rect x="245.45" y="293.05" width="11.70" height="4.20" rx="2.07" fill="#080808" fill-opacity="0.05"/>
<rect x="246.65" y="294.15" width="9.30" height="2.00" rx="0.97" fill="#080808" fill-opacity="0.25"/>
<rect x="245.45" y="296.05" width="11.70" height="4.20" rx="2.07" fill="#080808" fill-opacity="0.05"/>
<rect x="246.65" y="297.15" width="9.30" height="2.00" rx="0.97" fill="#080808" fill-opacity="0.25"/>
<rect x="256.65" y="293.05" width="11.70" height="4.20" rx="2.07" fill="#080808" fill-opacity="0.02"/>
<rect x="257.85" y="294.15" width="9.30" height="2.00" rx="0.97" fill="#080808" fill-opacity="0.12"/>
<rect x="256.65" y="296.05" width="11.70" height="4.20" rx="2.07" fill="#080808" fill-opacity="0.02"/>
<rect x="257.85" y="297.15" width="9.30" height="2.00" rx="0.97" fill="#080808" fill-opacity="0.12"/>
<rect x="267.65" y="294.55" width="11.70" height="4.20" rx="2.07" fill="#080808" fill-opacity="0.01"/>
<rect x="268.85" y="295.65" width="9.30" height="2.00" rx="0.97" fill="#080808" fill-opacity="0.05"/>
<rect x="234.00" y="303.40" width="47.90" height="9.60" fill="#e8e8e8" stroke="#707070" stroke-width="0.7"/>
<rect x="233.80" y="304.85" width="12.40" height="6.70" rx="2.97" fill="#080808" fill-opacity="0.20"/>
<rect x="235.00" y="305.95" width="10.00" height="4.50" rx="1.87" fill="#080808" fill-opacity="1.00"/>
<rect x="245.10" y="304.95" width="12.40" height="6.50" rx="2.90" fill="#080808" fill-opacity="0.20"/>
<rect x="246.30" y="306.05" width="10.00" height="4.30" rx="1.80" fill="#080808" fill-opacity="1.00"/>
<rect x="256.30" y="304.80" width="12.40" height="6.80" rx="3.01" fill="#080808" fill-opacity="0.20"/>
<rect x="257.50" y="305.90" width="10.00" height="4.60" rx="1.91" fill="#080808" fill-opacity="1.00"/>
<rect x="267.30" y="304.90" width="12.40" height="6.60" rx="2.93" fill="#080808" fill-opacity="0.20"/>
<rect x="268.50" y="306.00" width="10.00" height="4.40" rx="1.83" fill="#080808" fill-opacity="1.00"/>
<rect x="234.00" y="314.70" width="47.90" height="9.80" fill="#e0e0e0" stroke="#707070" stroke-width="0.7"/>
<rect x="234.15" y="317.00" width="11.70" height="5.20" rx="2.43" fill="#080808" fill-opacity="0.10"/>
<rect x="235.35" y="318.10" width="9.30" height="3.00" rx="1.33" fill="#080808" fill-opacity="0.50"/>
<rect x="245.45" y="317.00" width="11.70" height="5.20" rx="2.43" fill="#080808" fill-opacity="0.07"/>
<rect x="246.65" y="318.10" width="9.30" height="3.00" rx="1.33" fill="#080808" fill-opacity="0.35"/>
<rect x="256.65" y="317.00" width="11.70" height="5.20" rx="2.43" fill="#080808" fill-opacity="0.07"/>
<rect x="257.85" y="318.10" width="9.30" height="3.00" rx="1.33" fill="#080808" fill-opacity="0.35"/>
<rect x="267.65" y="317.00" width="11.70" height="5.20" rx="2.43" fill="#080808" fill-opacity="0.07"/>
<rect x="268.85" y="318.10" width="9.30" height="3.00" rx="1.33" fill="#080808" fill-opacity="0.35"/>
<rect x="234.00" y="326.10" width="47.90" height="9.90" fill="#f0f0f0" stroke="#707070" stroke-width="0.7"/>
<rect x="234.15" y="328.45" width="11.70" height="5.20" rx="2.43" fill="#080808" fill-opacity="0.19"/>
<rect x="235.35" y="329.55" width="9.30" height="3.00" rx="1.33" fill="#080808" fill-opacity="0.95"/>
<rect x="245.45" y="328.35" width="11.70" height="5.40" rx="2.50" fill="#080808" fill-opacity="0.19"/>
<rect x="246.65" y="329.45" width="9.30" height="3.20" rx="1.40" fill="#080808" fill-opacity="0.95"/>
<rect x="256.65" y="328.45" width="11.70" height="5.20" rx="2.43" fill="#080808" fill-opacity="0.19"/>
<rect x="257.85" y="329.55" width="9.30" height="3.00" rx="1.33" fill="#080808" fill-opacity="0.95"/>
<rect x="268.15" y="328.70" width="10.70" height="4.70" rx="2.25" fill="#080808" fill-opacity="0.12"/>
<rect x="269.35" y="329.80" width="8.30" height="2.50" rx="1.15" fill="#080808" fill-opacity="0.60"/>
</g>
<text x="313.75" y="191.1" font-size="9.9" textLength="81.0" lengthAdjust="spacingAndGlyphs">SUIT2 (KRAS<tspan dy="-3.56" font-size="6.53">G12D</tspan><tspan dy="3.56">)</tspan></text>
<line x1="313.50" y1="192.10" x2="395.00" y2="192.10" stroke="#000" stroke-width="0.8"/>
<text x="296.3" y="206.4" font-size="6.0" textLength="45.0" lengthAdjust="spacingAndGlyphs">MRTX-1133 (hrs)</text>
<text x="355.2" y="206.4" font-size="6.0" text-anchor="middle">0</text>
<text x="369.4" y="206.4" font-size="6.0" text-anchor="middle">3</text>
<text x="382.6" y="206.4" font-size="6.0" text-anchor="middle">24</text>
<text x="396.1" y="206.4" font-size="6.0" text-anchor="middle">72</text>
<text x="296.25" y="219.1" font-size="6.6">pEGFR</text>
<text x="296.25" y="230.25" font-size="6.6">EGFR</text>
<text x="296.25" y="241.4" font-size="6.6">pHER2</text>
<text x="296.25" y="252.55" font-size="6.6">HER2</text>
<text x="296.25" y="263.7" font-size="6.6">pMEK 1/2</text>
<text x="296.25" y="274.85" font-size="6.6">MEK 1/2</text>
<text x="296.25" y="286.0" font-size="6.6">pERK 1/2</text>
<text x="296.25" y="297.15" font-size="6.6">ERK 1/2</text>
<text x="296.25" y="308.3" font-size="6.6">pAKT</text>
<text x="296.25" y="319.45" font-size="6.6">AKT</text>
<text x="296.25" y="330.6" font-size="6.6">GAPDH</text>
<g filter="url(#bl)">
<rect x="345.90" y="210.30" width="60.50" height="9.70" fill="#c9c9c9" stroke="#707070" stroke-width="0.7"/>
<rect x="350.85" y="212.55" width="10.70" height="5.20" rx="2.43" fill="#080808" fill-opacity="0.11"/>
<rect x="352.05" y="213.65" width="8.30" height="3.00" rx="1.33" fill="#080808" fill-opacity="0.55"/>
<rect x="364.40" y="212.30" width="11.20" height="5.70" rx="2.61" fill="#080808" fill-opacity="0.17"/>
<rect x="365.60" y="213.40" width="8.80" height="3.50" rx="1.51" fill="#080808" fill-opacity="0.85"/>
<rect x="378.70" y="212.55" width="11.20" height="5.20" rx="2.43" fill="#080808" fill-opacity="0.02"/>
<rect x="379.90" y="213.65" width="8.80" height="3.00" rx="1.33" fill="#080808" fill-opacity="0.10"/>
<rect x="392.40" y="212.55" width="11.20" height="5.20" rx="2.43" fill="#080808" fill-opacity="0.09"/>
<rect x="393.60" y="213.65" width="8.80" height="3.00" rx="1.33" fill="#080808" fill-opacity="0.45"/>
<rect x="345.90" y="221.20" width="60.50" height="10.70" fill="#f0f0f0" stroke="#707070" stroke-width="0.7"/>
<rect x="350.35" y="223.20" width="11.70" height="6.70" rx="2.97" fill="#080808" fill-opacity="0.20"/>
<rect x="351.55" y="224.30" width="9.30" height="4.50" rx="1.87" fill="#080808" fill-opacity="1.00"/>
<rect x="364.00" y="223.20" width="12.00" height="6.70" rx="2.97" fill="#080808" fill-opacity="0.20"/>
<rect x="365.20" y="224.30" width="9.60" height="4.50" rx="1.87" fill="#080808" fill-opacity="1.00"/>
<rect x="378.70" y="223.95" width="11.20" height="5.20" rx="2.43" fill="#080808" fill-opacity="0.06"/>
<rect x="379.90" y="225.05" width="8.80" height="3.00" rx="1.33" fill="#080808" fill-opacity="0.30"/>
<rect x="392.40" y="223.95" width="11.20" height="5.20" rx="2.43" fill="#080808" fill-opacity="0.06"/>
<rect x="393.60" y="225.05" width="8.80" height="3.00" rx="1.33" fill="#080808" fill-opacity="0.30"/>
<rect x="345.90" y="232.90" width="60.50" height="10.20" fill="#eaeaea" stroke="#707070" stroke-width="0.7"/>
<rect x="350.60" y="235.40" width="11.20" height="5.20" rx="2.43" fill="#080808" fill-opacity="0.07"/>
<rect x="351.80" y="236.50" width="8.80" height="3.00" rx="1.33" fill="#080808" fill-opacity="0.35"/>
<rect x="364.00" y="235.00" width="12.00" height="6.00" rx="2.72" fill="#080808" fill-opacity="0.19"/>
<rect x="365.20" y="236.10" width="9.60" height="3.80" rx="1.62" fill="#080808" fill-opacity="0.95"/>
<rect x="378.70" y="235.40" width="11.20" height="5.20" rx="2.43" fill="#080808" fill-opacity="0.05"/>
<rect x="379.90" y="236.50" width="8.80" height="3.00" rx="1.33" fill="#080808" fill-opacity="0.25"/>
<rect x="391.90" y="234.40" width="12.20" height="7.20" rx="3.15" fill="#080808" fill-opacity="0.20"/>
<rect x="393.10" y="235.50" width="9.80" height="5.00" rx="2.05" fill="#080808" fill-opacity="1.00"/>
<rect x="345.90" y="243.70" width="60.50" height="10.20" fill="#e6e6e6" stroke="#707070" stroke-width="0.7"/>
<rect x="349.85" y="244.70" width="12.70" height="8.20" rx="3.51" fill="#080808" fill-opacity="0.20"/>
<rect x="351.05" y="245.80" width="10.30" height="6.00" rx="2.41" fill="#080808" fill-opacity="1.00"/>
<rect x="363.65" y="244.95" width="12.70" height="7.70" rx="3.33" fill="#080808" fill-opacity="0.20"/>
<rect x="364.85" y="246.05" width="10.30" height="5.50" rx="2.23" fill="#080808" fill-opacity="1.00"/>
<rect x="377.95" y="244.20" width="12.70" height="9.20" rx="3.87" fill="#080808" fill-opacity="0.20"/>
<rect x="379.15" y="245.30" width="10.30" height="7.00" rx="2.77" fill="#080808" fill-opacity="1.00"/>
<rect x="391.65" y="244.95" width="12.70" height="7.70" rx="3.33" fill="#080808" fill-opacity="0.20"/>
<rect x="392.85" y="246.05" width="10.30" height="5.50" rx="2.23" fill="#080808" fill-opacity="1.00"/>
<rect x="345.90" y="255.10" width="60.50" height="9.50" fill="#eeeeee" stroke="#707070" stroke-width="0.7"/>
<rect x="349.60" y="256.35" width="13.20" height="7.00" rx="3.08" fill="#080808" fill-opacity="0.20"/>
<rect x="350.80" y="257.45" width="10.80" height="4.80" rx="1.98" fill="#080808" fill-opacity="1.00"/>
<rect x="364.40" y="257.50" width="11.20" height="4.70" rx="2.25" fill="#080808" fill-opacity="0.04"/>
<rect x="365.60" y="258.60" width="8.80" height="2.50" rx="1.15" fill="#080808" fill-opacity="0.20"/>
<rect x="378.70" y="257.50" width="11.20" height="4.70" rx="2.25" fill="#080808" fill-opacity="0.05"/>
<rect x="379.90" y="258.60" width="8.80" height="2.50" rx="1.15" fill="#080808" fill-opacity="0.25"/>
<rect x="392.40" y="257.50" width="11.20" height="4.70" rx="2.25" fill="#080808" fill-opacity="0.02"/>
<rect x="393.60" y="258.60" width="8.80" height="2.50" rx="1.15" fill="#080808" fill-opacity="0.08"/>
<rect x="345.90" y="265.60" width="60.50" height="11.00" fill="#d8d8d8" stroke="#707070" stroke-width="0.7"/>
<rect x="350.10" y="268.00" width="12.20" height="6.20" rx="2.79" fill="#080808" fill-opacity="0.10"/>
<rect x="351.30" y="269.10" width="9.80" height="4.00" rx="1.69" fill="#080808" fill-opacity="0.50"/>
<rect x="363.90" y="268.00" width="12.20" height="6.20" rx="2.79" fill="#080808" fill-opacity="0.09"/>
<rect x="365.10" y="269.10" width="9.80" height="4.00" rx="1.69" fill="#080808" fill-opacity="0.45"/>
<rect x="378.20" y="268.00" width="12.20" height="6.20" rx="2.79" fill="#080808" fill-opacity="0.09"/>
<rect x="379.40" y="269.10" width="9.80" height="4.00" rx="1.69" fill="#080808" fill-opacity="0.45"/>
<rect x="391.90" y="268.00" width="12.20" height="6.20" rx="2.79" fill="#080808" fill-opacity="0.10"/>
<rect x="393.10" y="269.10" width="9.80" height="4.00" rx="1.69" fill="#080808" fill-opacity="0.50"/>
<rect x="345.90" y="277.90" width="60.50" height="10.10" fill="#e4e4e4" stroke="#707070" stroke-width="0.7"/>
<rect x="349.10" y="279.10" width="14.20" height="7.70" rx="3.33" fill="#080808" fill-opacity="0.20"/>
<rect x="350.30" y="280.20" width="11.80" height="5.50" rx="2.23" fill="#080808" fill-opacity="1.00"/>
<rect x="363.15" y="279.55" width="13.70" height="6.80" rx="3.01" fill="#080808" fill-opacity="0.20"/>
<rect x="364.35" y="280.65" width="11.30" height="4.60" rx="1.91" fill="#080808" fill-opacity="1.00"/>
<rect x="377.45" y="279.55" width="13.70" height="6.80" rx="3.01" fill="#080808" fill-opacity="0.20"/>
<rect x="378.65" y="280.65" width="11.30" height="4.60" rx="1.91" fill="#080808" fill-opacity="1.00"/>
<rect x="391.15" y="279.75" width="13.70" height="6.40" rx="2.86" fill="#080808" fill-opacity="0.20"/>
<rect x="392.35" y="280.85" width="11.30" height="4.20" rx="1.76" fill="#080808" fill-opacity="1.00"/>
<rect x="345.90" y="289.30" width="60.50" height="10.80" fill="#e2e2e2" stroke="#707070" stroke-width="0.7"/>
<rect x="349.10" y="290.60" width="14.20" height="8.20" rx="3.51" fill="#080808" fill-opacity="0.20"/>
<rect x="350.30" y="291.70" width="11.80" height="6.00" rx="2.41" fill="#080808" fill-opacity="1.00"/>
<rect x="363.15" y="290.85" width="13.70" height="7.70" rx="3.33" fill="#080808" fill-opacity="0.20"/>
<rect x="364.35" y="291.95" width="11.30" height="5.50" rx="2.23" fill="#080808" fill-opacity="1.00"/>
<rect x="377.70" y="290.80" width="13.20" height="4.20" rx="2.07" fill="#080808" fill-opacity="0.15"/>
<rect x="378.90" y="291.90" width="10.80" height="2.00" rx="0.97" fill="#080808" fill-opacity="0.75"/>
<rect x="377.70" y="293.50" width="13.20" height="5.20" rx="2.43" fill="#080808" fill-opacity="0.19"/>
<rect x="378.90" y="294.60" width="10.80" height="3.00" rx="1.33" fill="#080808" fill-opacity="0.95"/>
<rect x="391.40" y="290.80" width="13.20" height="4.20" rx="2.07" fill="#080808" fill-opacity="0.12"/>
<rect x="392.60" y="291.90" width="10.80" height="2.00" rx="0.97" fill="#080808" fill-opacity="0.60"/>
<rect x="391.40" y="293.50" width="13.20" height="5.20" rx="2.43" fill="#080808" fill-opacity="0.18"/>
<rect x="392.60" y="294.60" width="10.80" height="3.00" rx="1.33" fill="#080808" fill-opacity="0.90"/>
<rect x="345.90" y="301.60" width="60.50" height="9.30" fill="#ececec" stroke="#707070" stroke-width="0.7"/>
<rect x="350.85" y="303.90" width="10.70" height="4.70" rx="2.25" fill="#080808" fill-opacity="0.15"/>
<rect x="352.05" y="305.00" width="8.30" height="2.50" rx="1.15" fill="#080808" fill-opacity="0.75"/>
<rect x="364.65" y="303.90" width="10.70" height="4.70" rx="2.25" fill="#080808" fill-opacity="0.05"/>
<rect x="365.85" y="305.00" width="8.30" height="2.50" rx="1.15" fill="#080808" fill-opacity="0.25"/>
<rect x="379.45" y="303.90" width="9.70" height="4.70" rx="2.25" fill="#080808" fill-opacity="0.16"/>
<rect x="380.65" y="305.00" width="7.30" height="2.50" rx="1.15" fill="#080808" fill-opacity="0.80"/>
<rect x="391.65" y="303.15" width="12.70" height="6.20" rx="2.79" fill="#080808" fill-opacity="0.20"/>
<rect x="392.85" y="304.25" width="10.30" height="4.00" rx="1.69" fill="#080808" fill-opacity="1.00"/>
<rect x="345.90" y="312.10" width="60.50" height="10.80" fill="#e0e0e0" stroke="#707070" stroke-width="0.7"/>
<rect x="349.10" y="313.65" width="14.20" height="7.70" rx="3.33" fill="#080808" fill-opacity="0.20"/>
<rect x="350.30" y="314.75" width="11.80" height="5.50" rx="2.23" fill="#080808" fill-opacity="1.00"/>
<rect x="362.90" y="313.65" width="14.20" height="7.70" rx="3.33" fill="#080808" fill-opacity="0.20"/>
<rect x="364.10" y="314.75" width="11.80" height="5.50" rx="2.23" fill="#080808" fill-opacity="1.00"/>
<rect x="377.20" y="313.65" width="14.20" height="7.70" rx="3.33" fill="#080808" fill-opacity="0.20"/>
<rect x="378.40" y="314.75" width="11.80" height="5.50" rx="2.23" fill="#080808" fill-opacity="1.00"/>
<rect x="390.90" y="313.65" width="14.20" height="7.70" rx="3.33" fill="#080808" fill-opacity="0.20"/>
<rect x="392.10" y="314.75" width="11.80" height="5.50" rx="2.23" fill="#080808" fill-opacity="1.00"/>
<rect x="345.90" y="324.80" width="60.50" height="10.20" fill="#e8e8e8" stroke="#707070" stroke-width="0.7"/>
<rect x="348.85" y="326.55" width="14.70" height="6.70" rx="2.97" fill="#080808" fill-opacity="0.20"/>
<rect x="350.05" y="327.65" width="12.30" height="4.50" rx="1.87" fill="#080808" fill-opacity="1.00"/>
<rect x="362.65" y="326.55" width="14.70" height="6.70" rx="2.97" fill="#080808" fill-opacity="0.20"/>
<rect x="363.85" y="327.65" width="12.30" height="4.50" rx="1.87" fill="#080808" fill-opacity="1.00"/>
<rect x="376.95" y="326.55" width="14.70" height="6.70" rx="2.97" fill="#080808" fill-opacity="0.20"/>
<rect x="378.15" y="327.65" width="12.30" height="4.50" rx="1.87" fill="#080808" fill-opacity="1.00"/>
<rect x="390.65" y="326.55" width="14.70" height="6.70" rx="2.97" fill="#080808" fill-opacity="0.20"/>
<rect x="391.85" y="327.65" width="12.30" height="4.50" rx="1.87" fill="#080808" fill-opacity="1.00"/>
</g>
<text x="174.0" y="359.4" font-size="12.6" font-weight="bold">H</text>
<text x="197.6" y="363.3" font-size="9.9" textLength="73.5" lengthAdjust="spacingAndGlyphs">mT3 (KRAS<tspan dy="-3.56" font-size="6.53">G12D</tspan><tspan dy="3.56">)</tspan></text>
<line x1="197.30" y1="364.90" x2="271.20" y2="364.90" stroke="#000" stroke-width="0.8"/>
<text x="182.9" y="379.9" font-size="5.9" textLength="44.4" lengthAdjust="spacingAndGlyphs">MRTX-1133 (hrs)</text>
<text x="240.2" y="379.9" font-size="5.8" text-anchor="middle">0</text>
<text x="252.9" y="379.9" font-size="5.8" text-anchor="middle">3</text>
<text x="265.0" y="379.9" font-size="5.8" text-anchor="middle">24</text>
<text x="278.5" y="379.9" font-size="5.8" text-anchor="middle">72</text>
<text x="182.9" y="392.65" font-size="6.6">pEGFR</text>
<text x="182.9" y="404.23" font-size="6.6">EGFR</text>
<text x="182.9" y="415.81" font-size="6.6">pHER2</text>
<text x="182.9" y="427.39" font-size="6.6">HER2</text>
<text x="182.9" y="438.97" font-size="6.6">pMEK 1/2</text>
<text x="182.9" y="450.55" font-size="6.6">MEK 1/2</text>
<text x="182.9" y="462.13" font-size="6.6">pERK 1/2</text>
<text x="182.9" y="473.71" font-size="6.6">ERK 1/2</text>
<text x="182.9" y="485.29" font-size="6.6">pAKT</text>
<text x="182.9" y="496.87" font-size="6.6">AKT</text>
<text x="182.9" y="508.45" font-size="6.6">COFILIN</text>
<g filter="url(#bl)">
<rect x="231.30" y="383.50" width="54.20" height="10.30" fill="#e8e8e8" stroke="#707070" stroke-width="0.7"/>
<rect x="233.40" y="388.75" width="13.20" height="3.80" rx="1.93" fill="#080808" fill-opacity="0.10"/>
<rect x="234.60" y="389.85" width="10.80" height="1.60" rx="0.83" fill="#080808" fill-opacity="0.50"/>
<rect x="246.40" y="388.75" width="13.20" height="3.80" rx="1.93" fill="#080808" fill-opacity="0.10"/>
<rect x="247.60" y="389.85" width="10.80" height="1.60" rx="0.83" fill="#080808" fill-opacity="0.50"/>
<rect x="259.10" y="388.75" width="13.20" height="3.80" rx="1.93" fill="#080808" fill-opacity="0.09"/>
<rect x="260.30" y="389.85" width="10.80" height="1.60" rx="0.83" fill="#080808" fill-opacity="0.45"/>
<rect x="271.80" y="388.65" width="13.20" height="4.00" rx="2.00" fill="#080808" fill-opacity="0.14"/>
<rect x="273.00" y="389.75" width="10.80" height="1.80" rx="0.90" fill="#080808" fill-opacity="0.70"/>
<rect x="231.30" y="395.00" width="54.20" height="11.00" fill="#e2e2e2" stroke="#707070" stroke-width="0.7"/>
<rect x="233.40" y="396.00" width="13.20" height="3.80" rx="1.93" fill="#080808" fill-opacity="0.11"/>
<rect x="234.60" y="397.10" width="10.80" height="1.60" rx="0.83" fill="#080808" fill-opacity="0.55"/>
<rect x="233.40" y="399.35" width="13.20" height="3.90" rx="1.96" fill="#080808" fill-opacity="0.14"/>
<rect x="234.60" y="400.45" width="10.80" height="1.70" rx="0.86" fill="#080808" fill-opacity="0.70"/>
<rect x="246.40" y="396.00" width="13.20" height="3.80" rx="1.93" fill="#080808" fill-opacity="0.11"/>
<rect x="247.60" y="397.10" width="10.80" height="1.60" rx="0.83" fill="#080808" fill-opacity="0.55"/>
<rect x="246.40" y="399.35" width="13.20" height="3.90" rx="1.96" fill="#080808" fill-opacity="0.14"/>
<rect x="247.60" y="400.45" width="10.80" height="1.70" rx="0.86" fill="#080808" fill-opacity="0.70"/>
<rect x="259.10" y="396.00" width="13.20" height="3.80" rx="1.93" fill="#080808" fill-opacity="0.09"/>
<rect x="260.30" y="397.10" width="10.80" height="1.60" rx="0.83" fill="#080808" fill-opacity="0.45"/>
<rect x="259.10" y="399.35" width="13.20" height="3.90" rx="1.96" fill="#080808" fill-opacity="0.13"/>
<rect x="260.30" y="400.45" width="10.80" height="1.70" rx="0.86" fill="#080808" fill-opacity="0.65"/>
<rect x="271.80" y="396.00" width="13.20" height="3.80" rx="1.93" fill="#080808" fill-opacity="0.12"/>
<rect x="273.00" y="397.10" width="10.80" height="1.60" rx="0.83" fill="#080808" fill-opacity="0.60"/>
<rect x="271.80" y="399.35" width="13.20" height="3.90" rx="1.96" fill="#080808" fill-opacity="0.14"/>
<rect x="273.00" y="400.45" width="10.80" height="1.70" rx="0.86" fill="#080808" fill-opacity="0.70"/>
<rect x="231.30" y="407.70" width="54.20" height="9.80" fill="#eaeaea" stroke="#707070" stroke-width="0.7"/>
<rect x="233.40" y="412.20" width="13.20" height="4.20" rx="2.07" fill="#080808" fill-opacity="0.16"/>
<rect x="234.60" y="413.30" width="10.80" height="2.00" rx="0.97" fill="#080808" fill-opacity="0.80"/>
<rect x="246.40" y="412.20" width="13.20" height="4.20" rx="2.07" fill="#080808" fill-opacity="0.17"/>
<rect x="247.60" y="413.30" width="10.80" height="2.00" rx="0.97" fill="#080808" fill-opacity="0.85"/>
<rect x="259.10" y="412.20" width="13.20" height="4.20" rx="2.07" fill="#080808" fill-opacity="0.17"/>
<rect x="260.30" y="413.30" width="10.80" height="2.00" rx="0.97" fill="#080808" fill-opacity="0.85"/>
<rect x="271.80" y="411.75" width="13.20" height="4.70" rx="2.25" fill="#080808" fill-opacity="0.19"/>
<rect x="273.00" y="412.85" width="10.80" height="2.50" rx="1.15" fill="#080808" fill-opacity="0.95"/>
<rect x="231.30" y="418.60" width="54.20" height="9.80" fill="#e6e6e6" stroke="#707070" stroke-width="0.7"/>
<rect x="233.40" y="421.90" width="13.20" height="4.20" rx="2.07" fill="#080808" fill-opacity="0.15"/>
<rect x="234.60" y="423.00" width="10.80" height="2.00" rx="0.97" fill="#080808" fill-opacity="0.75"/>
<rect x="246.40" y="421.90" width="13.20" height="4.20" rx="2.07" fill="#080808" fill-opacity="0.15"/>
<rect x="247.60" y="423.00" width="10.80" height="2.00" rx="0.97" fill="#080808" fill-opacity="0.75"/>
<rect x="259.10" y="421.90" width="13.20" height="4.20" rx="2.07" fill="#080808" fill-opacity="0.16"/>
<rect x="260.30" y="423.00" width="10.80" height="2.00" rx="0.97" fill="#080808" fill-opacity="0.80"/>
<rect x="271.80" y="421.90" width="13.20" height="4.20" rx="2.07" fill="#080808" fill-opacity="0.16"/>
<rect x="273.00" y="423.00" width="10.80" height="2.00" rx="0.97" fill="#080808" fill-opacity="0.80"/>
<rect x="231.30" y="430.70" width="54.20" height="9.90" fill="#e8e8e8" stroke="#707070" stroke-width="0.7"/>
<rect x="233.40" y="433.55" width="13.20" height="4.20" rx="2.07" fill="#080808" fill-opacity="0.03"/>
<rect x="234.60" y="434.65" width="10.80" height="2.00" rx="0.97" fill="#080808" fill-opacity="0.15"/>
<rect x="246.40" y="433.55" width="13.20" height="4.20" rx="2.07" fill="#080808" fill-opacity="0.03"/>
<rect x="247.60" y="434.65" width="10.80" height="2.00" rx="0.97" fill="#080808" fill-opacity="0.15"/>
<rect x="259.10" y="433.55" width="13.20" height="4.20" rx="2.07" fill="#080808" fill-opacity="0.04"/>
<rect x="260.30" y="434.65" width="10.80" height="2.00" rx="0.97" fill="#080808" fill-opacity="0.20"/>
<rect x="271.80" y="433.55" width="13.20" height="4.20" rx="2.07" fill="#080808" fill-opacity="0.04"/>
<rect x="273.00" y="434.65" width="10.80" height="2.00" rx="0.97" fill="#080808" fill-opacity="0.20"/>
<rect x="231.30" y="441.70" width="54.20" height="9.30" fill="#e4e4e4" stroke="#707070" stroke-width="0.7"/>
<rect x="233.40" y="443.75" width="13.20" height="4.20" rx="2.07" fill="#080808" fill-opacity="0.14"/>
<rect x="234.60" y="444.85" width="10.80" height="2.00" rx="0.97" fill="#080808" fill-opacity="0.70"/>
<rect x="246.40" y="443.75" width="13.20" height="4.20" rx="2.07" fill="#080808" fill-opacity="0.14"/>
<rect x="247.60" y="444.85" width="10.80" height="2.00" rx="0.97" fill="#080808" fill-opacity="0.70"/>
<rect x="259.10" y="443.75" width="13.20" height="4.20" rx="2.07" fill="#080808" fill-opacity="0.15"/>
<rect x="260.30" y="444.85" width="10.80" height="2.00" rx="0.97" fill="#080808" fill-opacity="0.75"/>
<rect x="271.80" y="443.75" width="13.20" height="4.20" rx="2.07" fill="#080808" fill-opacity="0.14"/>
<rect x="273.00" y="444.85" width="10.80" height="2.00" rx="0.97" fill="#080808" fill-opacity="0.72"/>
<rect x="231.30" y="452.10" width="54.20" height="11.50" fill="#ececec" stroke="#707070" stroke-width="0.7"/>
<rect x="233.40" y="453.65" width="13.20" height="3.80" rx="1.93" fill="#080808" fill-opacity="0.10"/>
<rect x="234.60" y="454.75" width="10.80" height="1.60" rx="0.83" fill="#080808" fill-opacity="0.50"/>
<rect x="233.40" y="458.90" width="13.20" height="3.70" rx="1.89" fill="#080808" fill-opacity="0.04"/>
<rect x="234.60" y="460.00" width="10.80" height="1.50" rx="0.79" fill="#080808" fill-opacity="0.20"/>
<rect x="246.40" y="453.65" width="13.20" height="3.80" rx="1.93" fill="#080808" fill-opacity="0.11"/>
<rect x="247.60" y="454.75" width="10.80" height="1.60" rx="0.83" fill="#080808" fill-opacity="0.55"/>
<rect x="246.40" y="458.90" width="13.20" height="3.70" rx="1.89" fill="#080808" fill-opacity="0.05"/>
<rect x="247.60" y="460.00" width="10.80" height="1.50" rx="0.79" fill="#080808" fill-opacity="0.25"/>
<rect x="259.10" y="453.65" width="13.20" height="3.80" rx="1.93" fill="#080808" fill-opacity="0.15"/>
<rect x="260.30" y="454.75" width="10.80" height="1.60" rx="0.83" fill="#080808" fill-opacity="0.75"/>
<rect x="259.10" y="458.90" width="13.20" height="3.70" rx="1.89" fill="#080808" fill-opacity="0.06"/>
<rect x="260.30" y="460.00" width="10.80" height="1.50" rx="0.79" fill="#080808" fill-opacity="0.30"/>
<rect x="271.80" y="453.65" width="13.20" height="3.80" rx="1.93" fill="#080808" fill-opacity="0.15"/>
<rect x="273.00" y="454.75" width="10.80" height="1.60" rx="0.83" fill="#080808" fill-opacity="0.75"/>
<rect x="271.80" y="458.90" width="13.20" height="3.70" rx="1.89" fill="#080808" fill-opacity="0.06"/>
<rect x="273.00" y="460.00" width="10.80" height="1.50" rx="0.79" fill="#080808" fill-opacity="0.30"/>
<rect x="231.30" y="464.80" width="54.20" height="12.10" fill="#e4e4e4" stroke="#707070" stroke-width="0.7"/>
<rect x="232.90" y="465.65" width="14.20" height="4.20" rx="2.07" fill="#080808" fill-opacity="0.17"/>
<rect x="234.10" y="466.75" width="11.80" height="2.00" rx="0.97" fill="#080808" fill-opacity="0.85"/>
<rect x="232.90" y="470.40" width="14.20" height="4.50" rx="2.18" fill="#080808" fill-opacity="0.19"/>
<rect x="234.10" y="471.50" width="11.80" height="2.30" rx="1.08" fill="#080808" fill-opacity="0.95"/>
<rect x="246.40" y="465.65" width="13.20" height="4.20" rx="2.07" fill="#080808" fill-opacity="0.17"/>
<rect x="247.60" y="466.75" width="10.80" height="2.00" rx="0.97" fill="#080808" fill-opacity="0.85"/>
<rect x="246.40" y="470.40" width="13.20" height="4.50" rx="2.18" fill="#080808" fill-opacity="0.19"/>
<rect x="247.60" y="471.50" width="10.80" height="2.30" rx="1.08" fill="#080808" fill-opacity="0.95"/>
<rect x="259.10" y="465.65" width="13.20" height="4.20" rx="2.07" fill="#080808" fill-opacity="0.17"/>
<rect x="260.30" y="466.75" width="10.80" height="2.00" rx="0.97" fill="#080808" fill-opacity="0.85"/>
<rect x="259.10" y="470.40" width="13.20" height="4.50" rx="2.18" fill="#080808" fill-opacity="0.19"/>
<rect x="260.30" y="471.50" width="10.80" height="2.30" rx="1.08" fill="#080808" fill-opacity="0.95"/>
<rect x="271.80" y="465.65" width="13.20" height="4.20" rx="2.07" fill="#080808" fill-opacity="0.17"/>
<rect x="273.00" y="466.75" width="10.80" height="2.00" rx="0.97" fill="#080808" fill-opacity="0.85"/>
<rect x="271.80" y="470.30" width="13.20" height="4.70" rx="2.25" fill="#080808" fill-opacity="0.19"/>
<rect x="273.00" y="471.40" width="10.80" height="2.50" rx="1.15" fill="#080808" fill-opacity="0.95"/>
<rect x="231.30" y="478.00" width="54.20" height="9.30" fill="#eaeaea" stroke="#707070" stroke-width="0.7"/>
<rect x="233.40" y="480.65" width="13.20" height="4.00" rx="2.00" fill="#080808" fill-opacity="0.06"/>
<rect x="234.60" y="481.75" width="10.80" height="1.80" rx="0.90" fill="#080808" fill-opacity="0.30"/>
<rect x="246.40" y="480.65" width="13.20" height="4.00" rx="2.00" fill="#080808" fill-opacity="0.07"/>
<rect x="247.60" y="481.75" width="10.80" height="1.80" rx="0.90" fill="#080808" fill-opacity="0.35"/>
<rect x="259.10" y="480.65" width="13.20" height="4.00" rx="2.00" fill="#080808" fill-opacity="0.06"/>
<rect x="260.30" y="481.75" width="10.80" height="1.80" rx="0.90" fill="#080808" fill-opacity="0.30"/>
<rect x="271.80" y="480.65" width="13.20" height="4.00" rx="2.00" fill="#080808" fill-opacity="0.06"/>
<rect x="273.00" y="481.75" width="10.80" height="1.80" rx="0.90" fill="#080808" fill-opacity="0.30"/>
<rect x="231.30" y="488.40" width="54.20" height="10.40" fill="#e6e6e6" stroke="#707070" stroke-width="0.7"/>
<rect x="233.40" y="492.00" width="13.20" height="4.40" rx="2.14" fill="#080808" fill-opacity="0.17"/>
<rect x="234.60" y="493.10" width="10.80" height="2.20" rx="1.04" fill="#080808" fill-opacity="0.85"/>
<rect x="246.40" y="492.00" width="13.20" height="4.40" rx="2.14" fill="#080808" fill-opacity="0.17"/>
<rect x="247.60" y="493.10" width="10.80" height="2.20" rx="1.04" fill="#080808" fill-opacity="0.85"/>
<rect x="259.10" y="492.00" width="13.20" height="4.40" rx="2.14" fill="#080808" fill-opacity="0.17"/>
<rect x="260.30" y="493.10" width="10.80" height="2.20" rx="1.04" fill="#080808" fill-opacity="0.85"/>
<rect x="271.80" y="492.00" width="13.20" height="4.40" rx="2.14" fill="#080808" fill-opacity="0.17"/>
<rect x="273.00" y="493.10" width="10.80" height="2.20" rx="1.04" fill="#080808" fill-opacity="0.85"/>
<rect x="231.30" y="500.00" width="54.20" height="10.40" fill="#ececec" stroke="#707070" stroke-width="0.7"/>
<rect x="233.15" y="502.70" width="13.70" height="5.00" rx="2.36" fill="#080808" fill-opacity="0.20"/>
<rect x="234.35" y="503.80" width="11.30" height="2.80" rx="1.26" fill="#080808" fill-opacity="1.00"/>
<rect x="246.15" y="502.70" width="13.70" height="5.00" rx="2.36" fill="#080808" fill-opacity="0.20"/>
<rect x="247.35" y="503.80" width="11.30" height="2.80" rx="1.26" fill="#080808" fill-opacity="1.00"/>
<rect x="259.10" y="502.80" width="13.20" height="4.80" rx="2.29" fill="#080808" fill-opacity="0.19"/>
<rect x="260.30" y="503.90" width="10.80" height="2.60" rx="1.19" fill="#080808" fill-opacity="0.95"/>
<rect x="271.80" y="502.80" width="13.20" height="4.80" rx="2.29" fill="#080808" fill-opacity="0.19"/>
<rect x="273.00" y="503.90" width="10.80" height="2.60" rx="1.19" fill="#080808" fill-opacity="0.95"/>
</g>
<text x="329.5" y="363.3" font-size="9.9" textLength="73.9" lengthAdjust="spacingAndGlyphs">mT9 (KRAS<tspan dy="-3.56" font-size="6.53">G12D</tspan><tspan dy="3.56">)</tspan></text>
<line x1="329.30" y1="364.90" x2="403.40" y2="364.90" stroke="#000" stroke-width="0.8"/>
<text x="301.2" y="380.0" font-size="5.9" textLength="43.8" lengthAdjust="spacingAndGlyphs">MRTX-1133 (hrs)</text>
<text x="358.3" y="380.0" font-size="5.8" text-anchor="middle">0</text>
<text x="371.4" y="380.0" font-size="5.8" text-anchor="middle">3</text>
<text x="383.7" y="380.0" font-size="5.8" text-anchor="middle">24</text>
<text x="396.4" y="380.0" font-size="5.8" text-anchor="middle">72</text>
<text x="299.7" y="392.85" font-size="6.6">pEGFR</text>
<text x="299.7" y="404.45" font-size="6.6">EGFR</text>
<text x="299.7" y="416.05" font-size="6.6">pHER2</text>
<text x="299.7" y="427.65" font-size="6.6">HER2</text>
<text x="299.7" y="439.25" font-size="6.6">pMEK 1/2</text>
<text x="299.7" y="450.85" font-size="6.6">MEK 1/2</text>
<text x="299.7" y="462.45" font-size="6.6">pERK 1/2</text>
<text x="299.7" y="474.05" font-size="6.6">ERK 1/2</text>
<text x="299.7" y="485.65" font-size="6.6">pAKT</text>
<text x="299.7" y="497.25" font-size="6.6">AKT</text>
<text x="299.7" y="508.85" font-size="6.6">COFILIN</text>
<g filter="url(#bl)">
<rect x="351.00" y="384.50" width="54.80" height="9.80" fill="#e6e6e6" stroke="#707070" stroke-width="0.7"/>
<rect x="351.50" y="386.90" width="13.20" height="4.00" rx="2.00" fill="#080808" fill-opacity="0.09"/>
<rect x="352.70" y="388.00" width="10.80" height="1.80" rx="0.90" fill="#080808" fill-opacity="0.45"/>
<rect x="364.00" y="386.90" width="13.20" height="4.00" rx="2.00" fill="#080808" fill-opacity="0.11"/>
<rect x="365.20" y="388.00" width="10.80" height="1.80" rx="0.90" fill="#080808" fill-opacity="0.55"/>
<rect x="376.90" y="387.10" width="13.20" height="4.00" rx="2.00" fill="#080808" fill-opacity="0.12"/>
<rect x="378.10" y="388.20" width="10.80" height="1.80" rx="0.90" fill="#080808" fill-opacity="0.60"/>
<rect x="389.70" y="388.00" width="13.20" height="4.00" rx="2.00" fill="#080808" fill-opacity="0.07"/>
<rect x="390.90" y="389.10" width="10.80" height="1.80" rx="0.90" fill="#080808" fill-opacity="0.35"/>
<rect x="351.00" y="396.10" width="54.80" height="9.50" fill="#e4e4e4" stroke="#707070" stroke-width="0.7"/>
<rect x="351.50" y="398.50" width="13.20" height="4.70" rx="2.25" fill="#080808" fill-opacity="0.10"/>
<rect x="352.70" y="399.60" width="10.80" height="2.50" rx="1.15" fill="#080808" fill-opacity="0.50"/>
<rect x="364.00" y="398.50" width="13.20" height="4.70" rx="2.25" fill="#080808" fill-opacity="0.08"/>
<rect x="365.20" y="399.60" width="10.80" height="2.50" rx="1.15" fill="#080808" fill-opacity="0.40"/>
<rect x="376.90" y="398.65" width="13.20" height="4.40" rx="2.14" fill="#080808" fill-opacity="0.06"/>
<rect x="378.10" y="399.75" width="10.80" height="2.20" rx="1.04" fill="#080808" fill-opacity="0.30"/>
<rect x="389.70" y="398.65" width="13.20" height="5.00" rx="2.36" fill="#080808" fill-opacity="0.16"/>
<rect x="390.90" y="399.75" width="10.80" height="2.80" rx="1.26" fill="#080808" fill-opacity="0.80"/>
<rect x="351.00" y="407.40" width="54.80" height="10.70" fill="#e8e8e8" stroke="#707070" stroke-width="0.7"/>
<rect x="351.50" y="412.65" width="13.20" height="4.20" rx="2.07" fill="#080808" fill-opacity="0.13"/>
<rect x="352.70" y="413.75" width="10.80" height="2.00" rx="0.97" fill="#080808" fill-opacity="0.65"/>
<rect x="364.00" y="412.65" width="13.20" height="4.20" rx="2.07" fill="#080808" fill-opacity="0.14"/>
<rect x="365.20" y="413.75" width="10.80" height="2.00" rx="0.97" fill="#080808" fill-opacity="0.70"/>
<rect x="376.90" y="412.65" width="13.20" height="4.20" rx="2.07" fill="#080808" fill-opacity="0.16"/>
<rect x="378.10" y="413.75" width="10.80" height="2.00" rx="0.97" fill="#080808" fill-opacity="0.80"/>
<rect x="389.70" y="412.95" width="13.20" height="4.00" rx="2.00" fill="#080808" fill-opacity="0.09"/>
<rect x="390.90" y="414.05" width="10.80" height="1.80" rx="0.90" fill="#080808" fill-opacity="0.45"/>
<rect x="351.00" y="419.90" width="54.80" height="9.60" fill="#e4e4e4" stroke="#707070" stroke-width="0.7"/>
<rect x="351.50" y="422.40" width="13.20" height="4.60" rx="2.21" fill="#080808" fill-opacity="0.17"/>
<rect x="352.70" y="423.50" width="10.80" height="2.40" rx="1.11" fill="#080808" fill-opacity="0.85"/>
<rect x="364.00" y="422.40" width="13.20" height="4.60" rx="2.21" fill="#080808" fill-opacity="0.17"/>
<rect x="365.20" y="423.50" width="10.80" height="2.40" rx="1.11" fill="#080808" fill-opacity="0.85"/>
<rect x="376.90" y="422.40" width="13.20" height="4.60" rx="2.21" fill="#080808" fill-opacity="0.17"/>
<rect x="378.10" y="423.50" width="10.80" height="2.40" rx="1.11" fill="#080808" fill-opacity="0.85"/>
<rect x="389.70" y="422.40" width="13.20" height="4.60" rx="2.21" fill="#080808" fill-opacity="0.16"/>
<rect x="390.90" y="423.50" width="10.80" height="2.40" rx="1.11" fill="#080808" fill-opacity="0.80"/>
<rect x="351.00" y="431.30" width="54.80" height="9.50" fill="#eaeaea" stroke="#707070" stroke-width="0.7"/>
<rect x="351.50" y="433.70" width="13.20" height="4.70" rx="2.25" fill="#080808" fill-opacity="0.04"/>
<rect x="352.70" y="434.80" width="10.80" height="2.50" rx="1.15" fill="#080808" fill-opacity="0.20"/>
<rect x="364.00" y="433.95" width="13.20" height="4.20" rx="2.07" fill="#080808" fill-opacity="0.01"/>
<rect x="365.20" y="435.05" width="10.80" height="2.00" rx="0.97" fill="#080808" fill-opacity="0.05"/>
<rect x="376.90" y="433.95" width="13.20" height="4.20" rx="2.07" fill="#080808" fill-opacity="0.01"/>
<rect x="378.10" y="435.05" width="10.80" height="2.00" rx="0.97" fill="#080808" fill-opacity="0.05"/>
<rect x="389.70" y="433.95" width="13.20" height="4.20" rx="2.07" fill="#080808" fill-opacity="0.01"/>
<rect x="390.90" y="435.05" width="10.80" height="2.00" rx="0.97" fill="#080808" fill-opacity="0.05"/>
<rect x="351.00" y="442.80" width="54.80" height="9.50" fill="#e2e2e2" stroke="#707070" stroke-width="0.7"/>
<rect x="351.50" y="444.60" width="13.20" height="4.70" rx="2.25" fill="#080808" fill-opacity="0.17"/>
<rect x="352.70" y="445.70" width="10.80" height="2.50" rx="1.15" fill="#080808" fill-opacity="0.85"/>
<rect x="364.00" y="444.60" width="13.20" height="4.70" rx="2.25" fill="#080808" fill-opacity="0.16"/>
<rect x="365.20" y="445.70" width="10.80" height="2.50" rx="1.15" fill="#080808" fill-opacity="0.80"/>
<rect x="376.90" y="444.60" width="13.20" height="4.70" rx="2.25" fill="#080808" fill-opacity="0.17"/>
<rect x="378.10" y="445.70" width="10.80" height="2.50" rx="1.15" fill="#080808" fill-opacity="0.85"/>
<rect x="389.70" y="444.25" width="13.20" height="5.00" rx="2.36" fill="#080808" fill-opacity="0.17"/>
<rect x="390.90" y="445.35" width="10.80" height="2.80" rx="1.26" fill="#080808" fill-opacity="0.85"/>
<rect x="351.00" y="453.50" width="54.80" height="11.30" fill="#ececec" stroke="#707070" stroke-width="0.7"/>
<rect x="351.50" y="454.35" width="13.20" height="4.20" rx="2.07" fill="#080808" fill-opacity="0.18"/>
<rect x="352.70" y="455.45" width="10.80" height="2.00" rx="0.97" fill="#080808" fill-opacity="0.90"/>
<rect x="351.50" y="459.05" width="13.20" height="4.20" rx="2.07" fill="#080808" fill-opacity="0.18"/>
<rect x="352.70" y="460.15" width="10.80" height="2.00" rx="0.97" fill="#080808" fill-opacity="0.90"/>
<rect x="364.00" y="454.55" width="13.20" height="3.80" rx="1.93" fill="#080808" fill-opacity="0.03"/>
<rect x="365.20" y="455.65" width="10.80" height="1.60" rx="0.83" fill="#080808" fill-opacity="0.15"/>
<rect x="364.00" y="459.25" width="13.20" height="3.80" rx="1.93" fill="#080808" fill-opacity="0.04"/>
<rect x="365.20" y="460.35" width="10.80" height="1.60" rx="0.83" fill="#080808" fill-opacity="0.20"/>
<rect x="376.90" y="454.55" width="13.20" height="3.80" rx="1.93" fill="#080808" fill-opacity="0.03"/>
<rect x="378.10" y="455.65" width="10.80" height="1.60" rx="0.83" fill="#080808" fill-opacity="0.15"/>
<rect x="376.90" y="459.25" width="13.20" height="3.80" rx="1.93" fill="#080808" fill-opacity="0.04"/>
<rect x="378.10" y="460.35" width="10.80" height="1.60" rx="0.83" fill="#080808" fill-opacity="0.20"/>
<rect x="389.70" y="454.35" width="13.20" height="4.20" rx="2.07" fill="#080808" fill-opacity="0.16"/>
<rect x="390.90" y="455.45" width="10.80" height="2.00" rx="0.97" fill="#080808" fill-opacity="0.80"/>
<rect x="389.70" y="459.05" width="13.20" height="4.20" rx="2.07" fill="#080808" fill-opacity="0.17"/>
<rect x="390.90" y="460.15" width="10.80" height="2.00" rx="0.97" fill="#080808" fill-opacity="0.85"/>
<rect x="351.00" y="466.00" width="54.80" height="10.70" fill="#e8e8e8" stroke="#707070" stroke-width="0.7"/>
<rect x="351.50" y="467.30" width="13.20" height="3.70" rx="1.89" fill="#080808" fill-opacity="0.09"/>
<rect x="352.70" y="468.40" width="10.80" height="1.50" rx="0.79" fill="#080808" fill-opacity="0.45"/>
<rect x="351.50" y="472.10" width="13.20" height="4.50" rx="2.18" fill="#080808" fill-opacity="0.19"/>
<rect x="352.70" y="473.20" width="10.80" height="2.30" rx="1.08" fill="#080808" fill-opacity="0.95"/>
<rect x="364.00" y="467.30" width="13.20" height="3.70" rx="1.89" fill="#080808" fill-opacity="0.09"/>
<rect x="365.20" y="468.40" width="10.80" height="1.50" rx="0.79" fill="#080808" fill-opacity="0.45"/>
<rect x="364.00" y="472.10" width="13.20" height="4.50" rx="2.18" fill="#080808" fill-opacity="0.19"/>
<rect x="365.20" y="473.20" width="10.80" height="2.30" rx="1.08" fill="#080808" fill-opacity="0.95"/>
<rect x="376.90" y="467.30" width="13.20" height="3.70" rx="1.89" fill="#080808" fill-opacity="0.09"/>
<rect x="378.10" y="468.40" width="10.80" height="1.50" rx="0.79" fill="#080808" fill-opacity="0.45"/>
<rect x="376.90" y="472.10" width="13.20" height="4.50" rx="2.18" fill="#080808" fill-opacity="0.19"/>
<rect x="378.10" y="473.20" width="10.80" height="2.30" rx="1.08" fill="#080808" fill-opacity="0.95"/>
<rect x="389.70" y="467.30" width="13.20" height="3.70" rx="1.89" fill="#080808" fill-opacity="0.09"/>
<rect x="390.90" y="468.40" width="10.80" height="1.50" rx="0.79" fill="#080808" fill-opacity="0.45"/>
<rect x="389.70" y="472.10" width="13.20" height="4.50" rx="2.18" fill="#080808" fill-opacity="0.19"/>
<rect x="390.90" y="473.20" width="10.80" height="2.30" rx="1.08" fill="#080808" fill-opacity="0.95"/>
<rect x="351.00" y="478.30" width="54.80" height="8.60" fill="#eaeaea" stroke="#707070" stroke-width="0.7"/>
<rect x="351.50" y="480.35" width="13.20" height="4.50" rx="2.18" fill="#080808" fill-opacity="0.16"/>
<rect x="352.70" y="481.45" width="10.80" height="2.30" rx="1.08" fill="#080808" fill-opacity="0.80"/>
<rect x="364.00" y="480.35" width="13.20" height="4.50" rx="2.18" fill="#080808" fill-opacity="0.12"/>
<rect x="365.20" y="481.45" width="10.80" height="2.30" rx="1.08" fill="#080808" fill-opacity="0.60"/>
<rect x="376.90" y="480.35" width="13.20" height="4.50" rx="2.18" fill="#080808" fill-opacity="0.12"/>
<rect x="378.10" y="481.45" width="10.80" height="2.30" rx="1.08" fill="#080808" fill-opacity="0.60"/>
<rect x="389.70" y="480.25" width="13.20" height="4.70" rx="2.25" fill="#080808" fill-opacity="0.18"/>
<rect x="390.90" y="481.35" width="10.80" height="2.50" rx="1.15" fill="#080808" fill-opacity="0.90"/>
<rect x="351.00" y="488.70" width="54.80" height="10.10" fill="#e6e6e6" stroke="#707070" stroke-width="0.7"/>
<rect x="351.50" y="492.20" width="13.20" height="4.70" rx="2.25" fill="#080808" fill-opacity="0.17"/>
<rect x="352.70" y="493.30" width="10.80" height="2.50" rx="1.15" fill="#080808" fill-opacity="0.85"/>
<rect x="364.00" y="492.20" width="13.20" height="4.70" rx="2.25" fill="#080808" fill-opacity="0.17"/>
<rect x="365.20" y="493.30" width="10.80" height="2.50" rx="1.15" fill="#080808" fill-opacity="0.85"/>
<rect x="376.90" y="492.20" width="13.20" height="4.70" rx="2.25" fill="#080808" fill-opacity="0.17"/>
<rect x="378.10" y="493.30" width="10.80" height="2.50" rx="1.15" fill="#080808" fill-opacity="0.85"/>
<rect x="389.70" y="492.15" width="13.20" height="4.80" rx="2.29" fill="#080808" fill-opacity="0.17"/>
<rect x="390.90" y="493.25" width="10.80" height="2.60" rx="1.19" fill="#080808" fill-opacity="0.85"/>
<rect x="351.00" y="500.20" width="54.80" height="9.90" fill="#ececec" stroke="#707070" stroke-width="0.7"/>
<rect x="351.25" y="502.55" width="13.70" height="5.20" rx="2.43" fill="#080808" fill-opacity="0.19"/>
<rect x="352.45" y="503.65" width="11.30" height="3.00" rx="1.33" fill="#080808" fill-opacity="0.95"/>
<rect x="363.75" y="502.55" width="13.70" height="5.20" rx="2.43" fill="#080808" fill-opacity="0.19"/>
<rect x="364.95" y="503.65" width="11.30" height="3.00" rx="1.33" fill="#080808" fill-opacity="0.95"/>
<rect x="376.65" y="502.55" width="13.70" height="5.20" rx="2.43" fill="#080808" fill-opacity="0.19"/>
<rect x="377.85" y="503.65" width="11.30" height="3.00" rx="1.33" fill="#080808" fill-opacity="0.95"/>
<rect x="389.45" y="502.55" width="13.70" height="5.20" rx="2.43" fill="#080808" fill-opacity="0.19"/>
<rect x="390.65" y="503.65" width="11.30" height="3.00" rx="1.33" fill="#080808" fill-opacity="0.95"/>
</g>
<text x="174.0" y="535.8" font-size="12.6" font-weight="bold">K</text>
<text x="202.6" y="543.8" font-size="9.9" textLength="90.8" lengthAdjust="spacingAndGlyphs">FC1242 (KRAS<tspan dy="-3.56" font-size="6.53">G12D</tspan><tspan dy="3.56">)</tspan></text>
<line x1="198.50" y1="545.00" x2="296.00" y2="545.00" stroke="#000" stroke-width="0.8"/>
<text x="183.2" y="556.0" font-size="5.9" textLength="43.8" lengthAdjust="spacingAndGlyphs">MRTX-1133 (hrs)</text>
<text x="239.7" y="556.0" font-size="5.8" text-anchor="middle">0</text>
<text x="251.5" y="556.0" font-size="5.8" text-anchor="middle">3</text>
<text x="263.6" y="556.0" font-size="5.8" text-anchor="middle">24</text>
<text x="276.9" y="556.0" font-size="5.8" text-anchor="middle">72</text>
<text x="182.9" y="567.55" font-size="6.6">pEGFR</text>
<text x="182.9" y="578.94" font-size="6.6">EGFR</text>
<text x="182.9" y="590.33" font-size="6.6">pHER2</text>
<text x="182.9" y="601.72" font-size="6.6">HER2</text>
<text x="182.9" y="613.11" font-size="6.6">pMEK 1/2</text>
<text x="182.9" y="624.5" font-size="6.6">MEK 1/2</text>
<text x="182.9" y="635.89" font-size="6.6">pERK 1/2</text>
<text x="182.9" y="647.28" font-size="6.6">ERK 1/2</text>
<text x="182.9" y="658.67" font-size="6.6">pAKT</text>
<text x="182.9" y="670.06" font-size="6.6">AKT</text>
<text x="182.9" y="681.45" font-size="6.6">GAPDH</text>
<g filter="url(#bl)">
<rect x="231.80" y="560.00" width="51.80" height="10.00" fill="#d6d6d6" stroke="#707070" stroke-width="0.7"/>
<rect x="234.00" y="562.40" width="11.20" height="5.20" rx="2.43" fill="#080808" fill-opacity="0.07"/>
<rect x="235.20" y="563.50" width="8.80" height="3.00" rx="1.33" fill="#080808" fill-opacity="0.35"/>
<rect x="245.70" y="562.40" width="11.20" height="5.20" rx="2.43" fill="#080808" fill-opacity="0.09"/>
<rect x="246.90" y="563.50" width="8.80" height="3.00" rx="1.33" fill="#080808" fill-opacity="0.45"/>
<rect x="258.20" y="562.40" width="11.20" height="5.20" rx="2.43" fill="#080808" fill-opacity="0.08"/>
<rect x="259.40" y="563.50" width="8.80" height="3.00" rx="1.33" fill="#080808" fill-opacity="0.42"/>
<rect x="270.80" y="562.65" width="11.20" height="4.70" rx="2.25" fill="#080808" fill-opacity="0.02"/>
<rect x="272.00" y="563.75" width="8.80" height="2.50" rx="1.15" fill="#080808" fill-opacity="0.08"/>
<rect x="231.80" y="570.60" width="51.80" height="12.30" fill="#a8a8a8" stroke="#707070" stroke-width="0.7"/>
<rect x="234.00" y="574.15" width="11.20" height="5.20" rx="2.43" fill="#080808" fill-opacity="0.02"/>
<rect x="235.20" y="575.25" width="8.80" height="3.00" rx="1.33" fill="#080808" fill-opacity="0.10"/>
<rect x="245.70" y="574.15" width="11.20" height="5.20" rx="2.43" fill="#080808" fill-opacity="0.02"/>
<rect x="246.90" y="575.25" width="8.80" height="3.00" rx="1.33" fill="#080808" fill-opacity="0.10"/>
<rect x="258.20" y="574.15" width="11.20" height="5.20" rx="2.43" fill="#080808" fill-opacity="0.02"/>
<rect x="259.40" y="575.25" width="8.80" height="3.00" rx="1.33" fill="#080808" fill-opacity="0.10"/>
<rect x="270.80" y="574.15" width="11.20" height="5.20" rx="2.43" fill="#080808" fill-opacity="0.03"/>
<rect x="272.00" y="575.25" width="8.80" height="3.00" rx="1.33" fill="#080808" fill-opacity="0.14"/>
<rect x="231.80" y="583.80" width="51.80" height="8.50" fill="#c4c4c4" stroke="#707070" stroke-width="0.7"/>
<rect x="234.00" y="585.45" width="11.20" height="5.20" rx="2.43" fill="#080808" fill-opacity="0.06"/>
<rect x="235.20" y="586.55" width="8.80" height="3.00" rx="1.33" fill="#080808" fill-opacity="0.30"/>
<rect x="245.45" y="585.20" width="11.70" height="5.70" rx="2.61" fill="#080808" fill-opacity="0.12"/>
<rect x="246.65" y="586.30" width="9.30" height="3.50" rx="1.51" fill="#080808" fill-opacity="0.62"/>
<rect x="257.95" y="585.20" width="11.70" height="5.70" rx="2.61" fill="#080808" fill-opacity="0.14"/>
<rect x="259.15" y="586.30" width="9.30" height="3.50" rx="1.51" fill="#080808" fill-opacity="0.68"/>
<rect x="270.80" y="585.45" width="11.20" height="5.20" rx="2.43" fill="#080808" fill-opacity="0.09"/>
<rect x="272.00" y="586.55" width="8.80" height="3.00" rx="1.33" fill="#080808" fill-opacity="0.45"/>
<rect x="231.80" y="593.50" width="51.80" height="10.00" fill="#eeeeee" stroke="#707070" stroke-width="0.7"/>
<rect x="233.50" y="595.65" width="12.20" height="5.70" rx="2.61" fill="#080808" fill-opacity="0.20"/>
<rect x="234.70" y="596.75" width="9.80" height="3.50" rx="1.51" fill="#080808" fill-opacity="1.00"/>
<rect x="245.70" y="595.90" width="11.20" height="5.20" rx="2.43" fill="#080808" fill-opacity="0.08"/>
<rect x="246.90" y="597.00" width="8.80" height="3.00" rx="1.33" fill="#080808" fill-opacity="0.40"/>
<rect x="257.60" y="594.90" width="12.40" height="7.20" rx="3.15" fill="#080808" fill-opacity="0.20"/>
<rect x="258.80" y="596.00" width="10.00" height="5.00" rx="2.05" fill="#080808" fill-opacity="1.00"/>
<rect x="270.30" y="595.65" width="12.20" height="5.70" rx="2.61" fill="#080808" fill-opacity="0.20"/>
<rect x="271.50" y="596.75" width="9.80" height="3.50" rx="1.51" fill="#080808" fill-opacity="1.00"/>
<rect x="231.80" y="604.60" width="51.80" height="11.20" fill="#f0f0f0" stroke="#707070" stroke-width="0.7"/>
<rect x="233.25" y="606.10" width="12.70" height="9.20" rx="3.87" fill="#080808" fill-opacity="0.20"/>
<rect x="234.45" y="607.20" width="10.30" height="7.00" rx="2.77" fill="#080808" fill-opacity="1.00"/>
<rect x="245.70" y="608.10" width="11.20" height="4.20" rx="2.07" fill="#080808" fill-opacity="0.01"/>
<rect x="246.90" y="609.20" width="8.80" height="2.00" rx="0.97" fill="#080808" fill-opacity="0.05"/>
<rect x="258.70" y="607.35" width="10.20" height="4.70" rx="2.25" fill="#080808" fill-opacity="0.09"/>
<rect x="259.90" y="608.45" width="7.80" height="2.50" rx="1.15" fill="#080808" fill-opacity="0.45"/>
<rect x="270.80" y="608.10" width="11.20" height="4.20" rx="2.07" fill="#080808" fill-opacity="0.01"/>
<rect x="272.00" y="609.20" width="8.80" height="2.00" rx="0.97" fill="#080808" fill-opacity="0.03"/>
<rect x="231.80" y="616.50" width="51.80" height="9.90" fill="#e8e8e8" stroke="#707070" stroke-width="0.7"/>
<rect x="233.25" y="617.35" width="12.70" height="8.20" rx="3.51" fill="#080808" fill-opacity="0.20"/>
<rect x="234.45" y="618.45" width="10.30" height="6.00" rx="2.41" fill="#080808" fill-opacity="1.00"/>
<rect x="245.45" y="618.60" width="11.70" height="5.70" rx="2.61" fill="#080808" fill-opacity="0.07"/>
<rect x="246.65" y="619.70" width="9.30" height="3.50" rx="1.51" fill="#080808" fill-opacity="0.35"/>
<rect x="257.30" y="616.85" width="13.00" height="9.20" rx="3.87" fill="#080808" fill-opacity="0.20"/>
<rect x="258.50" y="617.95" width="10.60" height="7.00" rx="2.77" fill="#080808" fill-opacity="1.00"/>
<rect x="270.40" y="618.60" width="12.00" height="5.70" rx="2.61" fill="#080808" fill-opacity="0.17"/>
<rect x="271.60" y="619.70" width="9.60" height="3.50" rx="1.51" fill="#080808" fill-opacity="0.85"/>
<rect x="231.80" y="628.40" width="51.80" height="10.60" fill="#e6e6e6" stroke="#707070" stroke-width="0.7"/>
<rect x="233.00" y="629.30" width="13.20" height="4.80" rx="2.29" fill="#080808" fill-opacity="0.20"/>
<rect x="234.20" y="630.40" width="10.80" height="2.60" rx="1.19" fill="#080808" fill-opacity="1.00"/>
<rect x="232.50" y="632.60" width="14.20" height="5.20" rx="2.43" fill="#080808" fill-opacity="0.20"/>
<rect x="233.70" y="633.70" width="11.80" height="3.00" rx="1.33" fill="#080808" fill-opacity="1.00"/>
<rect x="245.70" y="631.60" width="11.20" height="4.20" rx="2.07" fill="#080808" fill-opacity="0.01"/>
<rect x="246.90" y="632.70" width="8.80" height="2.00" rx="0.97" fill="#080808" fill-opacity="0.03"/>
<rect x="257.45" y="629.50" width="12.70" height="4.40" rx="2.14" fill="#080808" fill-opacity="0.19"/>
<rect x="258.65" y="630.60" width="10.30" height="2.20" rx="1.04" fill="#080808" fill-opacity="0.95"/>
<rect x="257.45" y="633.30" width="12.70" height="4.40" rx="2.14" fill="#080808" fill-opacity="0.19"/>
<rect x="258.65" y="634.40" width="10.30" height="2.20" rx="1.04" fill="#080808" fill-opacity="0.95"/>
<rect x="270.05" y="629.50" width="12.70" height="4.40" rx="2.14" fill="#080808" fill-opacity="0.17"/>
<rect x="271.25" y="630.60" width="10.30" height="2.20" rx="1.04" fill="#080808" fill-opacity="0.85"/>
<rect x="270.05" y="633.30" width="12.70" height="4.40" rx="2.14" fill="#080808" fill-opacity="0.17"/>
<rect x="271.25" y="634.40" width="10.30" height="2.20" rx="1.04" fill="#080808" fill-opacity="0.85"/>
<rect x="231.80" y="640.10" width="51.80" height="10.60" fill="#e0e0e0" stroke="#707070" stroke-width="0.7"/>
<rect x="233.25" y="641.50" width="12.70" height="4.20" rx="2.07" fill="#080808" fill-opacity="0.14"/>
<rect x="234.45" y="642.60" width="10.30" height="2.00" rx="0.97" fill="#080808" fill-opacity="0.70"/>
<rect x="233.25" y="644.85" width="12.70" height="4.70" rx="2.25" fill="#080808" fill-opacity="0.18"/>
<rect x="234.45" y="645.95" width="10.30" height="2.50" rx="1.15" fill="#080808" fill-opacity="0.90"/>
<rect x="244.95" y="641.50" width="12.70" height="4.20" rx="2.07" fill="#080808" fill-opacity="0.16"/>
<rect x="246.15" y="642.60" width="10.30" height="2.00" rx="0.97" fill="#080808" fill-opacity="0.80"/>
<rect x="244.95" y="644.85" width="12.70" height="4.70" rx="2.25" fill="#080808" fill-opacity="0.19"/>
<rect x="246.15" y="645.95" width="10.30" height="2.50" rx="1.15" fill="#080808" fill-opacity="0.95"/>
<rect x="257.45" y="641.50" width="12.70" height="4.20" rx="2.07" fill="#080808" fill-opacity="0.17"/>
<rect x="258.65" y="642.60" width="10.30" height="2.00" rx="0.97" fill="#080808" fill-opacity="0.85"/>
<rect x="257.45" y="644.85" width="12.70" height="4.70" rx="2.25" fill="#080808" fill-opacity="0.19"/>
<rect x="258.65" y="645.95" width="10.30" height="2.50" rx="1.15" fill="#080808" fill-opacity="0.95"/>
<rect x="270.05" y="641.50" width="12.70" height="4.20" rx="2.07" fill="#080808" fill-opacity="0.10"/>
<rect x="271.25" y="642.60" width="10.30" height="2.00" rx="0.97" fill="#080808" fill-opacity="0.50"/>
<rect x="270.05" y="644.85" width="12.70" height="4.70" rx="2.25" fill="#080808" fill-opacity="0.13"/>
<rect x="271.25" y="645.95" width="10.30" height="2.50" rx="1.15" fill="#080808" fill-opacity="0.65"/>
<rect x="231.80" y="651.80" width="51.80" height="10.00" fill="#eeeeee" stroke="#707070" stroke-width="0.7"/>
<rect x="233.25" y="653.70" width="12.70" height="6.20" rx="2.79" fill="#080808" fill-opacity="0.20"/>
<rect x="234.45" y="654.80" width="10.30" height="4.00" rx="1.69" fill="#080808" fill-opacity="1.00"/>
<rect x="245.45" y="654.20" width="11.70" height="5.20" rx="2.43" fill="#080808" fill-opacity="0.04"/>
<rect x="246.65" y="655.30" width="9.30" height="3.00" rx="1.33" fill="#080808" fill-opacity="0.20"/>
<rect x="257.45" y="653.90" width="12.70" height="5.80" rx="2.65" fill="#080808" fill-opacity="0.20"/>
<rect x="258.65" y="655.00" width="10.30" height="3.60" rx="1.55" fill="#080808" fill-opacity="1.00"/>
<rect x="269.80" y="653.70" width="13.20" height="6.20" rx="2.79" fill="#080808" fill-opacity="0.20"/>
<rect x="271.00" y="654.80" width="10.80" height="4.00" rx="1.69" fill="#080808" fill-opacity="1.00"/>
<rect x="231.80" y="662.40" width="51.80" height="9.50" fill="#dcdcdc" stroke="#707070" stroke-width="0.7"/>
<rect x="232.75" y="663.30" width="13.70" height="7.70" rx="3.33" fill="#080808" fill-opacity="0.20"/>
<rect x="233.95" y="664.40" width="11.30" height="5.50" rx="2.23" fill="#080808" fill-opacity="1.00"/>
<rect x="244.45" y="663.30" width="13.70" height="7.70" rx="3.33" fill="#080808" fill-opacity="0.20"/>
<rect x="245.65" y="664.40" width="11.30" height="5.50" rx="2.23" fill="#080808" fill-opacity="1.00"/>
<rect x="256.95" y="663.30" width="13.70" height="7.70" rx="3.33" fill="#080808" fill-opacity="0.20"/>
<rect x="258.15" y="664.40" width="11.30" height="5.50" rx="2.23" fill="#080808" fill-opacity="1.00"/>
<rect x="269.55" y="663.30" width="13.70" height="7.70" rx="3.33" fill="#080808" fill-opacity="0.20"/>
<rect x="270.75" y="664.40" width="11.30" height="5.50" rx="2.23" fill="#080808" fill-opacity="1.00"/>
<rect x="231.80" y="672.60" width="51.80" height="9.80" fill="#d8d8d8" stroke="#707070" stroke-width="0.7"/>
<rect x="232.75" y="673.90" width="13.70" height="7.20" rx="3.15" fill="#080808" fill-opacity="0.20"/>
<rect x="233.95" y="675.00" width="11.30" height="5.00" rx="2.05" fill="#080808" fill-opacity="1.00"/>
<rect x="244.45" y="673.90" width="13.70" height="7.20" rx="3.15" fill="#080808" fill-opacity="0.20"/>
<rect x="245.65" y="675.00" width="11.30" height="5.00" rx="2.05" fill="#080808" fill-opacity="1.00"/>
<rect x="256.95" y="673.90" width="13.70" height="7.20" rx="3.15" fill="#080808" fill-opacity="0.20"/>
<rect x="258.15" y="675.00" width="11.30" height="5.00" rx="2.05" fill="#080808" fill-opacity="1.00"/>
<rect x="269.55" y="673.90" width="13.70" height="7.20" rx="3.15" fill="#080808" fill-opacity="0.20"/>
<rect x="270.75" y="675.00" width="11.30" height="5.00" rx="2.05" fill="#080808" fill-opacity="1.00"/>
</g>
<text x="317.0" y="543.8" font-size="9.9" textLength="88.8" lengthAdjust="spacingAndGlyphs">FC1245 (KRAS<tspan dy="-3.56" font-size="6.53">G12D</tspan><tspan dy="3.56">)</tspan></text>
<line x1="315.00" y1="545.00" x2="407.50" y2="545.00" stroke="#000" stroke-width="0.8"/>
<text x="305.2" y="555.9" font-size="5.9" textLength="43.8" lengthAdjust="spacingAndGlyphs">MRTX-1133 (hrs)</text>
<text x="361.3" y="555.9" font-size="5.8" text-anchor="middle">0</text>
<text x="374.0" y="555.9" font-size="5.8" text-anchor="middle">3</text>
<text x="386.7" y="555.9" font-size="5.8" text-anchor="middle">24</text>
<text x="399.0" y="555.9" font-size="5.8" text-anchor="middle">72</text>
<text x="304.9" y="567.15" font-size="6.6">pEGFR</text>
<text x="304.9" y="578.58" font-size="6.6">EGFR</text>
<text x="304.9" y="590.01" font-size="6.6">pHER2</text>
<text x="304.9" y="601.44" font-size="6.6">HER2</text>
<text x="304.9" y="612.87" font-size="6.6">pMEK 1/2</text>
<text x="304.9" y="624.3" font-size="6.6">MEK 1/2</text>
<text x="304.9" y="635.73" font-size="6.6">pERK 1/2</text>
<text x="304.9" y="647.16" font-size="6.6">ERK 1/2</text>
<text x="304.9" y="658.59" font-size="6.6">pAKT</text>
<text x="304.9" y="670.02" font-size="6.6">AKT</text>
<text x="304.9" y="681.45" font-size="6.6">GAPDH</text>
<g filter="url(#bl)">
<rect x="354.10" y="560.00" width="51.50" height="10.60" fill="#d4d4d4" stroke="#707070" stroke-width="0.7"/>
<rect x="356.25" y="562.70" width="11.70" height="5.20" rx="2.43" fill="#080808" fill-opacity="0.06"/>
<rect x="357.45" y="563.80" width="9.30" height="3.00" rx="1.33" fill="#080808" fill-opacity="0.30"/>
<rect x="368.55" y="562.70" width="11.70" height="5.20" rx="2.43" fill="#080808" fill-opacity="0.09"/>
<rect x="369.75" y="563.80" width="9.30" height="3.00" rx="1.33" fill="#080808" fill-opacity="0.45"/>
<rect x="380.70" y="561.95" width="12.40" height="6.70" rx="2.97" fill="#080808" fill-opacity="0.20"/>
<rect x="381.90" y="563.05" width="10.00" height="4.50" rx="1.87" fill="#080808" fill-opacity="1.00"/>
<rect x="392.70" y="562.20" width="12.40" height="6.20" rx="2.79" fill="#080808" fill-opacity="0.19"/>
<rect x="393.90" y="563.30" width="10.00" height="4.00" rx="1.69" fill="#080808" fill-opacity="0.95"/>
<rect x="354.10" y="571.70" width="51.50" height="10.60" fill="#c4c4c4" stroke="#707070" stroke-width="0.7"/>
<rect x="356.50" y="574.65" width="11.20" height="4.70" rx="2.25" fill="#080808" fill-opacity="0.01"/>
<rect x="357.70" y="575.75" width="8.80" height="2.50" rx="1.15" fill="#080808" fill-opacity="0.05"/>
<rect x="368.80" y="574.65" width="11.20" height="4.70" rx="2.25" fill="#080808" fill-opacity="0.01"/>
<rect x="370.00" y="575.75" width="8.80" height="2.50" rx="1.15" fill="#080808" fill-opacity="0.05"/>
<rect x="381.30" y="574.65" width="11.20" height="4.70" rx="2.25" fill="#080808" fill-opacity="0.02"/>
<rect x="382.50" y="575.75" width="8.80" height="2.50" rx="1.15" fill="#080808" fill-opacity="0.08"/>
<rect x="393.05" y="573.65" width="11.70" height="4.70" rx="2.25" fill="#080808" fill-opacity="0.09"/>
<rect x="394.25" y="574.75" width="9.30" height="2.50" rx="1.15" fill="#080808" fill-opacity="0.45"/>
<rect x="354.10" y="583.40" width="51.50" height="8.90" fill="#bababa" stroke="#707070" stroke-width="0.7"/>
<rect x="356.25" y="585.00" width="11.70" height="5.70" rx="2.61" fill="#080808" fill-opacity="0.10"/>
<rect x="357.45" y="586.10" width="9.30" height="3.50" rx="1.51" fill="#080808" fill-opacity="0.50"/>
<rect x="368.55" y="585.00" width="11.70" height="5.70" rx="2.61" fill="#080808" fill-opacity="0.10"/>
<rect x="369.75" y="586.10" width="9.30" height="3.50" rx="1.51" fill="#080808" fill-opacity="0.50"/>
<rect x="380.70" y="584.25" width="12.40" height="7.20" rx="3.15" fill="#080808" fill-opacity="0.20"/>
<rect x="381.90" y="585.35" width="10.00" height="5.00" rx="2.05" fill="#080808" fill-opacity="1.00"/>
<rect x="392.55" y="583.75" width="12.70" height="8.20" rx="3.51" fill="#080808" fill-opacity="0.20"/>
<rect x="393.75" y="584.85" width="10.30" height="6.00" rx="2.41" fill="#080808" fill-opacity="1.00"/>
<rect x="354.10" y="593.50" width="51.50" height="10.00" fill="#eeeeee" stroke="#707070" stroke-width="0.7"/>
<rect x="355.75" y="595.15" width="12.70" height="6.70" rx="2.97" fill="#080808" fill-opacity="0.20"/>
<rect x="356.95" y="596.25" width="10.30" height="4.50" rx="1.87" fill="#080808" fill-opacity="1.00"/>
<rect x="368.05" y="595.15" width="12.70" height="6.70" rx="2.97" fill="#080808" fill-opacity="0.20"/>
<rect x="369.25" y="596.25" width="10.30" height="4.50" rx="1.87" fill="#080808" fill-opacity="1.00"/>
<rect x="380.30" y="594.40" width="13.20" height="8.20" rx="3.51" fill="#080808" fill-opacity="0.20"/>
<rect x="381.50" y="595.50" width="10.80" height="6.00" rx="2.41" fill="#080808" fill-opacity="1.00"/>
<rect x="392.30" y="594.65" width="13.20" height="7.70" rx="3.33" fill="#080808" fill-opacity="0.20"/>
<rect x="393.50" y="595.75" width="10.80" height="5.50" rx="2.23" fill="#080808" fill-opacity="1.00"/>
<rect x="354.10" y="604.60" width="51.50" height="10.60" fill="#f4f4f4" stroke="#707070" stroke-width="0.7"/>
<rect x="356.25" y="607.30" width="11.70" height="5.20" rx="2.43" fill="#080808" fill-opacity="0.05"/>
<rect x="357.45" y="608.40" width="9.30" height="3.00" rx="1.33" fill="#080808" fill-opacity="0.25"/>
<rect x="368.55" y="607.30" width="11.70" height="5.20" rx="2.43" fill="#080808" fill-opacity="0.04"/>
<rect x="369.75" y="608.40" width="9.30" height="3.00" rx="1.33" fill="#080808" fill-opacity="0.20"/>
<rect x="380.80" y="607.05" width="12.20" height="5.70" rx="2.61" fill="#080808" fill-opacity="0.08"/>
<rect x="382.00" y="608.15" width="9.80" height="3.50" rx="1.51" fill="#080808" fill-opacity="0.40"/>
<rect x="393.05" y="607.30" width="11.70" height="5.20" rx="2.43" fill="#080808" fill-opacity="0.02"/>
<rect x="394.25" y="608.40" width="9.30" height="3.00" rx="1.33" fill="#080808" fill-opacity="0.10"/>
<rect x="354.10" y="615.80" width="51.50" height="11.50" fill="#e8e8e8" stroke="#707070" stroke-width="0.7"/>
<rect x="355.50" y="616.20" width="13.20" height="10.70" rx="4.41" fill="#080808" fill-opacity="0.20"/>
<rect x="356.70" y="617.30" width="10.80" height="8.50" rx="3.31" fill="#080808" fill-opacity="1.00"/>
<rect x="369.55" y="617.95" width="9.70" height="7.20" rx="3.15" fill="#080808" fill-opacity="0.20"/>
<rect x="370.75" y="619.05" width="7.30" height="5.00" rx="2.05" fill="#080808" fill-opacity="1.00"/>
<rect x="380.55" y="616.45" width="12.70" height="10.20" rx="4.23" fill="#080808" fill-opacity="0.20"/>
<rect x="381.75" y="617.55" width="10.30" height="8.00" rx="3.13" fill="#080808" fill-opacity="1.00"/>
<rect x="392.30" y="616.45" width="13.20" height="10.20" rx="4.23" fill="#080808" fill-opacity="0.20"/>
<rect x="393.50" y="617.55" width="10.80" height="8.00" rx="3.13" fill="#080808" fill-opacity="1.00"/>
<rect x="354.10" y="628.40" width="51.50" height="10.60" fill="#e8e8e8" stroke="#707070" stroke-width="0.7"/>
<rect x="356.00" y="629.80" width="12.20" height="4.20" rx="2.07" fill="#080808" fill-opacity="0.18"/>
<rect x="357.20" y="630.90" width="9.80" height="2.00" rx="0.97" fill="#080808" fill-opacity="0.90"/>
<rect x="356.00" y="633.40" width="12.20" height="4.20" rx="2.07" fill="#080808" fill-opacity="0.19"/>
<rect x="357.20" y="634.50" width="9.80" height="2.00" rx="0.97" fill="#080808" fill-opacity="0.95"/>
<rect x="368.80" y="631.60" width="11.20" height="4.20" rx="2.07" fill="#080808" fill-opacity="0.01"/>
<rect x="370.00" y="632.70" width="8.80" height="2.00" rx="0.97" fill="#080808" fill-opacity="0.03"/>
<rect x="380.80" y="629.80" width="12.20" height="4.20" rx="2.07" fill="#080808" fill-opacity="0.17"/>
<rect x="382.00" y="630.90" width="9.80" height="2.00" rx="0.97" fill="#080808" fill-opacity="0.85"/>
<rect x="380.80" y="633.40" width="12.20" height="4.20" rx="2.07" fill="#080808" fill-opacity="0.18"/>
<rect x="382.00" y="634.50" width="9.80" height="2.00" rx="0.97" fill="#080808" fill-opacity="0.90"/>
<rect x="392.80" y="629.80" width="12.20" height="4.20" rx="2.07" fill="#080808" fill-opacity="0.14"/>
<rect x="394.00" y="630.90" width="9.80" height="2.00" rx="0.97" fill="#080808" fill-opacity="0.70"/>
<rect x="392.80" y="633.40" width="12.20" height="4.20" rx="2.07" fill="#080808" fill-opacity="0.16"/>
<rect x="394.00" y="634.50" width="9.80" height="2.00" rx="0.97" fill="#080808" fill-opacity="0.80"/>
<rect x="354.10" y="640.10" width="51.50" height="11.10" fill="#eaeaea" stroke="#707070" stroke-width="0.7"/>
<rect x="356.50" y="643.55" width="11.20" height="4.20" rx="2.07" fill="#080808" fill-opacity="0.01"/>
<rect x="357.70" y="644.65" width="8.80" height="2.00" rx="0.97" fill="#080808" fill-opacity="0.03"/>
<rect x="368.30" y="643.05" width="12.20" height="5.20" rx="2.43" fill="#080808" fill-opacity="0.03"/>
<rect x="369.50" y="644.15" width="9.80" height="3.00" rx="1.33" fill="#080808" fill-opacity="0.15"/>
<rect x="380.30" y="641.60" width="13.20" height="4.50" rx="2.18" fill="#080808" fill-opacity="0.17"/>
<rect x="381.50" y="642.70" width="10.80" height="2.30" rx="1.08" fill="#080808" fill-opacity="0.85"/>
<rect x="380.30" y="645.10" width="13.20" height="4.70" rx="2.25" fill="#080808" fill-opacity="0.18"/>
<rect x="381.50" y="646.20" width="10.80" height="2.50" rx="1.15" fill="#080808" fill-opacity="0.90"/>
<rect x="392.05" y="641.45" width="13.70" height="4.80" rx="2.29" fill="#080808" fill-opacity="0.20"/>
<rect x="393.25" y="642.55" width="11.30" height="2.60" rx="1.19" fill="#080808" fill-opacity="1.00"/>
<rect x="392.05" y="644.85" width="13.70" height="5.20" rx="2.43" fill="#080808" fill-opacity="0.20"/>
<rect x="393.25" y="645.95" width="11.30" height="3.00" rx="1.33" fill="#080808" fill-opacity="1.00"/>
<rect x="354.10" y="651.80" width="51.50" height="10.00" fill="#eeeeee" stroke="#707070" stroke-width="0.7"/>
<rect x="355.50" y="653.20" width="13.20" height="7.20" rx="3.15" fill="#080808" fill-opacity="0.20"/>
<rect x="356.70" y="654.30" width="10.80" height="5.00" rx="2.05" fill="#080808" fill-opacity="1.00"/>
<rect x="368.55" y="654.20" width="11.70" height="5.20" rx="2.43" fill="#080808" fill-opacity="0.06"/>
<rect x="369.75" y="655.30" width="9.30" height="3.00" rx="1.33" fill="#080808" fill-opacity="0.30"/>
<rect x="380.30" y="653.20" width="13.20" height="7.20" rx="3.15" fill="#080808" fill-opacity="0.20"/>
<rect x="381.50" y="654.30" width="10.80" height="5.00" rx="2.05" fill="#080808" fill-opacity="1.00"/>
<rect x="393.05" y="654.45" width="11.70" height="4.70" rx="2.25" fill="#080808" fill-opacity="0.09"/>
<rect x="394.25" y="655.55" width="9.30" height="2.50" rx="1.15" fill="#080808" fill-opacity="0.45"/>
<rect x="354.10" y="663.00" width="51.50" height="8.90" fill="#e0e0e0" stroke="#707070" stroke-width="0.7"/>
<rect x="355.75" y="664.35" width="12.70" height="6.20" rx="2.79" fill="#080808" fill-opacity="0.17"/>
<rect x="356.95" y="665.45" width="10.30" height="4.00" rx="1.69" fill="#080808" fill-opacity="0.85"/>
<rect x="368.05" y="664.60" width="12.70" height="5.70" rx="2.61" fill="#080808" fill-opacity="0.14"/>
<rect x="369.25" y="665.70" width="10.30" height="3.50" rx="1.51" fill="#080808" fill-opacity="0.70"/>
<rect x="380.55" y="664.35" width="12.70" height="6.20" rx="2.79" fill="#080808" fill-opacity="0.16"/>
<rect x="381.75" y="665.45" width="10.30" height="4.00" rx="1.69" fill="#080808" fill-opacity="0.80"/>
<rect x="392.55" y="664.35" width="12.70" height="6.20" rx="2.79" fill="#080808" fill-opacity="0.16"/>
<rect x="393.75" y="665.45" width="10.30" height="4.00" rx="1.69" fill="#080808" fill-opacity="0.80"/>
<rect x="354.10" y="673.00" width="51.50" height="10.00" fill="#d8d8d8" stroke="#707070" stroke-width="0.7"/>
<rect x="355.50" y="673.90" width="13.20" height="5.20" rx="2.43" fill="#080808" fill-opacity="0.20"/>
<rect x="356.70" y="675.00" width="10.80" height="3.00" rx="1.33" fill="#080808" fill-opacity="1.00"/>
<rect x="355.50" y="676.90" width="13.20" height="5.20" rx="2.43" fill="#080808" fill-opacity="0.18"/>
<rect x="356.70" y="678.00" width="10.80" height="3.00" rx="1.33" fill="#080808" fill-opacity="0.90"/>
<rect x="367.80" y="673.90" width="13.20" height="5.20" rx="2.43" fill="#080808" fill-opacity="0.20"/>
<rect x="369.00" y="675.00" width="10.80" height="3.00" rx="1.33" fill="#080808" fill-opacity="1.00"/>
<rect x="367.80" y="676.90" width="13.20" height="5.20" rx="2.43" fill="#080808" fill-opacity="0.18"/>
<rect x="369.00" y="678.00" width="10.80" height="3.00" rx="1.33" fill="#080808" fill-opacity="0.90"/>
<rect x="380.30" y="673.90" width="13.20" height="5.20" rx="2.43" fill="#080808" fill-opacity="0.20"/>
<rect x="381.50" y="675.00" width="10.80" height="3.00" rx="1.33" fill="#080808" fill-opacity="1.00"/>
<rect x="380.30" y="676.90" width="13.20" height="5.20" rx="2.43" fill="#080808" fill-opacity="0.18"/>
<rect x="381.50" y="678.00" width="10.80" height="3.00" rx="1.33" fill="#080808" fill-opacity="0.90"/>
<rect x="392.30" y="673.90" width="13.20" height="5.20" rx="2.43" fill="#080808" fill-opacity="0.20"/>
<rect x="393.50" y="675.00" width="10.80" height="3.00" rx="1.33" fill="#080808" fill-opacity="1.00"/>
<rect x="392.30" y="676.90" width="13.20" height="5.20" rx="2.43" fill="#080808" fill-opacity="0.18"/>
<rect x="393.50" y="678.00" width="10.80" height="3.00" rx="1.33" fill="#080808" fill-opacity="0.90"/>
</g>
<text x="417.5" y="9.8" font-size="12.6" font-weight="bold">C</text>
<g class="ns">
<text x="436.3" y="17.0" font-size="6.6" font-weight="bold" textLength="81.5" lengthAdjust="spacingAndGlyphs" style="stroke:#000;stroke-width:0.1px">pEGFR/EGFR/GAPDH (<tspan font-style="italic">n</tspan> = 3)</text>
<line x1="438.80" y1="22.70" x2="438.80" y2="73.00" stroke="#222" stroke-width="0.7"/>
<line x1="438.80" y1="72.60" x2="515.50" y2="72.60" stroke="#222" stroke-width="0.7"/>
<line x1="437.40" y1="72.60" x2="438.80" y2="72.60" stroke="#222" stroke-width="0.6"/>
<text x="437.0" y="73.9" font-size="3.8" font-weight="bold" text-anchor="end" fill="#222" style="stroke:#222;stroke-width:0.12px">0.00</text>
<line x1="437.40" y1="62.68" x2="438.80" y2="62.68" stroke="#222" stroke-width="0.6"/>
<text x="437.0" y="63.98" font-size="3.8" font-weight="bold" text-anchor="end" fill="#222" style="stroke:#222;stroke-width:0.12px">0.05</text>
<line x1="437.40" y1="52.76" x2="438.80" y2="52.76" stroke="#222" stroke-width="0.6"/>
<text x="437.0" y="54.06" font-size="3.8" font-weight="bold" text-anchor="end" fill="#222" style="stroke:#222;stroke-width:0.12px">0.10</text>
<line x1="437.40" y1="42.84" x2="438.80" y2="42.84" stroke="#222" stroke-width="0.6"/>
<text x="437.0" y="44.14" font-size="3.8" font-weight="bold" text-anchor="end" fill="#222" style="stroke:#222;stroke-width:0.12px">0.15</text>
<line x1="437.40" y1="32.92" x2="438.80" y2="32.92" stroke="#222" stroke-width="0.6"/>
<text x="437.0" y="34.22" font-size="3.8" font-weight="bold" text-anchor="end" fill="#222" style="stroke:#222;stroke-width:0.12px">0.20</text>
<line x1="437.40" y1="23.00" x2="438.80" y2="23.00" stroke="#222" stroke-width="0.6"/>
<text x="437.0" y="24.3" font-size="3.8" font-weight="bold" text-anchor="end" fill="#222" style="stroke:#222;stroke-width:0.12px">0.25</text>
<line x1="447.20" y1="72.60" x2="447.20" y2="73.80" stroke="#222" stroke-width="0.5"/>
<line x1="466.80" y1="72.60" x2="466.80" y2="73.80" stroke="#222" stroke-width="0.5"/>
<line x1="486.30" y1="72.60" x2="486.30" y2="73.80" stroke="#222" stroke-width="0.5"/>
<line x1="505.80" y1="72.60" x2="505.80" y2="73.80" stroke="#222" stroke-width="0.5"/>
<text x="446.7" y="79.2" font-size="3.8" font-weight="bold" text-anchor="middle" fill="#222" style="stroke:#222;stroke-width:0.15px">0 hr</text>
<text x="466.3" y="79.2" font-size="3.8" font-weight="bold" text-anchor="middle" fill="#222" style="stroke:#222;stroke-width:0.15px">3 hr</text>
<text x="485.8" y="79.2" font-size="3.8" font-weight="bold" text-anchor="middle" fill="#222" style="stroke:#222;stroke-width:0.15px">24 hr</text>
<text x="505.3" y="79.2" font-size="3.8" font-weight="bold" text-anchor="middle" fill="#222" style="stroke:#222;stroke-width:0.15px">72 hr</text>
<text x="0" y="0" font-size="4.0" font-weight="bold" text-anchor="middle" fill="#222" transform="translate(427.2,47.80) rotate(-90)">Ratio</text>
<line x1="443.80" y1="57.92" x2="443.80" y2="58.71" stroke="#2a2a2a" stroke-width="0.6"/>
<line x1="442.60" y1="57.92" x2="445.00" y2="57.92" stroke="#2a2a2a" stroke-width="0.6"/>
<rect x="441.30" y="58.71" width="5.00" height="13.89" fill="#6a6a6a" stroke="#2a2a2a" stroke-width="0.8"/>
<circle cx="443.80" cy="59.11" r="1.1" fill="#111"/>
<circle cx="443.80" cy="58.00" r="1.0" fill="#111"/>
<circle cx="443.80" cy="60.71" r="0.9" fill="#111"/>
<line x1="450.60" y1="66.85" x2="450.60" y2="67.24" stroke="#e03c80" stroke-width="0.6"/>
<line x1="449.40" y1="66.85" x2="451.80" y2="66.85" stroke="#e03c80" stroke-width="0.6"/>
<rect x="448.10" y="67.24" width="5.00" height="5.36" fill="#f47aaf" stroke="#e03c80" stroke-width="0.8"/>
<circle cx="450.60" cy="67.64" r="1.1" fill="#e0206e"/>
<circle cx="450.60" cy="66.89" r="1.0" fill="#e0206e"/>
<circle cx="450.60" cy="69.24" r="0.9" fill="#e0206e"/>
<line x1="463.40" y1="60.70" x2="463.40" y2="61.29" stroke="#2a2a2a" stroke-width="0.6"/>
<line x1="462.20" y1="60.70" x2="464.60" y2="60.70" stroke="#2a2a2a" stroke-width="0.6"/>
<rect x="460.90" y="61.29" width="5.00" height="11.31" fill="#6a6a6a" stroke="#2a2a2a" stroke-width="0.8"/>
<circle cx="463.40" cy="61.69" r="1.1" fill="#111"/>
<circle cx="463.40" cy="60.76" r="1.0" fill="#111"/>
<circle cx="463.40" cy="63.29" r="0.9" fill="#111"/>
<line x1="470.20" y1="59.11" x2="470.20" y2="62.68" stroke="#e03c80" stroke-width="0.6"/>
<line x1="469.00" y1="59.11" x2="471.40" y2="59.11" stroke="#e03c80" stroke-width="0.6"/>
<rect x="467.70" y="62.68" width="5.00" height="9.92" fill="#f47aaf" stroke="#e03c80" stroke-width="0.8"/>
<circle cx="470.20" cy="63.08" r="1.1" fill="#e0206e"/>
<circle cx="470.20" cy="59.47" r="1.0" fill="#e0206e"/>
<circle cx="470.20" cy="64.68" r="0.9" fill="#e0206e"/>
<line x1="482.90" y1="50.38" x2="482.90" y2="51.57" stroke="#2a2a2a" stroke-width="0.6"/>
<line x1="481.70" y1="50.38" x2="484.10" y2="50.38" stroke="#2a2a2a" stroke-width="0.6"/>
<rect x="480.40" y="51.57" width="5.00" height="21.03" fill="#6a6a6a" stroke="#2a2a2a" stroke-width="0.8"/>
<circle cx="482.90" cy="51.97" r="1.1" fill="#111"/>
<circle cx="482.90" cy="50.50" r="1.0" fill="#111"/>
<circle cx="482.90" cy="53.57" r="0.9" fill="#111"/>
<line x1="489.70" y1="53.95" x2="489.70" y2="54.74" stroke="#e03c80" stroke-width="0.6"/>
<line x1="488.50" y1="53.95" x2="490.90" y2="53.95" stroke="#e03c80" stroke-width="0.6"/>
<rect x="487.20" y="54.74" width="5.00" height="17.86" fill="#f47aaf" stroke="#e03c80" stroke-width="0.8"/>
<circle cx="489.70" cy="55.14" r="1.1" fill="#e0206e"/>
<circle cx="489.70" cy="54.03" r="1.0" fill="#e0206e"/>
<circle cx="489.70" cy="56.74" r="0.9" fill="#e0206e"/>
<line x1="502.40" y1="47.20" x2="502.40" y2="48.79" stroke="#2a2a2a" stroke-width="0.6"/>
<line x1="501.20" y1="47.20" x2="503.60" y2="47.20" stroke="#2a2a2a" stroke-width="0.6"/>
<rect x="499.90" y="48.79" width="5.00" height="23.81" fill="#6a6a6a" stroke="#2a2a2a" stroke-width="0.8"/>
<circle cx="502.40" cy="49.19" r="1.1" fill="#111"/>
<circle cx="502.40" cy="47.36" r="1.0" fill="#111"/>
<circle cx="502.40" cy="50.79" r="0.9" fill="#111"/>
<line x1="509.20" y1="32.92" x2="509.20" y2="38.87" stroke="#e03c80" stroke-width="0.6"/>
<line x1="508.00" y1="32.92" x2="510.40" y2="32.92" stroke="#e03c80" stroke-width="0.6"/>
<rect x="506.70" y="38.87" width="5.00" height="33.73" fill="#f47aaf" stroke="#e03c80" stroke-width="0.8"/>
<circle cx="509.20" cy="39.27" r="1.1" fill="#e0206e"/>
<circle cx="509.20" cy="33.52" r="1.0" fill="#e0206e"/>
<circle cx="509.20" cy="40.87" r="0.9" fill="#e0206e"/>
<circle cx="448.2" cy="29.1" r="1.1" fill="#111"/>
<circle cx="448.2" cy="35.5" r="1.1" fill="#e0206e"/>
<text x="451.4" y="31.0" font-size="5.3" fill="#222">hT102</text>
<text x="451.4" y="37.4" font-size="5.3" fill="#222">hM1F</text>
</g>
<g class="ns">
<text x="438.2" y="89.2" font-size="6.6" font-weight="bold" textLength="79.8" lengthAdjust="spacingAndGlyphs" style="stroke:#000;stroke-width:0.1px">pHER2/HER2/GAPDH (<tspan font-style="italic">n</tspan> = 3)</text>
<line x1="438.20" y1="94.60" x2="438.20" y2="146.80" stroke="#222" stroke-width="0.7"/>
<line x1="438.20" y1="146.40" x2="515.50" y2="146.40" stroke="#222" stroke-width="0.7"/>
<line x1="436.80" y1="146.40" x2="438.20" y2="146.40" stroke="#222" stroke-width="0.6"/>
<text x="436.4" y="147.7" font-size="3.8" font-weight="bold" text-anchor="end" fill="#222" style="stroke:#222;stroke-width:0.12px">0.00</text>
<line x1="436.80" y1="136.10" x2="438.20" y2="136.10" stroke="#222" stroke-width="0.6"/>
<text x="436.4" y="137.4" font-size="3.8" font-weight="bold" text-anchor="end" fill="#222" style="stroke:#222;stroke-width:0.12px">0.05</text>
<line x1="436.80" y1="125.80" x2="438.20" y2="125.80" stroke="#222" stroke-width="0.6"/>
<text x="436.4" y="127.1" font-size="3.8" font-weight="bold" text-anchor="end" fill="#222" style="stroke:#222;stroke-width:0.12px">0.10</text>
<line x1="436.80" y1="115.50" x2="438.20" y2="115.50" stroke="#222" stroke-width="0.6"/>
<text x="436.4" y="116.8" font-size="3.8" font-weight="bold" text-anchor="end" fill="#222" style="stroke:#222;stroke-width:0.12px">0.15</text>
<line x1="436.80" y1="105.20" x2="438.20" y2="105.20" stroke="#222" stroke-width="0.6"/>
<text x="436.4" y="106.5" font-size="3.8" font-weight="bold" text-anchor="end" fill="#222" style="stroke:#222;stroke-width:0.12px">0.20</text>
<line x1="436.80" y1="94.90" x2="438.20" y2="94.90" stroke="#222" stroke-width="0.6"/>
<text x="436.4" y="96.2" font-size="3.8" font-weight="bold" text-anchor="end" fill="#222" style="stroke:#222;stroke-width:0.12px">0.25</text>
<line x1="447.20" y1="146.40" x2="447.20" y2="147.60" stroke="#222" stroke-width="0.5"/>
<line x1="466.80" y1="146.40" x2="466.80" y2="147.60" stroke="#222" stroke-width="0.5"/>
<line x1="486.30" y1="146.40" x2="486.30" y2="147.60" stroke="#222" stroke-width="0.5"/>
<line x1="505.80" y1="146.40" x2="505.80" y2="147.60" stroke="#222" stroke-width="0.5"/>
<text x="446.7" y="153.4" font-size="3.8" font-weight="bold" text-anchor="middle" fill="#222" style="stroke:#222;stroke-width:0.15px">0 hr</text>
<text x="466.3" y="153.4" font-size="3.8" font-weight="bold" text-anchor="middle" fill="#222" style="stroke:#222;stroke-width:0.15px">3 hr</text>
<text x="485.8" y="153.4" font-size="3.8" font-weight="bold" text-anchor="middle" fill="#222" style="stroke:#222;stroke-width:0.15px">24 hr</text>
<text x="505.3" y="153.4" font-size="3.8" font-weight="bold" text-anchor="middle" fill="#222" style="stroke:#222;stroke-width:0.15px">72 hr</text>
<text x="0" y="0" font-size="4.0" font-weight="bold" text-anchor="middle" fill="#222" transform="translate(427.2,120.65) rotate(-90)">Ratio</text>
<line x1="443.80" y1="140.63" x2="443.80" y2="141.25" stroke="#2a2a2a" stroke-width="0.6"/>
<line x1="442.60" y1="140.63" x2="445.00" y2="140.63" stroke="#2a2a2a" stroke-width="0.6"/>
<rect x="441.30" y="141.25" width="5.00" height="5.15" fill="#6a6a6a" stroke="#2a2a2a" stroke-width="0.8"/>
<circle cx="443.80" cy="141.65" r="1.1" fill="#111"/>
<circle cx="443.80" cy="140.69" r="1.0" fill="#111"/>
<circle cx="443.80" cy="143.25" r="0.9" fill="#111"/>
<line x1="450.60" y1="139.40" x2="450.60" y2="139.81" stroke="#e03c80" stroke-width="0.6"/>
<line x1="449.40" y1="139.40" x2="451.80" y2="139.40" stroke="#e03c80" stroke-width="0.6"/>
<rect x="448.10" y="139.81" width="5.00" height="6.59" fill="#f47aaf" stroke="#e03c80" stroke-width="0.8"/>
<circle cx="450.60" cy="140.21" r="1.1" fill="#e0206e"/>
<circle cx="450.60" cy="139.44" r="1.0" fill="#e0206e"/>
<circle cx="450.60" cy="141.81" r="0.9" fill="#e0206e"/>
<line x1="463.40" y1="141.87" x2="463.40" y2="142.28" stroke="#2a2a2a" stroke-width="0.6"/>
<line x1="462.20" y1="141.87" x2="464.60" y2="141.87" stroke="#2a2a2a" stroke-width="0.6"/>
<rect x="460.90" y="142.28" width="5.00" height="4.12" fill="#6a6a6a" stroke="#2a2a2a" stroke-width="0.8"/>
<circle cx="463.40" cy="142.68" r="1.1" fill="#111"/>
<circle cx="463.40" cy="141.91" r="1.0" fill="#111"/>
<circle cx="463.40" cy="144.28" r="0.9" fill="#111"/>
<line x1="470.20" y1="105.20" x2="470.20" y2="109.73" stroke="#e03c80" stroke-width="0.6"/>
<line x1="469.00" y1="105.20" x2="471.40" y2="105.20" stroke="#e03c80" stroke-width="0.6"/>
<rect x="467.70" y="109.73" width="5.00" height="36.67" fill="#f47aaf" stroke="#e03c80" stroke-width="0.8"/>
<circle cx="470.20" cy="110.13" r="1.1" fill="#e0206e"/>
<circle cx="470.20" cy="105.65" r="1.0" fill="#e0206e"/>
<circle cx="470.20" cy="111.73" r="0.9" fill="#e0206e"/>
<line x1="482.90" y1="138.16" x2="482.90" y2="138.78" stroke="#2a2a2a" stroke-width="0.6"/>
<line x1="481.70" y1="138.16" x2="484.10" y2="138.16" stroke="#2a2a2a" stroke-width="0.6"/>
<rect x="480.40" y="138.78" width="5.00" height="7.62" fill="#6a6a6a" stroke="#2a2a2a" stroke-width="0.8"/>
<circle cx="482.90" cy="139.18" r="1.1" fill="#111"/>
<circle cx="482.90" cy="138.22" r="1.0" fill="#111"/>
<circle cx="482.90" cy="140.78" r="0.9" fill="#111"/>
<line x1="489.70" y1="105.61" x2="489.70" y2="109.73" stroke="#e03c80" stroke-width="0.6"/>
<line x1="488.50" y1="105.61" x2="490.90" y2="105.61" stroke="#e03c80" stroke-width="0.6"/>
<rect x="487.20" y="109.73" width="5.00" height="36.67" fill="#f47aaf" stroke="#e03c80" stroke-width="0.8"/>
<circle cx="489.70" cy="110.13" r="1.1" fill="#e0206e"/>
<circle cx="489.70" cy="106.02" r="1.0" fill="#e0206e"/>
<circle cx="489.70" cy="111.73" r="0.9" fill="#e0206e"/>
<line x1="502.40" y1="139.19" x2="502.40" y2="139.60" stroke="#2a2a2a" stroke-width="0.6"/>
<line x1="501.20" y1="139.19" x2="503.60" y2="139.19" stroke="#2a2a2a" stroke-width="0.6"/>
<rect x="499.90" y="139.60" width="5.00" height="6.80" fill="#6a6a6a" stroke="#2a2a2a" stroke-width="0.8"/>
<circle cx="502.40" cy="140.00" r="1.1" fill="#111"/>
<circle cx="502.40" cy="139.23" r="1.0" fill="#111"/>
<circle cx="502.40" cy="141.60" r="0.9" fill="#111"/>
<line x1="509.20" y1="124.77" x2="509.20" y2="125.39" stroke="#e03c80" stroke-width="0.6"/>
<line x1="508.00" y1="124.77" x2="510.40" y2="124.77" stroke="#e03c80" stroke-width="0.6"/>
<rect x="506.70" y="125.39" width="5.00" height="21.01" fill="#f47aaf" stroke="#e03c80" stroke-width="0.8"/>
<circle cx="509.20" cy="125.79" r="1.1" fill="#e0206e"/>
<circle cx="509.20" cy="124.83" r="1.0" fill="#e0206e"/>
<circle cx="509.20" cy="127.39" r="0.9" fill="#e0206e"/>
<circle cx="445.7" cy="99.1" r="1.1" fill="#111"/>
<circle cx="445.7" cy="105.1" r="1.1" fill="#e0206e"/>
<text x="448.9" y="101.0" font-size="5.3" fill="#222">hT102</text>
<text x="448.9" y="107.0" font-size="5.3" fill="#222">hM1F</text>
</g>
<text x="417.4" y="185.4" font-size="12.6" font-weight="bold">F</text>
<g class="ns">
<text x="435.8" y="193.4" font-size="6.6" font-weight="bold" textLength="81.0" lengthAdjust="spacingAndGlyphs" style="stroke:#000;stroke-width:0.1px">pEGFR/EGFR/GAPDH (<tspan font-style="italic">n</tspan> = 3)</text>
<line x1="438.30" y1="200.50" x2="438.30" y2="251.20" stroke="#222" stroke-width="0.7"/>
<line x1="438.30" y1="250.80" x2="515.50" y2="250.80" stroke="#222" stroke-width="0.7"/>
<line x1="436.90" y1="250.80" x2="438.30" y2="250.80" stroke="#222" stroke-width="0.6"/>
<text x="436.5" y="252.1" font-size="3.8" font-weight="bold" text-anchor="end" fill="#222" style="stroke:#222;stroke-width:0.12px">0.00</text>
<line x1="436.90" y1="238.30" x2="438.30" y2="238.30" stroke="#222" stroke-width="0.6"/>
<text x="436.5" y="239.6" font-size="3.8" font-weight="bold" text-anchor="end" fill="#222" style="stroke:#222;stroke-width:0.12px">0.02</text>
<line x1="436.90" y1="225.80" x2="438.30" y2="225.80" stroke="#222" stroke-width="0.6"/>
<text x="436.5" y="227.1" font-size="3.8" font-weight="bold" text-anchor="end" fill="#222" style="stroke:#222;stroke-width:0.12px">0.04</text>
<line x1="436.90" y1="213.30" x2="438.30" y2="213.30" stroke="#222" stroke-width="0.6"/>
<text x="436.5" y="214.6" font-size="3.8" font-weight="bold" text-anchor="end" fill="#222" style="stroke:#222;stroke-width:0.12px">0.06</text>
<line x1="436.90" y1="200.80" x2="438.30" y2="200.80" stroke="#222" stroke-width="0.6"/>
<text x="436.5" y="202.1" font-size="3.8" font-weight="bold" text-anchor="end" fill="#222" style="stroke:#222;stroke-width:0.12px">0.08</text>
<line x1="445.60" y1="250.80" x2="445.60" y2="252.00" stroke="#222" stroke-width="0.5"/>
<line x1="465.10" y1="250.80" x2="465.10" y2="252.00" stroke="#222" stroke-width="0.5"/>
<line x1="485.00" y1="250.80" x2="485.00" y2="252.00" stroke="#222" stroke-width="0.5"/>
<line x1="504.30" y1="250.80" x2="504.30" y2="252.00" stroke="#222" stroke-width="0.5"/>
<text x="445.1" y="256.2" font-size="3.8" font-weight="bold" text-anchor="middle" fill="#222" style="stroke:#222;stroke-width:0.15px">0 hr</text>
<text x="464.6" y="256.2" font-size="3.8" font-weight="bold" text-anchor="middle" fill="#222" style="stroke:#222;stroke-width:0.15px">3 hr</text>
<text x="484.5" y="256.2" font-size="3.8" font-weight="bold" text-anchor="middle" fill="#222" style="stroke:#222;stroke-width:0.15px">24 hr</text>
<text x="503.8" y="256.2" font-size="3.8" font-weight="bold" text-anchor="middle" fill="#222" style="stroke:#222;stroke-width:0.15px">72 hr</text>
<text x="0" y="0" font-size="4.0" font-weight="bold" text-anchor="middle" fill="#222" transform="translate(425.6,225.80) rotate(-90)">Ratio</text>
<rect x="439.70" y="250.18" width="5.00" height="0.62" fill="#6a6a6a" stroke="#2a2a2a" stroke-width="0.8"/>
<circle cx="442.20" cy="250.58" r="1.1" fill="#111"/>
<line x1="449.00" y1="242.05" x2="449.00" y2="242.68" stroke="#e03c80" stroke-width="0.6"/>
<line x1="447.80" y1="242.05" x2="450.20" y2="242.05" stroke="#e03c80" stroke-width="0.6"/>
<rect x="446.50" y="242.68" width="5.00" height="8.12" fill="#f47aaf" stroke="#e03c80" stroke-width="0.8"/>
<circle cx="449.00" cy="243.08" r="1.1" fill="#e0206e"/>
<circle cx="449.00" cy="242.11" r="1.0" fill="#e0206e"/>
<circle cx="449.00" cy="244.68" r="0.9" fill="#e0206e"/>
<rect x="459.20" y="250.18" width="5.00" height="0.62" fill="#6a6a6a" stroke="#2a2a2a" stroke-width="0.8"/>
<circle cx="461.70" cy="250.58" r="1.1" fill="#111"/>
<line x1="468.50" y1="238.93" x2="468.50" y2="240.18" stroke="#e03c80" stroke-width="0.6"/>
<line x1="467.30" y1="238.93" x2="469.70" y2="238.93" stroke="#e03c80" stroke-width="0.6"/>
<rect x="466.00" y="240.18" width="5.00" height="10.62" fill="#f47aaf" stroke="#e03c80" stroke-width="0.8"/>
<circle cx="468.50" cy="240.58" r="1.1" fill="#e0206e"/>
<circle cx="468.50" cy="239.05" r="1.0" fill="#e0206e"/>
<circle cx="468.50" cy="242.18" r="0.9" fill="#e0206e"/>
<rect x="479.10" y="249.68" width="5.00" height="1.12" fill="#6a6a6a" stroke="#2a2a2a" stroke-width="0.8"/>
<circle cx="481.60" cy="250.08" r="1.1" fill="#111"/>
<line x1="488.40" y1="232.05" x2="488.40" y2="237.05" stroke="#e03c80" stroke-width="0.6"/>
<line x1="487.20" y1="232.05" x2="489.60" y2="232.05" stroke="#e03c80" stroke-width="0.6"/>
<rect x="485.90" y="237.05" width="5.00" height="13.75" fill="#f47aaf" stroke="#e03c80" stroke-width="0.8"/>
<circle cx="488.40" cy="237.45" r="1.1" fill="#e0206e"/>
<circle cx="488.40" cy="232.55" r="1.0" fill="#e0206e"/>
<circle cx="488.40" cy="239.05" r="0.9" fill="#e0206e"/>
<rect x="498.40" y="249.86" width="5.00" height="0.94" fill="#6a6a6a" stroke="#2a2a2a" stroke-width="0.8"/>
<circle cx="500.90" cy="250.26" r="1.1" fill="#111"/>
<line x1="507.70" y1="207.68" x2="507.70" y2="210.80" stroke="#e03c80" stroke-width="0.6"/>
<line x1="506.50" y1="207.68" x2="508.90" y2="207.68" stroke="#e03c80" stroke-width="0.6"/>
<rect x="505.20" y="210.80" width="5.00" height="40.00" fill="#f47aaf" stroke="#e03c80" stroke-width="0.8"/>
<circle cx="507.70" cy="211.20" r="1.1" fill="#e0206e"/>
<circle cx="507.70" cy="207.99" r="1.0" fill="#e0206e"/>
<circle cx="507.70" cy="212.80" r="0.9" fill="#e0206e"/>
<circle cx="440.8" cy="203.7" r="1.1" fill="#111"/>
<circle cx="440.8" cy="209.4" r="1.1" fill="#e0206e"/>
<text x="444.0" y="205.6" font-size="5.3" fill="#222">BXPC3</text>
<text x="444.0" y="211.3" font-size="5.3" fill="#222">SUIT2</text>
</g>
<g class="ns">
<text x="437.0" y="270.2" font-size="6.6" font-weight="bold" textLength="81.0" lengthAdjust="spacingAndGlyphs" style="stroke:#000;stroke-width:0.1px">pHER2/HER2/GAPDH (<tspan font-style="italic">n</tspan> = 3)</text>
<line x1="438.30" y1="275.70" x2="438.30" y2="328.40" stroke="#222" stroke-width="0.7"/>
<line x1="438.30" y1="328.00" x2="515.50" y2="328.00" stroke="#222" stroke-width="0.7"/>
<line x1="436.90" y1="328.00" x2="438.30" y2="328.00" stroke="#222" stroke-width="0.6"/>
<text x="436.5" y="329.3" font-size="3.8" font-weight="bold" text-anchor="end" fill="#222" style="stroke:#222;stroke-width:0.12px">0.000</text>
<line x1="436.90" y1="317.60" x2="438.30" y2="317.60" stroke="#222" stroke-width="0.6"/>
<text x="436.5" y="318.9" font-size="3.8" font-weight="bold" text-anchor="end" fill="#222" style="stroke:#222;stroke-width:0.12px">0.005</text>
<line x1="436.90" y1="307.20" x2="438.30" y2="307.20" stroke="#222" stroke-width="0.6"/>
<text x="436.5" y="308.5" font-size="3.8" font-weight="bold" text-anchor="end" fill="#222" style="stroke:#222;stroke-width:0.12px">0.010</text>
<line x1="436.90" y1="296.80" x2="438.30" y2="296.80" stroke="#222" stroke-width="0.6"/>
<text x="436.5" y="298.1" font-size="3.8" font-weight="bold" text-anchor="end" fill="#222" style="stroke:#222;stroke-width:0.12px">0.015</text>
<line x1="436.90" y1="286.40" x2="438.30" y2="286.40" stroke="#222" stroke-width="0.6"/>
<text x="436.5" y="287.7" font-size="3.8" font-weight="bold" text-anchor="end" fill="#222" style="stroke:#222;stroke-width:0.12px">0.020</text>
<line x1="436.90" y1="276.00" x2="438.30" y2="276.00" stroke="#222" stroke-width="0.6"/>
<text x="436.5" y="277.3" font-size="3.8" font-weight="bold" text-anchor="end" fill="#222" style="stroke:#222;stroke-width:0.12px">0.025</text>
<line x1="445.60" y1="328.00" x2="445.60" y2="329.20" stroke="#222" stroke-width="0.5"/>
<line x1="465.10" y1="328.00" x2="465.10" y2="329.20" stroke="#222" stroke-width="0.5"/>
<line x1="485.00" y1="328.00" x2="485.00" y2="329.20" stroke="#222" stroke-width="0.5"/>
<line x1="504.30" y1="328.00" x2="504.30" y2="329.20" stroke="#222" stroke-width="0.5"/>
<text x="445.1" y="334.6" font-size="3.8" font-weight="bold" text-anchor="middle" fill="#222" style="stroke:#222;stroke-width:0.15px">0 hr</text>
<text x="464.6" y="334.6" font-size="3.8" font-weight="bold" text-anchor="middle" fill="#222" style="stroke:#222;stroke-width:0.15px">3 hr</text>
<text x="484.5" y="334.6" font-size="3.8" font-weight="bold" text-anchor="middle" fill="#222" style="stroke:#222;stroke-width:0.15px">24 hr</text>
<text x="503.8" y="334.6" font-size="3.8" font-weight="bold" text-anchor="middle" fill="#222" style="stroke:#222;stroke-width:0.15px">72 hr</text>
<text x="0" y="0" font-size="4.0" font-weight="bold" text-anchor="middle" fill="#222" transform="translate(425.6,302.00) rotate(-90)">Ratio</text>
<rect x="439.70" y="325.92" width="5.00" height="2.08" fill="#6a6a6a" stroke="#2a2a2a" stroke-width="0.8"/>
<circle cx="442.20" cy="326.32" r="1.1" fill="#111"/>
<line x1="449.00" y1="318.22" x2="449.00" y2="318.64" stroke="#e03c80" stroke-width="0.6"/>
<line x1="447.80" y1="318.22" x2="450.20" y2="318.22" stroke="#e03c80" stroke-width="0.6"/>
<rect x="446.50" y="318.64" width="5.00" height="9.36" fill="#f47aaf" stroke="#e03c80" stroke-width="0.8"/>
<circle cx="449.00" cy="319.04" r="1.1" fill="#e0206e"/>
<circle cx="449.00" cy="318.27" r="1.0" fill="#e0206e"/>
<circle cx="449.00" cy="320.64" r="0.9" fill="#e0206e"/>
<rect x="459.20" y="324.88" width="5.00" height="3.12" fill="#6a6a6a" stroke="#2a2a2a" stroke-width="0.8"/>
<circle cx="461.70" cy="325.28" r="1.1" fill="#111"/>
<line x1="468.50" y1="301.38" x2="468.50" y2="302.00" stroke="#e03c80" stroke-width="0.6"/>
<line x1="467.30" y1="301.38" x2="469.70" y2="301.38" stroke="#e03c80" stroke-width="0.6"/>
<rect x="466.00" y="302.00" width="5.00" height="26.00" fill="#f47aaf" stroke="#e03c80" stroke-width="0.8"/>
<circle cx="468.50" cy="302.40" r="1.1" fill="#e0206e"/>
<circle cx="468.50" cy="301.44" r="1.0" fill="#e0206e"/>
<circle cx="468.50" cy="304.00" r="0.9" fill="#e0206e"/>
<line x1="481.60" y1="321.14" x2="481.60" y2="321.76" stroke="#2a2a2a" stroke-width="0.6"/>
<line x1="480.40" y1="321.14" x2="482.80" y2="321.14" stroke="#2a2a2a" stroke-width="0.6"/>
<rect x="479.10" y="321.76" width="5.00" height="6.24" fill="#6a6a6a" stroke="#2a2a2a" stroke-width="0.8"/>
<circle cx="481.60" cy="322.16" r="1.1" fill="#111"/>
<circle cx="481.60" cy="321.20" r="1.0" fill="#111"/>
<circle cx="481.60" cy="323.76" r="0.9" fill="#111"/>
<line x1="488.40" y1="317.60" x2="488.40" y2="318.64" stroke="#e03c80" stroke-width="0.6"/>
<line x1="487.20" y1="317.60" x2="489.60" y2="317.60" stroke="#e03c80" stroke-width="0.6"/>
<rect x="485.90" y="318.64" width="5.00" height="9.36" fill="#f47aaf" stroke="#e03c80" stroke-width="0.8"/>
<circle cx="488.40" cy="319.04" r="1.1" fill="#e0206e"/>
<circle cx="488.40" cy="317.70" r="1.0" fill="#e0206e"/>
<circle cx="488.40" cy="320.64" r="0.9" fill="#e0206e"/>
<line x1="500.90" y1="322.18" x2="500.90" y2="322.80" stroke="#2a2a2a" stroke-width="0.6"/>
<line x1="499.70" y1="322.18" x2="502.10" y2="322.18" stroke="#2a2a2a" stroke-width="0.6"/>
<rect x="498.40" y="322.80" width="5.00" height="5.20" fill="#6a6a6a" stroke="#2a2a2a" stroke-width="0.8"/>
<circle cx="500.90" cy="323.20" r="1.1" fill="#111"/>
<circle cx="500.90" cy="322.24" r="1.0" fill="#111"/>
<circle cx="500.90" cy="324.80" r="0.9" fill="#111"/>
<line x1="507.70" y1="288.48" x2="507.70" y2="290.56" stroke="#e03c80" stroke-width="0.6"/>
<line x1="506.50" y1="288.48" x2="508.90" y2="288.48" stroke="#e03c80" stroke-width="0.6"/>
<rect x="505.20" y="290.56" width="5.00" height="37.44" fill="#f47aaf" stroke="#e03c80" stroke-width="0.8"/>
<circle cx="507.70" cy="290.96" r="1.1" fill="#e0206e"/>
<circle cx="507.70" cy="288.69" r="1.0" fill="#e0206e"/>
<circle cx="507.70" cy="292.56" r="0.9" fill="#e0206e"/>
<circle cx="441.5" cy="280.4" r="1.1" fill="#111"/>
<circle cx="441.5" cy="286.0" r="1.1" fill="#e0206e"/>
<text x="444.5" y="282.3" font-size="5.3" fill="#222">BXPC3</text>
<text x="444.5" y="287.9" font-size="5.3" fill="#222">SUIT2</text>
</g>
<text x="417.4" y="358.8" font-size="12.6" font-weight="bold">I</text>
<g class="ns">
<text x="440.4" y="373.6" font-size="5.8" font-weight="bold" textLength="78.6" lengthAdjust="spacingAndGlyphs" style="stroke:#000;stroke-width:0.1px">pEGFR/EGFR/COFILIN (<tspan font-style="italic">n</tspan> = 3)</text>
<line x1="438.70" y1="379.50" x2="438.70" y2="433.20" stroke="#222" stroke-width="0.7"/>
<line x1="438.70" y1="432.80" x2="519.50" y2="432.80" stroke="#222" stroke-width="0.7"/>
<line x1="437.30" y1="432.80" x2="438.70" y2="432.80" stroke="#222" stroke-width="0.6"/>
<text x="436.9" y="434.1" font-size="3.8" font-weight="bold" text-anchor="end" fill="#222" style="stroke:#222;stroke-width:0.12px">0.00000</text>
<line x1="437.30" y1="422.20" x2="438.70" y2="422.20" stroke="#222" stroke-width="0.6"/>
<text x="436.9" y="423.5" font-size="3.8" font-weight="bold" text-anchor="end" fill="#222" style="stroke:#222;stroke-width:0.12px">0.00001</text>
<line x1="437.30" y1="411.60" x2="438.70" y2="411.60" stroke="#222" stroke-width="0.6"/>
<text x="436.9" y="412.9" font-size="3.8" font-weight="bold" text-anchor="end" fill="#222" style="stroke:#222;stroke-width:0.12px">0.00002</text>
<line x1="437.30" y1="401.00" x2="438.70" y2="401.00" stroke="#222" stroke-width="0.6"/>
<text x="436.9" y="402.3" font-size="3.8" font-weight="bold" text-anchor="end" fill="#222" style="stroke:#222;stroke-width:0.12px">0.00003</text>
<line x1="437.30" y1="390.40" x2="438.70" y2="390.40" stroke="#222" stroke-width="0.6"/>
<text x="436.9" y="391.7" font-size="3.8" font-weight="bold" text-anchor="end" fill="#222" style="stroke:#222;stroke-width:0.12px">0.00004</text>
<line x1="437.30" y1="379.80" x2="438.70" y2="379.80" stroke="#222" stroke-width="0.6"/>
<text x="436.9" y="381.1" font-size="3.8" font-weight="bold" text-anchor="end" fill="#222" style="stroke:#222;stroke-width:0.12px">0.00005</text>
<line x1="448.10" y1="432.80" x2="448.10" y2="434.00" stroke="#222" stroke-width="0.5"/>
<line x1="468.00" y1="432.80" x2="468.00" y2="434.00" stroke="#222" stroke-width="0.5"/>
<line x1="488.30" y1="432.80" x2="488.30" y2="434.00" stroke="#222" stroke-width="0.5"/>
<line x1="509.00" y1="432.80" x2="509.00" y2="434.00" stroke="#222" stroke-width="0.5"/>
<text x="447.6" y="439.5" font-size="3.8" font-weight="bold" text-anchor="middle" fill="#222" style="stroke:#222;stroke-width:0.15px">0 hrs</text>
<text x="467.5" y="439.5" font-size="3.8" font-weight="bold" text-anchor="middle" fill="#222" style="stroke:#222;stroke-width:0.15px">3 hrs</text>
<text x="487.8" y="439.5" font-size="3.8" font-weight="bold" text-anchor="middle" fill="#222" style="stroke:#222;stroke-width:0.15px">24 hrs</text>
<text x="508.5" y="439.5" font-size="3.8" font-weight="bold" text-anchor="middle" fill="#222" style="stroke:#222;stroke-width:0.15px">72 hrs</text>
<text x="0" y="0" font-size="4.0" font-weight="bold" text-anchor="middle" fill="#222" transform="translate(419.9,406.30) rotate(-90)">Ratio</text>
<line x1="444.70" y1="417.43" x2="444.70" y2="420.61" stroke="#2a2a2a" stroke-width="0.6"/>
<line x1="443.50" y1="417.43" x2="445.90" y2="417.43" stroke="#2a2a2a" stroke-width="0.6"/>
<rect x="442.20" y="420.61" width="5.00" height="12.19" fill="#6a6a6a" stroke="#2a2a2a" stroke-width="0.8"/>
<circle cx="444.70" cy="421.01" r="1.1" fill="#111"/>
<circle cx="444.70" cy="417.75" r="1.0" fill="#111"/>
<circle cx="444.70" cy="422.61" r="0.9" fill="#111"/>
<line x1="451.50" y1="398.35" x2="451.50" y2="406.83" stroke="#e03c80" stroke-width="0.6"/>
<line x1="450.30" y1="398.35" x2="452.70" y2="398.35" stroke="#e03c80" stroke-width="0.6"/>
<rect x="449.00" y="406.83" width="5.00" height="25.97" fill="#f47aaf" stroke="#e03c80" stroke-width="0.8"/>
<circle cx="451.50" cy="407.23" r="1.1" fill="#e0206e"/>
<circle cx="451.50" cy="399.20" r="1.0" fill="#e0206e"/>
<circle cx="451.50" cy="408.83" r="0.9" fill="#e0206e"/>
<line x1="464.60" y1="417.43" x2="464.60" y2="420.08" stroke="#2a2a2a" stroke-width="0.6"/>
<line x1="463.40" y1="417.43" x2="465.80" y2="417.43" stroke="#2a2a2a" stroke-width="0.6"/>
<rect x="462.10" y="420.08" width="5.00" height="12.72" fill="#6a6a6a" stroke="#2a2a2a" stroke-width="0.8"/>
<circle cx="464.60" cy="420.48" r="1.1" fill="#111"/>
<circle cx="464.60" cy="417.69" r="1.0" fill="#111"/>
<circle cx="464.60" cy="422.08" r="0.9" fill="#111"/>
<line x1="471.40" y1="401.74" x2="471.40" y2="407.04" stroke="#e03c80" stroke-width="0.6"/>
<line x1="470.20" y1="401.74" x2="472.60" y2="401.74" stroke="#e03c80" stroke-width="0.6"/>
<rect x="468.90" y="407.04" width="5.00" height="25.76" fill="#f47aaf" stroke="#e03c80" stroke-width="0.8"/>
<circle cx="471.40" cy="407.44" r="1.1" fill="#e0206e"/>
<circle cx="471.40" cy="402.27" r="1.0" fill="#e0206e"/>
<circle cx="471.40" cy="409.04" r="0.9" fill="#e0206e"/>
<line x1="484.90" y1="417.43" x2="484.90" y2="419.55" stroke="#2a2a2a" stroke-width="0.6"/>
<line x1="483.70" y1="417.43" x2="486.10" y2="417.43" stroke="#2a2a2a" stroke-width="0.6"/>
<rect x="482.40" y="419.55" width="5.00" height="13.25" fill="#6a6a6a" stroke="#2a2a2a" stroke-width="0.8"/>
<circle cx="484.90" cy="419.95" r="1.1" fill="#111"/>
<circle cx="484.90" cy="417.64" r="1.0" fill="#111"/>
<circle cx="484.90" cy="421.55" r="0.9" fill="#111"/>
<line x1="491.70" y1="389.34" x2="491.70" y2="404.18" stroke="#e03c80" stroke-width="0.6"/>
<line x1="490.50" y1="389.34" x2="492.90" y2="389.34" stroke="#e03c80" stroke-width="0.6"/>
<rect x="489.20" y="404.18" width="5.00" height="28.62" fill="#f47aaf" stroke="#e03c80" stroke-width="0.8"/>
<circle cx="491.70" cy="404.58" r="1.1" fill="#e0206e"/>
<circle cx="491.70" cy="390.82" r="1.0" fill="#e0206e"/>
<circle cx="491.70" cy="406.18" r="0.9" fill="#e0206e"/>
<line x1="505.60" y1="417.43" x2="505.60" y2="417.96" stroke="#2a2a2a" stroke-width="0.6"/>
<line x1="504.40" y1="417.43" x2="506.80" y2="417.43" stroke="#2a2a2a" stroke-width="0.6"/>
<rect x="503.10" y="417.96" width="5.00" height="14.84" fill="#6a6a6a" stroke="#2a2a2a" stroke-width="0.8"/>
<circle cx="505.60" cy="418.36" r="1.1" fill="#111"/>
<circle cx="505.60" cy="417.48" r="1.0" fill="#111"/>
<circle cx="505.60" cy="419.96" r="0.9" fill="#111"/>
<line x1="512.40" y1="389.87" x2="512.40" y2="408.95" stroke="#e03c80" stroke-width="0.6"/>
<line x1="511.20" y1="389.87" x2="513.60" y2="389.87" stroke="#e03c80" stroke-width="0.6"/>
<rect x="509.90" y="408.95" width="5.00" height="23.85" fill="#f47aaf" stroke="#e03c80" stroke-width="0.8"/>
<circle cx="512.40" cy="409.35" r="1.1" fill="#e0206e"/>
<circle cx="512.40" cy="391.78" r="1.0" fill="#e0206e"/>
<circle cx="512.40" cy="410.95" r="0.9" fill="#e0206e"/>
<circle cx="445.2" cy="381.9" r="1.1" fill="#111"/>
<circle cx="445.2" cy="389.0" r="1.1" fill="#e0206e"/>
<text x="450.0" y="383.8" font-size="6.3" fill="#222">mT3</text>
<text x="450.0" y="390.9" font-size="6.3" fill="#222">mT9</text>
</g>
<g class="ns">
<text x="441.7" y="452.2" font-size="5.8" font-weight="bold" textLength="77.3" lengthAdjust="spacingAndGlyphs" style="stroke:#000;stroke-width:0.1px">pHER2/HER2/COFILIN (<tspan font-style="italic">n</tspan> = 3)</text>
<line x1="438.60" y1="457.20" x2="438.60" y2="510.40" stroke="#222" stroke-width="0.7"/>
<line x1="438.60" y1="510.00" x2="519.50" y2="510.00" stroke="#222" stroke-width="0.7"/>
<line x1="437.20" y1="510.00" x2="438.60" y2="510.00" stroke="#222" stroke-width="0.6"/>
<text x="436.8" y="511.3" font-size="3.8" font-weight="bold" text-anchor="end" fill="#222" style="stroke:#222;stroke-width:0.12px">0.00000</text>
<line x1="437.20" y1="499.50" x2="438.60" y2="499.50" stroke="#222" stroke-width="0.6"/>
<text x="436.8" y="500.8" font-size="3.8" font-weight="bold" text-anchor="end" fill="#222" style="stroke:#222;stroke-width:0.12px">0.00002</text>
<line x1="437.20" y1="489.00" x2="438.60" y2="489.00" stroke="#222" stroke-width="0.6"/>
<text x="436.8" y="490.3" font-size="3.8" font-weight="bold" text-anchor="end" fill="#222" style="stroke:#222;stroke-width:0.12px">0.00004</text>
<line x1="437.20" y1="478.50" x2="438.60" y2="478.50" stroke="#222" stroke-width="0.6"/>
<text x="436.8" y="479.8" font-size="3.8" font-weight="bold" text-anchor="end" fill="#222" style="stroke:#222;stroke-width:0.12px">0.00006</text>
<line x1="437.20" y1="468.00" x2="438.60" y2="468.00" stroke="#222" stroke-width="0.6"/>
<text x="436.8" y="469.3" font-size="3.8" font-weight="bold" text-anchor="end" fill="#222" style="stroke:#222;stroke-width:0.12px">0.00008</text>
<line x1="437.20" y1="457.50" x2="438.60" y2="457.50" stroke="#222" stroke-width="0.6"/>
<text x="436.8" y="458.8" font-size="3.8" font-weight="bold" text-anchor="end" fill="#222" style="stroke:#222;stroke-width:0.12px">0.00010</text>
<line x1="448.10" y1="510.00" x2="448.10" y2="511.20" stroke="#222" stroke-width="0.5"/>
<line x1="468.00" y1="510.00" x2="468.00" y2="511.20" stroke="#222" stroke-width="0.5"/>
<line x1="488.30" y1="510.00" x2="488.30" y2="511.20" stroke="#222" stroke-width="0.5"/>
<line x1="509.00" y1="510.00" x2="509.00" y2="511.20" stroke="#222" stroke-width="0.5"/>
<text x="447.6" y="516.8" font-size="3.8" font-weight="bold" text-anchor="middle" fill="#222" style="stroke:#222;stroke-width:0.15px">0 hrs</text>
<text x="467.5" y="516.8" font-size="3.8" font-weight="bold" text-anchor="middle" fill="#222" style="stroke:#222;stroke-width:0.15px">3 hrs</text>
<text x="487.8" y="516.8" font-size="3.8" font-weight="bold" text-anchor="middle" fill="#222" style="stroke:#222;stroke-width:0.15px">24 hrs</text>
<text x="508.5" y="516.8" font-size="3.8" font-weight="bold" text-anchor="middle" fill="#222" style="stroke:#222;stroke-width:0.15px">72 hrs</text>
<text x="0" y="0" font-size="4.0" font-weight="bold" text-anchor="middle" fill="#222" transform="translate(419.9,483.75) rotate(-90)">Ratio</text>
<line x1="444.70" y1="497.40" x2="444.70" y2="498.98" stroke="#2a2a2a" stroke-width="0.6"/>
<line x1="443.50" y1="497.40" x2="445.90" y2="497.40" stroke="#2a2a2a" stroke-width="0.6"/>
<rect x="442.20" y="498.98" width="5.00" height="11.02" fill="#6a6a6a" stroke="#2a2a2a" stroke-width="0.8"/>
<circle cx="444.70" cy="499.38" r="1.1" fill="#111"/>
<circle cx="444.70" cy="497.56" r="1.0" fill="#111"/>
<circle cx="444.70" cy="500.98" r="0.9" fill="#111"/>
<line x1="451.50" y1="485.32" x2="451.50" y2="490.57" stroke="#e03c80" stroke-width="0.6"/>
<line x1="450.30" y1="485.32" x2="452.70" y2="485.32" stroke="#e03c80" stroke-width="0.6"/>
<rect x="449.00" y="490.57" width="5.00" height="19.43" fill="#f47aaf" stroke="#e03c80" stroke-width="0.8"/>
<circle cx="451.50" cy="490.97" r="1.1" fill="#e0206e"/>
<circle cx="451.50" cy="485.85" r="1.0" fill="#e0206e"/>
<circle cx="451.50" cy="492.57" r="0.9" fill="#e0206e"/>
<line x1="464.60" y1="498.45" x2="464.60" y2="499.50" stroke="#2a2a2a" stroke-width="0.6"/>
<line x1="463.40" y1="498.45" x2="465.80" y2="498.45" stroke="#2a2a2a" stroke-width="0.6"/>
<rect x="462.10" y="499.50" width="5.00" height="10.50" fill="#6a6a6a" stroke="#2a2a2a" stroke-width="0.8"/>
<circle cx="464.60" cy="499.90" r="1.1" fill="#111"/>
<circle cx="464.60" cy="498.56" r="1.0" fill="#111"/>
<circle cx="464.60" cy="501.50" r="0.9" fill="#111"/>
<line x1="471.40" y1="482.18" x2="471.40" y2="488.48" stroke="#e03c80" stroke-width="0.6"/>
<line x1="470.20" y1="482.18" x2="472.60" y2="482.18" stroke="#e03c80" stroke-width="0.6"/>
<rect x="468.90" y="488.48" width="5.00" height="21.52" fill="#f47aaf" stroke="#e03c80" stroke-width="0.8"/>
<circle cx="471.40" cy="488.88" r="1.1" fill="#e0206e"/>
<circle cx="471.40" cy="482.81" r="1.0" fill="#e0206e"/>
<circle cx="471.40" cy="490.48" r="0.9" fill="#e0206e"/>
<line x1="484.90" y1="497.93" x2="484.90" y2="499.50" stroke="#2a2a2a" stroke-width="0.6"/>
<line x1="483.70" y1="497.93" x2="486.10" y2="497.93" stroke="#2a2a2a" stroke-width="0.6"/>
<rect x="482.40" y="499.50" width="5.00" height="10.50" fill="#6a6a6a" stroke="#2a2a2a" stroke-width="0.8"/>
<circle cx="484.90" cy="499.90" r="1.1" fill="#111"/>
<circle cx="484.90" cy="498.08" r="1.0" fill="#111"/>
<circle cx="484.90" cy="501.50" r="0.9" fill="#111"/>
<line x1="491.70" y1="487.95" x2="491.70" y2="492.15" stroke="#e03c80" stroke-width="0.6"/>
<line x1="490.50" y1="487.95" x2="492.90" y2="487.95" stroke="#e03c80" stroke-width="0.6"/>
<rect x="489.20" y="492.15" width="5.00" height="17.85" fill="#f47aaf" stroke="#e03c80" stroke-width="0.8"/>
<circle cx="491.70" cy="492.55" r="1.1" fill="#e0206e"/>
<circle cx="491.70" cy="488.37" r="1.0" fill="#e0206e"/>
<circle cx="491.70" cy="494.15" r="0.9" fill="#e0206e"/>
<line x1="505.60" y1="497.40" x2="505.60" y2="498.45" stroke="#2a2a2a" stroke-width="0.6"/>
<line x1="504.40" y1="497.40" x2="506.80" y2="497.40" stroke="#2a2a2a" stroke-width="0.6"/>
<rect x="503.10" y="498.45" width="5.00" height="11.55" fill="#6a6a6a" stroke="#2a2a2a" stroke-width="0.8"/>
<circle cx="505.60" cy="498.85" r="1.1" fill="#111"/>
<circle cx="505.60" cy="497.50" r="1.0" fill="#111"/>
<circle cx="505.60" cy="500.45" r="0.9" fill="#111"/>
<line x1="512.40" y1="461.18" x2="512.40" y2="484.80" stroke="#e03c80" stroke-width="0.6"/>
<line x1="511.20" y1="461.18" x2="513.60" y2="461.18" stroke="#e03c80" stroke-width="0.6"/>
<rect x="509.90" y="484.80" width="5.00" height="25.20" fill="#f47aaf" stroke="#e03c80" stroke-width="0.8"/>
<circle cx="512.40" cy="485.20" r="1.1" fill="#e0206e"/>
<circle cx="512.40" cy="463.54" r="1.0" fill="#e0206e"/>
<circle cx="512.40" cy="486.80" r="0.9" fill="#e0206e"/>
<circle cx="445.2" cy="459.9" r="1.1" fill="#111"/>
<circle cx="445.2" cy="466.2" r="1.1" fill="#e0206e"/>
<text x="450.0" y="461.8" font-size="6.3" fill="#222">mT3</text>
<text x="450.0" y="468.1" font-size="6.3" fill="#222">mT9</text>
</g>
<text x="419.2" y="535.6" font-size="12.6" font-weight="bold">L</text>
<g class="ns">
<text x="439.6" y="549.9" font-size="6.6" font-weight="bold" textLength="78.3" lengthAdjust="spacingAndGlyphs" style="stroke:#000;stroke-width:0.1px">pEGFR/EGFR/GAPDH (<tspan font-style="italic">n</tspan> = 3)</text>
<line x1="439.60" y1="555.80" x2="439.60" y2="606.40" stroke="#222" stroke-width="0.7"/>
<line x1="439.60" y1="606.00" x2="515.50" y2="606.00" stroke="#222" stroke-width="0.7"/>
<line x1="438.20" y1="606.00" x2="439.60" y2="606.00" stroke="#222" stroke-width="0.6"/>
<text x="437.8" y="607.3" font-size="3.8" font-weight="bold" text-anchor="end" fill="#222" style="stroke:#222;stroke-width:0.12px">0.00</text>
<line x1="438.20" y1="599.20" x2="439.60" y2="599.20" stroke="#222" stroke-width="0.6"/>
<text x="437.8" y="600.5" font-size="3.8" font-weight="bold" text-anchor="end" fill="#222" style="stroke:#222;stroke-width:0.12px">0.01</text>
<line x1="438.20" y1="592.40" x2="439.60" y2="592.40" stroke="#222" stroke-width="0.6"/>
<text x="437.8" y="593.7" font-size="3.8" font-weight="bold" text-anchor="end" fill="#222" style="stroke:#222;stroke-width:0.12px">0.02</text>
<line x1="438.20" y1="585.60" x2="439.60" y2="585.60" stroke="#222" stroke-width="0.6"/>
<text x="437.8" y="586.9" font-size="3.8" font-weight="bold" text-anchor="end" fill="#222" style="stroke:#222;stroke-width:0.12px">0.03</text>
<line x1="438.20" y1="578.60" x2="439.60" y2="578.60" stroke="#222" stroke-width="0.6"/>
<text x="437.8" y="579.9" font-size="3.8" font-weight="bold" text-anchor="end" fill="#222" style="stroke:#222;stroke-width:0.12px">0.06</text>
<line x1="438.20" y1="571.10" x2="439.60" y2="571.10" stroke="#222" stroke-width="0.6"/>
<text x="437.8" y="572.4" font-size="3.8" font-weight="bold" text-anchor="end" fill="#222" style="stroke:#222;stroke-width:0.12px">0.08</text>
<line x1="438.20" y1="563.60" x2="439.60" y2="563.60" stroke="#222" stroke-width="0.6"/>
<text x="437.8" y="564.9" font-size="3.8" font-weight="bold" text-anchor="end" fill="#222" style="stroke:#222;stroke-width:0.12px">0.10</text>
<line x1="438.20" y1="556.10" x2="439.60" y2="556.10" stroke="#222" stroke-width="0.6"/>
<text x="437.8" y="557.4" font-size="3.8" font-weight="bold" text-anchor="end" fill="#222" style="stroke:#222;stroke-width:0.12px">0.12</text>
<line x1="448.10" y1="606.00" x2="448.10" y2="607.20" stroke="#222" stroke-width="0.5"/>
<line x1="468.20" y1="606.00" x2="468.20" y2="607.20" stroke="#222" stroke-width="0.5"/>
<line x1="487.80" y1="606.00" x2="487.80" y2="607.20" stroke="#222" stroke-width="0.5"/>
<line x1="507.60" y1="606.00" x2="507.60" y2="607.20" stroke="#222" stroke-width="0.5"/>
<text x="447.6" y="611.2" font-size="3.8" font-weight="bold" text-anchor="middle" fill="#222" style="stroke:#222;stroke-width:0.15px">0 hr</text>
<text x="467.7" y="611.2" font-size="3.8" font-weight="bold" text-anchor="middle" fill="#222" style="stroke:#222;stroke-width:0.15px">3 hr</text>
<text x="487.3" y="611.2" font-size="3.8" font-weight="bold" text-anchor="middle" fill="#222" style="stroke:#222;stroke-width:0.15px">24 hr</text>
<text x="507.1" y="611.2" font-size="3.8" font-weight="bold" text-anchor="middle" fill="#222" style="stroke:#222;stroke-width:0.15px">72 hr</text>
<text x="0" y="0" font-size="4.0" font-weight="bold" text-anchor="middle" fill="#222" transform="translate(429.3,581.05) rotate(-90)">Ratio</text>
<line x1="444.70" y1="601.65" x2="444.70" y2="601.92" stroke="#2a2a2a" stroke-width="0.6"/>
<line x1="443.50" y1="601.65" x2="445.90" y2="601.65" stroke="#2a2a2a" stroke-width="0.6"/>
<rect x="442.20" y="601.92" width="5.00" height="4.08" fill="#6a6a6a" stroke="#2a2a2a" stroke-width="0.8"/>
<circle cx="444.70" cy="602.32" r="1.1" fill="#111"/>
<circle cx="444.70" cy="601.68" r="1.0" fill="#111"/>
<circle cx="444.70" cy="603.92" r="0.9" fill="#111"/>
<line x1="451.50" y1="592.67" x2="451.50" y2="593.08" stroke="#e03c80" stroke-width="0.6"/>
<line x1="450.30" y1="592.67" x2="452.70" y2="592.67" stroke="#e03c80" stroke-width="0.6"/>
<rect x="449.00" y="593.08" width="5.00" height="12.92" fill="#f47aaf" stroke="#e03c80" stroke-width="0.8"/>
<circle cx="451.50" cy="593.48" r="1.1" fill="#e0206e"/>
<circle cx="451.50" cy="592.71" r="1.0" fill="#e0206e"/>
<circle cx="451.50" cy="595.08" r="0.9" fill="#e0206e"/>
<line x1="464.80" y1="600.83" x2="464.80" y2="601.10" stroke="#2a2a2a" stroke-width="0.6"/>
<line x1="463.60" y1="600.83" x2="466.00" y2="600.83" stroke="#2a2a2a" stroke-width="0.6"/>
<rect x="462.30" y="601.10" width="5.00" height="4.90" fill="#6a6a6a" stroke="#2a2a2a" stroke-width="0.8"/>
<circle cx="464.80" cy="601.50" r="1.1" fill="#111"/>
<circle cx="464.80" cy="600.86" r="1.0" fill="#111"/>
<circle cx="464.80" cy="603.10" r="0.9" fill="#111"/>
<line x1="471.60" y1="585.87" x2="471.60" y2="586.28" stroke="#e03c80" stroke-width="0.6"/>
<line x1="470.40" y1="585.87" x2="472.80" y2="585.87" stroke="#e03c80" stroke-width="0.6"/>
<rect x="469.10" y="586.28" width="5.00" height="19.72" fill="#f47aaf" stroke="#e03c80" stroke-width="0.8"/>
<circle cx="471.60" cy="586.68" r="1.1" fill="#e0206e"/>
<circle cx="471.60" cy="585.91" r="1.0" fill="#e0206e"/>
<circle cx="471.60" cy="588.28" r="0.9" fill="#e0206e"/>
<line x1="484.40" y1="600.15" x2="484.40" y2="600.42" stroke="#2a2a2a" stroke-width="0.6"/>
<line x1="483.20" y1="600.15" x2="485.60" y2="600.15" stroke="#2a2a2a" stroke-width="0.6"/>
<rect x="481.90" y="600.42" width="5.00" height="5.58" fill="#6a6a6a" stroke="#2a2a2a" stroke-width="0.8"/>
<circle cx="484.40" cy="600.82" r="1.1" fill="#111"/>
<circle cx="484.40" cy="600.18" r="1.0" fill="#111"/>
<circle cx="484.40" cy="602.42" r="0.9" fill="#111"/>
<line x1="491.20" y1="563.75" x2="491.20" y2="569.00" stroke="#e03c80" stroke-width="0.6"/>
<line x1="490.00" y1="563.75" x2="492.40" y2="563.75" stroke="#e03c80" stroke-width="0.6"/>
<rect x="488.70" y="569.00" width="5.00" height="37.00" fill="#f47aaf" stroke="#e03c80" stroke-width="0.8"/>
<circle cx="491.20" cy="569.40" r="1.1" fill="#e0206e"/>
<circle cx="491.20" cy="564.27" r="1.0" fill="#e0206e"/>
<circle cx="491.20" cy="571.00" r="0.9" fill="#e0206e"/>
<line x1="504.20" y1="604.50" x2="504.20" y2="604.64" stroke="#2a2a2a" stroke-width="0.6"/>
<line x1="503.00" y1="604.50" x2="505.40" y2="604.50" stroke="#2a2a2a" stroke-width="0.6"/>
<rect x="501.70" y="604.64" width="5.00" height="1.36" fill="#6a6a6a" stroke="#2a2a2a" stroke-width="0.8"/>
<circle cx="504.20" cy="605.04" r="1.1" fill="#111"/>
<circle cx="504.20" cy="604.52" r="1.0" fill="#111"/>
<circle cx="504.20" cy="606.64" r="0.9" fill="#111"/>
<line x1="511.00" y1="597.84" x2="511.00" y2="598.18" stroke="#e03c80" stroke-width="0.6"/>
<line x1="509.80" y1="597.84" x2="512.20" y2="597.84" stroke="#e03c80" stroke-width="0.6"/>
<rect x="508.50" y="598.18" width="5.00" height="7.82" fill="#f47aaf" stroke="#e03c80" stroke-width="0.8"/>
<circle cx="511.00" cy="598.58" r="1.1" fill="#e0206e"/>
<circle cx="511.00" cy="597.87" r="1.0" fill="#e0206e"/>
<circle cx="511.00" cy="600.18" r="0.9" fill="#e0206e"/>
<rect x="440.10" y="580.20" width="75.90" height="1.40" fill="#fff"/>
<line x1="438.40" y1="580.50" x2="440.80" y2="579.70" stroke="#222" stroke-width="0.6"/>
<line x1="438.40" y1="581.90" x2="440.80" y2="581.10" stroke="#222" stroke-width="0.6"/>
<circle cx="446.5" cy="559.0" r="1.1" fill="#111"/>
<circle cx="446.5" cy="565.0" r="1.1" fill="#e0206e"/>
<text x="449.4" y="560.9" font-size="5.0" fill="#222">1242</text>
<text x="449.4" y="566.9" font-size="5.0" fill="#222">1245</text>
</g>
<g class="ns">
<text x="438.8" y="622.9" font-size="6.6" font-weight="bold" textLength="80.0" lengthAdjust="spacingAndGlyphs" style="stroke:#000;stroke-width:0.1px">pHER2/HER2/GAPDH (<tspan font-style="italic">n</tspan> = 3)</text>
<line x1="438.60" y1="629.00" x2="438.60" y2="681.10" stroke="#222" stroke-width="0.7"/>
<line x1="438.60" y1="680.70" x2="515.50" y2="680.70" stroke="#222" stroke-width="0.7"/>
<line x1="437.20" y1="680.70" x2="438.60" y2="680.70" stroke="#222" stroke-width="0.6"/>
<text x="436.8" y="682.0" font-size="3.8" font-weight="bold" text-anchor="end" fill="#222" style="stroke:#222;stroke-width:0.12px">0.0000</text>
<line x1="437.20" y1="670.42" x2="438.60" y2="670.42" stroke="#222" stroke-width="0.6"/>
<text x="436.8" y="671.72" font-size="3.8" font-weight="bold" text-anchor="end" fill="#222" style="stroke:#222;stroke-width:0.12px">0.0005</text>
<line x1="437.20" y1="660.14" x2="438.60" y2="660.14" stroke="#222" stroke-width="0.6"/>
<text x="436.8" y="661.44" font-size="3.8" font-weight="bold" text-anchor="end" fill="#222" style="stroke:#222;stroke-width:0.12px">0.0010</text>
<line x1="437.20" y1="649.86" x2="438.60" y2="649.86" stroke="#222" stroke-width="0.6"/>
<text x="436.8" y="651.16" font-size="3.8" font-weight="bold" text-anchor="end" fill="#222" style="stroke:#222;stroke-width:0.12px">0.0015</text>
<line x1="437.20" y1="639.58" x2="438.60" y2="639.58" stroke="#222" stroke-width="0.6"/>
<text x="436.8" y="640.88" font-size="3.8" font-weight="bold" text-anchor="end" fill="#222" style="stroke:#222;stroke-width:0.12px">0.0020</text>
<line x1="437.20" y1="629.30" x2="438.60" y2="629.30" stroke="#222" stroke-width="0.6"/>
<text x="436.8" y="630.6" font-size="3.8" font-weight="bold" text-anchor="end" fill="#222" style="stroke:#222;stroke-width:0.12px">0.0025</text>
<line x1="448.10" y1="680.70" x2="448.10" y2="681.90" stroke="#222" stroke-width="0.5"/>
<line x1="468.20" y1="680.70" x2="468.20" y2="681.90" stroke="#222" stroke-width="0.5"/>
<line x1="487.80" y1="680.70" x2="487.80" y2="681.90" stroke="#222" stroke-width="0.5"/>
<line x1="507.60" y1="680.70" x2="507.60" y2="681.90" stroke="#222" stroke-width="0.5"/>
<text x="447.6" y="686.0" font-size="3.8" font-weight="bold" text-anchor="middle" fill="#222" style="stroke:#222;stroke-width:0.15px">0 hr</text>
<text x="467.7" y="686.0" font-size="3.8" font-weight="bold" text-anchor="middle" fill="#222" style="stroke:#222;stroke-width:0.15px">3 hr</text>
<text x="487.3" y="686.0" font-size="3.8" font-weight="bold" text-anchor="middle" fill="#222" style="stroke:#222;stroke-width:0.15px">24 hr</text>
<text x="507.1" y="686.0" font-size="3.8" font-weight="bold" text-anchor="middle" fill="#222" style="stroke:#222;stroke-width:0.15px">72 hr</text>
<text x="0" y="0" font-size="4.0" font-weight="bold" text-anchor="middle" fill="#222" transform="translate(422.9,655.00) rotate(-90)">Ratio</text>
<line x1="444.70" y1="672.06" x2="444.70" y2="672.48" stroke="#2a2a2a" stroke-width="0.6"/>
<line x1="443.50" y1="672.06" x2="445.90" y2="672.06" stroke="#2a2a2a" stroke-width="0.6"/>
<rect x="442.20" y="672.48" width="5.00" height="8.22" fill="#6a6a6a" stroke="#2a2a2a" stroke-width="0.8"/>
<circle cx="444.70" cy="672.88" r="1.1" fill="#111"/>
<circle cx="444.70" cy="672.11" r="1.0" fill="#111"/>
<circle cx="444.70" cy="674.48" r="0.9" fill="#111"/>
<line x1="451.50" y1="673.50" x2="451.50" y2="673.92" stroke="#e03c80" stroke-width="0.6"/>
<line x1="450.30" y1="673.50" x2="452.70" y2="673.50" stroke="#e03c80" stroke-width="0.6"/>
<rect x="449.00" y="673.92" width="5.00" height="6.78" fill="#f47aaf" stroke="#e03c80" stroke-width="0.8"/>
<circle cx="451.50" cy="674.32" r="1.1" fill="#e0206e"/>
<circle cx="451.50" cy="673.55" r="1.0" fill="#e0206e"/>
<circle cx="451.50" cy="675.92" r="0.9" fill="#e0206e"/>
<line x1="464.80" y1="638.14" x2="464.80" y2="638.55" stroke="#2a2a2a" stroke-width="0.6"/>
<line x1="463.60" y1="638.14" x2="466.00" y2="638.14" stroke="#2a2a2a" stroke-width="0.6"/>
<rect x="462.30" y="638.55" width="5.00" height="42.15" fill="#6a6a6a" stroke="#2a2a2a" stroke-width="0.8"/>
<circle cx="464.80" cy="638.95" r="1.1" fill="#111"/>
<circle cx="464.80" cy="638.18" r="1.0" fill="#111"/>
<circle cx="464.80" cy="640.55" r="0.9" fill="#111"/>
<line x1="471.60" y1="672.06" x2="471.60" y2="672.48" stroke="#e03c80" stroke-width="0.6"/>
<line x1="470.40" y1="672.06" x2="472.80" y2="672.06" stroke="#e03c80" stroke-width="0.6"/>
<rect x="469.10" y="672.48" width="5.00" height="8.22" fill="#f47aaf" stroke="#e03c80" stroke-width="0.8"/>
<circle cx="471.60" cy="672.88" r="1.1" fill="#e0206e"/>
<circle cx="471.60" cy="672.11" r="1.0" fill="#e0206e"/>
<circle cx="471.60" cy="674.48" r="0.9" fill="#e0206e"/>
<line x1="484.40" y1="664.87" x2="484.40" y2="665.28" stroke="#2a2a2a" stroke-width="0.6"/>
<line x1="483.20" y1="664.87" x2="485.60" y2="664.87" stroke="#2a2a2a" stroke-width="0.6"/>
<rect x="481.90" y="665.28" width="5.00" height="15.42" fill="#6a6a6a" stroke="#2a2a2a" stroke-width="0.8"/>
<circle cx="484.40" cy="665.68" r="1.1" fill="#111"/>
<circle cx="484.40" cy="664.91" r="1.0" fill="#111"/>
<circle cx="484.40" cy="667.28" r="0.9" fill="#111"/>
<line x1="491.20" y1="665.90" x2="491.20" y2="666.31" stroke="#e03c80" stroke-width="0.6"/>
<line x1="490.00" y1="665.90" x2="492.40" y2="665.90" stroke="#e03c80" stroke-width="0.6"/>
<rect x="488.70" y="666.31" width="5.00" height="14.39" fill="#f47aaf" stroke="#e03c80" stroke-width="0.8"/>
<circle cx="491.20" cy="666.71" r="1.1" fill="#e0206e"/>
<circle cx="491.20" cy="665.94" r="1.0" fill="#e0206e"/>
<circle cx="491.20" cy="668.31" r="0.9" fill="#e0206e"/>
<line x1="504.20" y1="667.95" x2="504.20" y2="668.36" stroke="#2a2a2a" stroke-width="0.6"/>
<line x1="503.00" y1="667.95" x2="505.40" y2="667.95" stroke="#2a2a2a" stroke-width="0.6"/>
<rect x="501.70" y="668.36" width="5.00" height="12.34" fill="#6a6a6a" stroke="#2a2a2a" stroke-width="0.8"/>
<circle cx="504.20" cy="668.76" r="1.1" fill="#111"/>
<circle cx="504.20" cy="667.99" r="1.0" fill="#111"/>
<circle cx="504.20" cy="670.36" r="0.9" fill="#111"/>
<line x1="511.00" y1="656.23" x2="511.00" y2="657.06" stroke="#e03c80" stroke-width="0.6"/>
<line x1="509.80" y1="656.23" x2="512.20" y2="656.23" stroke="#e03c80" stroke-width="0.6"/>
<rect x="508.50" y="657.06" width="5.00" height="23.64" fill="#f47aaf" stroke="#e03c80" stroke-width="0.8"/>
<circle cx="511.00" cy="657.46" r="1.1" fill="#e0206e"/>
<circle cx="511.00" cy="656.32" r="1.0" fill="#e0206e"/>
<circle cx="511.00" cy="659.06" r="0.9" fill="#e0206e"/>
<circle cx="495.7" cy="631.4" r="1.1" fill="#111"/>
<circle cx="495.7" cy="637.2" r="1.1" fill="#e0206e"/>
<text x="498.8" y="633.3" font-size="5.0" fill="#222">1242</text>
<text x="498.8" y="639.1" font-size="5.0" fill="#222">1245</text>
</g>
</svg></body></html>
